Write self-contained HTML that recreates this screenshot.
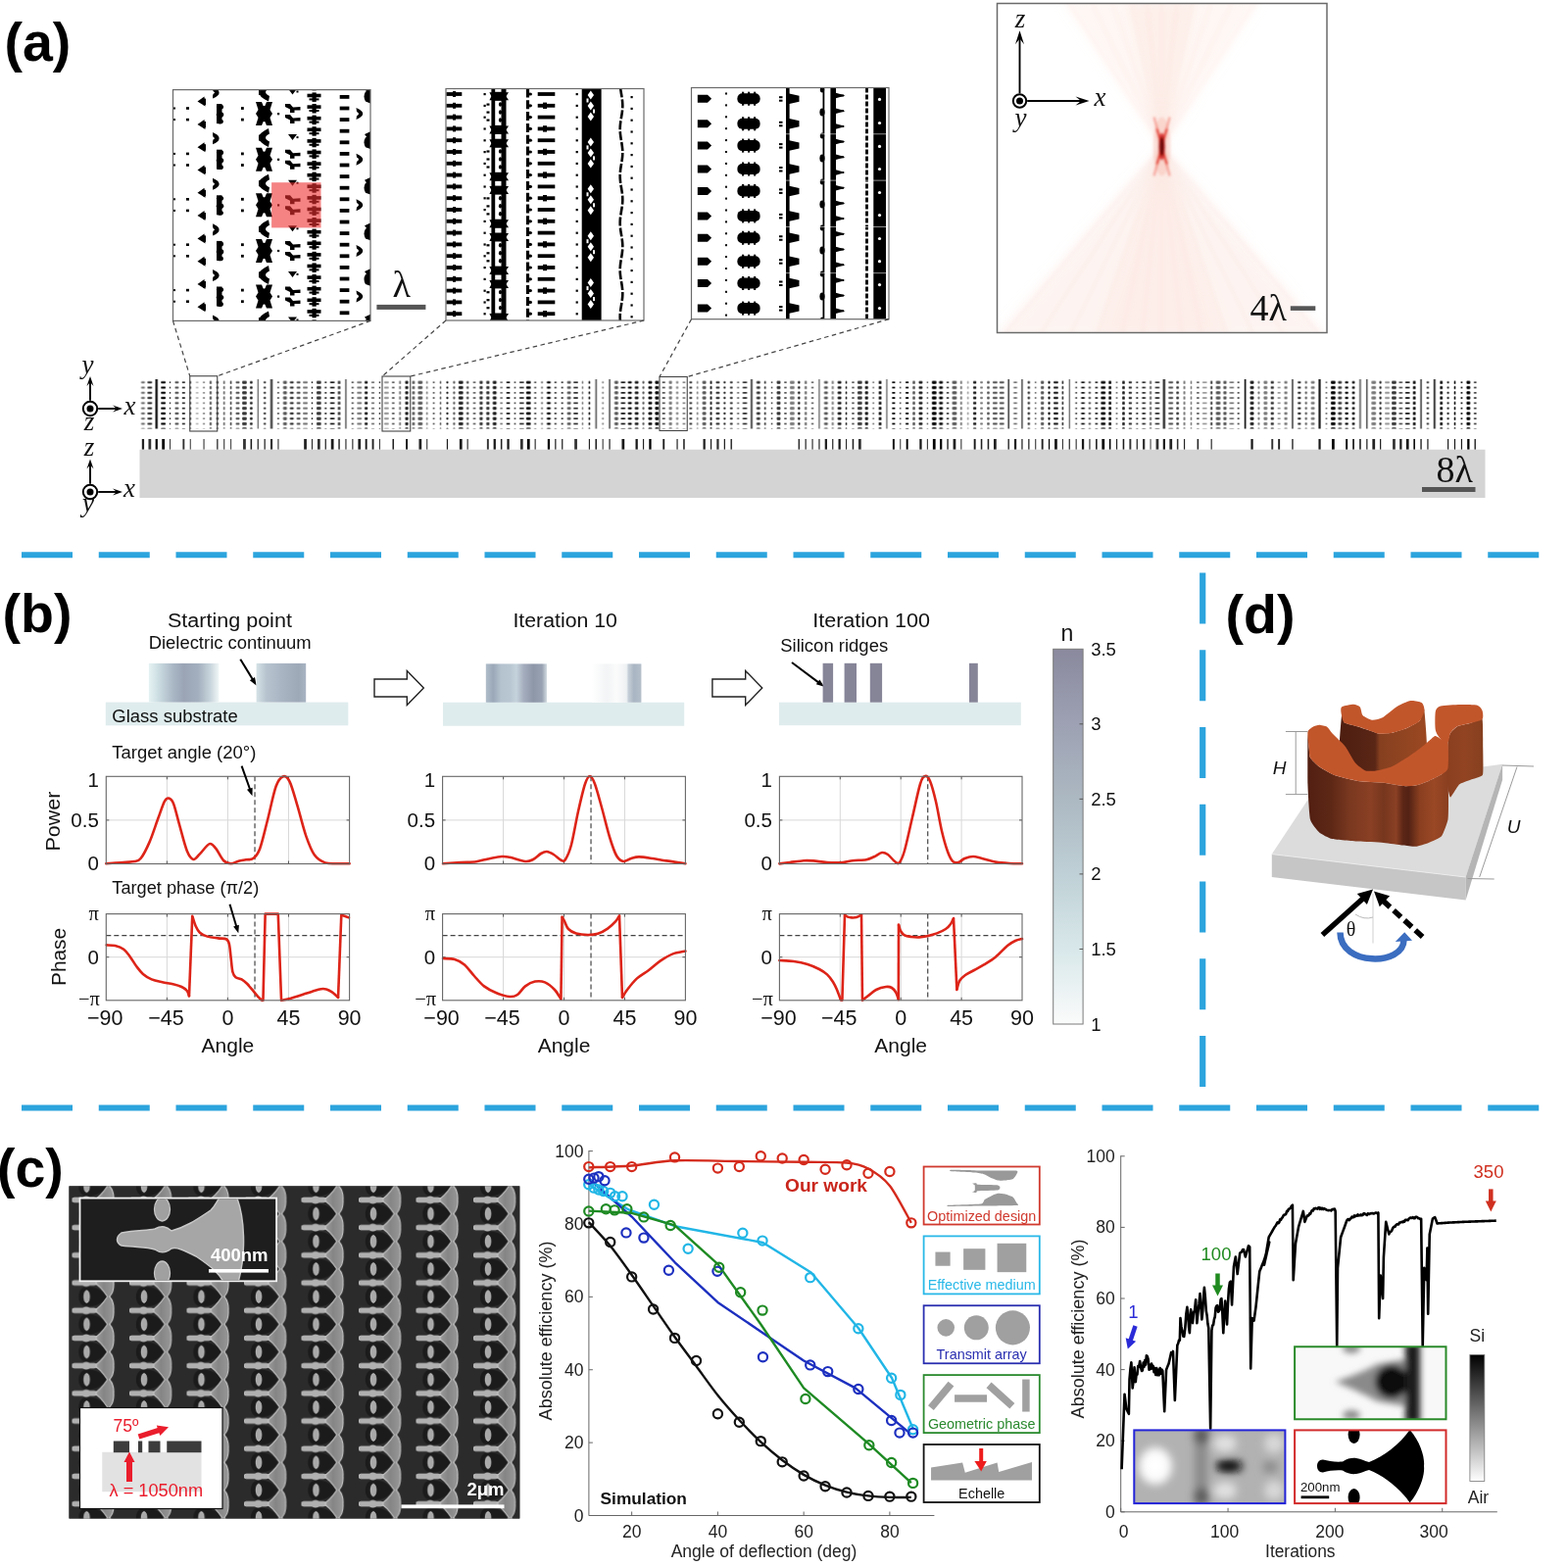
<!DOCTYPE html>
<html><head><meta charset="utf-8"><title>Figure</title>
<style>html,body{margin:0;padding:0;background:#fff;} svg{display:block;}</style></head>
<body><svg width="1600" height="1598" viewBox="0 0 1600 1598">
<defs><clipPath id="cb1"><rect x="176.5" y="91.6" width="201.5" height="235.8"/></clipPath><clipPath id="cb2"><rect x="455" y="90.5" width="202" height="236.5"/></clipPath><clipPath id="cb3"><rect x="705.5" y="89.5" width="201.5" height="236.2"/></clipPath><filter id="blur6" x="-20%" y="-20%" width="140%" height="140%"><feGaussianBlur stdDeviation="6"/></filter>
<filter id="blur2" x="-50%" y="-50%" width="200%" height="200%"><feGaussianBlur stdDeviation="2"/></filter>
<filter id="blur1" x="-50%" y="-50%" width="200%" height="200%"><feGaussianBlur stdDeviation="1.2"/></filter><clipPath id="cfb"><rect x="1017.5" y="3.5" width="336.5" height="336"/></clipPath><pattern id="sp0" patternUnits="userSpaceOnUse" x="142.5" y="387.6" width="6.9" height="5.28"><rect x="1.55" y="1.64" width="3.8" height="2" rx="0.6" fill="#777"/></pattern><pattern id="sp1" patternUnits="userSpaceOnUse" x="142.5" y="387.6" width="6.9" height="5.28"><rect x="1.15" y="1.64" width="4.6" height="2" rx="0.6" fill="#333"/></pattern><pattern id="sp2" patternUnits="userSpaceOnUse" x="142.5" y="387.6" width="6.9" height="5.28"><rect x="2.35" y="0" width="2.2" height="5.28" fill="#000"/></pattern><pattern id="sp3" patternUnits="userSpaceOnUse" x="142.5" y="387.6" width="6.9" height="5.28"><rect x="1.15" y="1.64" width="4.6" height="2" rx="0.6" fill="#000"/></pattern><pattern id="sp4" patternUnits="userSpaceOnUse" x="142.5" y="387.6" width="6.9" height="5.28"><rect x="2.65" y="1.84" width="1.6" height="1.6" rx="0.48" fill="#333"/></pattern><pattern id="sp5" patternUnits="userSpaceOnUse" x="142.5" y="387.6" width="6.9" height="5.28"><rect x="1.55" y="1.64" width="3.8" height="2" rx="0.6" fill="#555"/></pattern><pattern id="sp6" patternUnits="userSpaceOnUse" x="142.5" y="387.6" width="6.9" height="5.28"><rect x="1.85" y="1.84" width="3.2" height="1.6" rx="0.48" fill="#333"/></pattern><pattern id="sp7" patternUnits="userSpaceOnUse" x="142.5" y="387.6" width="6.9" height="5.28"><rect x="2.65" y="1.34" width="1.6" height="2.6" rx="0.48" fill="#333"/></pattern><pattern id="sp8" patternUnits="userSpaceOnUse" x="142.5" y="387.6" width="6.9" height="5.28"><rect x="2.15" y="1.84" width="2.6" height="1.6" rx="0.48" fill="#b5b5b5"/></pattern><pattern id="sp9" patternUnits="userSpaceOnUse" x="142.5" y="387.6" width="6.9" height="5.28"><rect x="2.65" y="1.84" width="1.6" height="1.6" rx="0.48" fill="#555"/></pattern><pattern id="sp10" patternUnits="userSpaceOnUse" x="142.5" y="387.6" width="6.9" height="5.28"><rect x="2.65" y="1.04" width="1.6" height="3.2" rx="0.48" fill="#1a1a1a"/></pattern><pattern id="sp11" patternUnits="userSpaceOnUse" x="142.5" y="387.6" width="6.9" height="5.28"><rect x="2.45" y="1.34" width="2" height="2.6" rx="0.6" fill="#1a1a1a"/></pattern><pattern id="sp12" patternUnits="userSpaceOnUse" x="142.5" y="387.6" width="6.9" height="5.28"><rect x="2.65" y="1.04" width="1.6" height="3.2" rx="0.48" fill="#555"/></pattern><pattern id="sp13" patternUnits="userSpaceOnUse" x="142.5" y="387.6" width="6.9" height="5.28"><rect x="2.65" y="1.04" width="1.6" height="3.2" rx="0.48" fill="#333"/></pattern><pattern id="sp14" patternUnits="userSpaceOnUse" x="142.5" y="387.6" width="6.9" height="5.28"><rect x="1.15" y="1.04" width="4.6" height="3.2" rx="0.96" fill="#333"/></pattern><pattern id="sp15" patternUnits="userSpaceOnUse" x="142.5" y="387.6" width="6.9" height="5.28"><rect x="2.15" y="1.34" width="2.6" height="2.6" rx="0.78" fill="#1a1a1a"/></pattern><pattern id="sp16" patternUnits="userSpaceOnUse" x="142.5" y="387.6" width="6.9" height="5.28"><rect x="2.85" y="0" width="1.2" height="5.28" fill="#555"/></pattern><pattern id="sp17" patternUnits="userSpaceOnUse" x="142.5" y="387.6" width="6.9" height="5.28"><rect x="2.45" y="1.64" width="2" height="2" rx="0.6" fill="#1a1a1a"/></pattern><pattern id="sp18" patternUnits="userSpaceOnUse" x="142.5" y="387.6" width="6.9" height="5.28"><rect x="2.35" y="0" width="2.2" height="5.28" fill="#333"/></pattern><pattern id="sp19" patternUnits="userSpaceOnUse" x="142.5" y="387.6" width="6.9" height="5.28"><rect x="2.65" y="1.84" width="1.6" height="1.6" rx="0.48" fill="#1a1a1a"/></pattern><pattern id="sp20" patternUnits="userSpaceOnUse" x="142.5" y="387.6" width="6.9" height="5.28"><rect x="1.55" y="1.04" width="3.8" height="3.2" rx="0.96" fill="#555"/></pattern><pattern id="sp21" patternUnits="userSpaceOnUse" x="142.5" y="387.6" width="6.9" height="5.28"><rect x="1.55" y="1.64" width="3.8" height="2" rx="0.6" fill="#333"/></pattern><pattern id="sp22" patternUnits="userSpaceOnUse" x="142.5" y="387.6" width="6.9" height="5.28"><rect x="1.15" y="1.64" width="4.6" height="2" rx="0.6" fill="#777"/></pattern><pattern id="sp23" patternUnits="userSpaceOnUse" x="142.5" y="387.6" width="6.9" height="5.28"><rect x="2.45" y="1.84" width="2" height="1.6" rx="0.48" fill="#1a1a1a"/></pattern><pattern id="sp24" patternUnits="userSpaceOnUse" x="142.5" y="387.6" width="6.9" height="5.28"><rect x="1.15" y="1.84" width="4.6" height="1.6" rx="0.48" fill="#1a1a1a"/></pattern><pattern id="sp25" patternUnits="userSpaceOnUse" x="142.5" y="387.6" width="6.9" height="5.28"><rect x="2.15" y="1.04" width="2.6" height="3.2" rx="0.78" fill="#333"/></pattern><pattern id="sp26" patternUnits="userSpaceOnUse" x="142.5" y="387.6" width="6.9" height="5.28"><rect x="2.85" y="0" width="1.2" height="5.28" fill="#333"/></pattern><pattern id="sp27" patternUnits="userSpaceOnUse" x="142.5" y="387.6" width="6.9" height="5.28"><rect x="2.45" y="1.84" width="2" height="1.6" rx="0.48" fill="#333"/></pattern><pattern id="sp28" patternUnits="userSpaceOnUse" x="142.5" y="387.6" width="6.9" height="5.28"><rect x="1.85" y="1.34" width="3.2" height="2.6" rx="0.78" fill="#1a1a1a"/></pattern><pattern id="sp29" patternUnits="userSpaceOnUse" x="142.5" y="387.6" width="6.9" height="5.28"><rect x="1.85" y="1.84" width="3.2" height="1.6" rx="0.48" fill="#777"/></pattern><pattern id="sp30" patternUnits="userSpaceOnUse" x="142.5" y="387.6" width="6.9" height="5.28"><rect x="1.15" y="1.64" width="4.6" height="2" rx="0.6" fill="#999"/></pattern><pattern id="sp31" patternUnits="userSpaceOnUse" x="142.5" y="387.6" width="6.9" height="5.28"><rect x="2.15" y="1.84" width="2.6" height="1.6" rx="0.48" fill="#555"/></pattern><pattern id="sp32" patternUnits="userSpaceOnUse" x="142.5" y="387.6" width="6.9" height="5.28"><rect x="1.85" y="1.04" width="3.2" height="3.2" rx="0.96" fill="#1a1a1a"/></pattern><pattern id="sp33" patternUnits="userSpaceOnUse" x="142.5" y="387.6" width="6.9" height="5.28"><rect x="2.15" y="1.04" width="2.6" height="3.2" rx="0.78" fill="#555"/></pattern><pattern id="sp34" patternUnits="userSpaceOnUse" x="142.5" y="387.6" width="6.9" height="5.28"><rect x="1.15" y="1.04" width="4.6" height="3.2" rx="0.96" fill="#555"/></pattern><pattern id="sp35" patternUnits="userSpaceOnUse" x="142.5" y="387.6" width="6.9" height="5.28"><rect x="2.65" y="1.34" width="1.6" height="2.6" rx="0.48" fill="#777"/></pattern><pattern id="sp36" patternUnits="userSpaceOnUse" x="142.5" y="387.6" width="6.9" height="5.28"><rect x="2.45" y="1.84" width="2" height="1.6" rx="0.48" fill="#555"/></pattern><pattern id="sp37" patternUnits="userSpaceOnUse" x="142.5" y="387.6" width="6.9" height="5.28"><rect x="2.65" y="1.34" width="1.6" height="2.6" rx="0.48" fill="#555"/></pattern><pattern id="sp38" patternUnits="userSpaceOnUse" x="142.5" y="387.6" width="6.9" height="5.28"><rect x="2.45" y="1.34" width="2" height="2.6" rx="0.6" fill="#555"/></pattern><pattern id="sp39" patternUnits="userSpaceOnUse" x="142.5" y="387.6" width="6.9" height="5.28"><rect x="1.15" y="1.04" width="4.6" height="3.2" rx="0.96" fill="#1a1a1a"/></pattern><pattern id="sp40" patternUnits="userSpaceOnUse" x="142.5" y="387.6" width="6.9" height="5.28"><rect x="2.45" y="1.34" width="2" height="2.6" rx="0.6" fill="#333"/></pattern><pattern id="sp41" patternUnits="userSpaceOnUse" x="142.5" y="387.6" width="6.9" height="5.28"><rect x="1.85" y="1.04" width="3.2" height="3.2" rx="0.96" fill="#333"/></pattern><pattern id="sp42" patternUnits="userSpaceOnUse" x="142.5" y="387.6" width="6.9" height="5.28"><rect x="1.55" y="1.04" width="3.8" height="3.2" rx="0.96" fill="#1a1a1a"/></pattern><pattern id="sp43" patternUnits="userSpaceOnUse" x="142.5" y="387.6" width="6.9" height="5.28"><rect x="2.15" y="1.84" width="2.6" height="1.6" rx="0.48" fill="#777"/></pattern><pattern id="sp44" patternUnits="userSpaceOnUse" x="142.5" y="387.6" width="6.9" height="5.28"><rect x="1.55" y="1.84" width="3.8" height="1.6" rx="0.48" fill="#1a1a1a"/></pattern><pattern id="sp45" patternUnits="userSpaceOnUse" x="142.5" y="387.6" width="6.9" height="5.28"><rect x="1.15" y="1.84" width="4.6" height="1.6" rx="0.48" fill="#333"/></pattern><pattern id="sp46" patternUnits="userSpaceOnUse" x="142.5" y="387.6" width="6.9" height="5.28"><rect x="1.15" y="1.34" width="4.6" height="2.6" rx="0.78" fill="#000"/></pattern><pattern id="sp47" patternUnits="userSpaceOnUse" x="142.5" y="387.6" width="6.9" height="5.28"><rect x="2.65" y="1.64" width="1.6" height="2" rx="0.48" fill="#555"/></pattern><pattern id="sp48" patternUnits="userSpaceOnUse" x="142.5" y="387.6" width="6.9" height="5.28"><rect x="1.55" y="1.64" width="3.8" height="2" rx="0.6" fill="#000"/></pattern><pattern id="sp49" patternUnits="userSpaceOnUse" x="142.5" y="387.6" width="6.9" height="5.28"><rect x="1.55" y="1.34" width="3.8" height="2.6" rx="0.78" fill="#555"/></pattern><pattern id="sp50" patternUnits="userSpaceOnUse" x="142.5" y="387.6" width="6.9" height="5.28"><rect x="2.65" y="1.34" width="1.6" height="2.6" rx="0.48" fill="#000"/></pattern><pattern id="sp51" patternUnits="userSpaceOnUse" x="142.5" y="387.6" width="6.9" height="5.28"><rect x="2.65" y="0" width="1.6" height="5.28" fill="#555"/></pattern><pattern id="sp52" patternUnits="userSpaceOnUse" x="142.5" y="387.6" width="6.9" height="5.28"><rect x="2.65" y="1.64" width="1.6" height="2" rx="0.48" fill="#777"/></pattern><pattern id="sp53" patternUnits="userSpaceOnUse" x="142.5" y="387.6" width="6.9" height="5.28"><rect x="2.85" y="0" width="1.2" height="5.28" fill="#1a1a1a"/></pattern><pattern id="sp54" patternUnits="userSpaceOnUse" x="142.5" y="387.6" width="6.9" height="5.28"><rect x="1.55" y="1.34" width="3.8" height="2.6" rx="0.78" fill="#1a1a1a"/></pattern><pattern id="sp55" patternUnits="userSpaceOnUse" x="142.5" y="387.6" width="6.9" height="5.28"><rect x="1.55" y="1.34" width="3.8" height="2.6" rx="0.78" fill="#000"/></pattern><pattern id="sp56" patternUnits="userSpaceOnUse" x="142.5" y="387.6" width="6.9" height="5.28"><rect x="1.55" y="1.04" width="3.8" height="3.2" rx="0.96" fill="#000"/></pattern><pattern id="sp57" patternUnits="userSpaceOnUse" x="142.5" y="387.6" width="6.9" height="5.28"><rect x="1.85" y="1.84" width="3.2" height="1.6" rx="0.48" fill="#555"/></pattern><pattern id="sp58" patternUnits="userSpaceOnUse" x="142.5" y="387.6" width="6.9" height="5.28"><rect x="1.85" y="1.04" width="3.2" height="3.2" rx="0.96" fill="#777"/></pattern><pattern id="sp59" patternUnits="userSpaceOnUse" x="142.5" y="387.6" width="6.9" height="5.28"><rect x="2.45" y="1.34" width="2" height="2.6" rx="0.6" fill="#777"/></pattern><pattern id="sp60" patternUnits="userSpaceOnUse" x="142.5" y="387.6" width="6.9" height="5.28"><rect x="2.15" y="1.64" width="2.6" height="2" rx="0.6" fill="#333"/></pattern><pattern id="sp61" patternUnits="userSpaceOnUse" x="142.5" y="387.6" width="6.9" height="5.28"><rect x="2.45" y="1.04" width="2" height="3.2" rx="0.6" fill="#1a1a1a"/></pattern><pattern id="sp62" patternUnits="userSpaceOnUse" x="142.5" y="387.6" width="6.9" height="5.28"><rect x="2.65" y="0" width="1.6" height="5.28" fill="#1a1a1a"/></pattern><pattern id="sp63" patternUnits="userSpaceOnUse" x="142.5" y="387.6" width="6.9" height="5.28"><rect x="1.55" y="1.34" width="3.8" height="2.6" rx="0.78" fill="#333"/></pattern><pattern id="sp64" patternUnits="userSpaceOnUse" x="142.5" y="387.6" width="6.9" height="5.28"><rect x="2.65" y="1.34" width="1.6" height="2.6" rx="0.48" fill="#1a1a1a"/></pattern><pattern id="sp65" patternUnits="userSpaceOnUse" x="142.5" y="387.6" width="6.9" height="5.28"><rect x="1.55" y="1.04" width="3.8" height="3.2" rx="0.96" fill="#333"/></pattern><pattern id="sp66" patternUnits="userSpaceOnUse" x="142.5" y="387.6" width="6.9" height="5.28"><rect x="1.15" y="1.04" width="4.6" height="3.2" rx="0.96" fill="#777"/></pattern><pattern id="sp67" patternUnits="userSpaceOnUse" x="142.5" y="387.6" width="6.9" height="5.28"><rect x="2.45" y="1.34" width="2" height="2.6" rx="0.6" fill="#000"/></pattern><pattern id="sp68" patternUnits="userSpaceOnUse" x="142.5" y="387.6" width="6.9" height="5.28"><rect x="2.45" y="1.04" width="2" height="3.2" rx="0.6" fill="#555"/></pattern><pattern id="sp69" patternUnits="userSpaceOnUse" x="142.5" y="387.6" width="6.9" height="5.28"><rect x="2.45" y="1.04" width="2" height="3.2" rx="0.6" fill="#777"/></pattern><pattern id="sp70" patternUnits="userSpaceOnUse" x="142.5" y="387.6" width="6.9" height="5.28"><rect x="2.15" y="1.04" width="2.6" height="3.2" rx="0.78" fill="#000"/></pattern><pattern id="sp71" patternUnits="userSpaceOnUse" x="142.5" y="387.6" width="6.9" height="5.28"><rect x="1.85" y="1.84" width="3.2" height="1.6" rx="0.48" fill="#000"/></pattern><pattern id="sp72" patternUnits="userSpaceOnUse" x="142.5" y="387.6" width="6.9" height="5.28"><rect x="1.15" y="1.04" width="4.6" height="3.2" rx="0.96" fill="#000"/></pattern><pattern id="sp73" patternUnits="userSpaceOnUse" x="142.5" y="387.6" width="6.9" height="5.28"><rect x="2.45" y="1.84" width="2" height="1.6" rx="0.48" fill="#000"/></pattern><pattern id="sp74" patternUnits="userSpaceOnUse" x="142.5" y="387.6" width="6.9" height="5.28"><rect x="2.65" y="1.34" width="1.6" height="2.6" rx="0.48" fill="#999"/></pattern><pattern id="sp75" patternUnits="userSpaceOnUse" x="142.5" y="387.6" width="6.9" height="5.28"><rect x="2.15" y="1.64" width="2.6" height="2" rx="0.6" fill="#777"/></pattern><pattern id="sp76" patternUnits="userSpaceOnUse" x="142.5" y="387.6" width="6.9" height="5.28"><rect x="2.15" y="1.34" width="2.6" height="2.6" rx="0.78" fill="#555"/></pattern><pattern id="sp77" patternUnits="userSpaceOnUse" x="142.5" y="387.6" width="6.9" height="5.28"><rect x="1.15" y="1.64" width="4.6" height="2" rx="0.6" fill="#555"/></pattern><pattern id="sp78" patternUnits="userSpaceOnUse" x="142.5" y="387.6" width="6.9" height="5.28"><rect x="2.85" y="0" width="1.2" height="5.28" fill="#000"/></pattern><pattern id="sp79" patternUnits="userSpaceOnUse" x="142.5" y="387.6" width="6.9" height="5.28"><rect x="1.55" y="1.84" width="3.8" height="1.6" rx="0.48" fill="#777"/></pattern><pattern id="sp80" patternUnits="userSpaceOnUse" x="142.5" y="387.6" width="6.9" height="5.28"><rect x="1.85" y="1.04" width="3.2" height="3.2" rx="0.96" fill="#555"/></pattern><pattern id="sp81" patternUnits="userSpaceOnUse" x="142.5" y="387.6" width="6.9" height="5.28"><rect x="1.15" y="1.64" width="4.6" height="2" rx="0.6" fill="#1a1a1a"/></pattern><pattern id="sp82" patternUnits="userSpaceOnUse" x="142.5" y="387.6" width="6.9" height="5.28"><rect x="2.45" y="1.64" width="2" height="2" rx="0.6" fill="#333"/></pattern><pattern id="sp83" patternUnits="userSpaceOnUse" x="142.5" y="387.6" width="6.9" height="5.28"><rect x="2.15" y="1.84" width="2.6" height="1.6" rx="0.48" fill="#1a1a1a"/></pattern><pattern id="sp84" patternUnits="userSpaceOnUse" x="142.5" y="387.6" width="6.9" height="5.28"><rect x="2.45" y="1.84" width="2" height="1.6" rx="0.48" fill="#777"/></pattern><pattern id="sp85" patternUnits="userSpaceOnUse" x="142.5" y="387.6" width="6.9" height="5.28"><rect x="2.15" y="1.04" width="2.6" height="3.2" rx="0.78" fill="#1a1a1a"/></pattern><pattern id="sp86" patternUnits="userSpaceOnUse" x="142.5" y="387.6" width="6.9" height="5.28"><rect x="1.85" y="1.64" width="3.2" height="2" rx="0.6" fill="#333"/></pattern><pattern id="sp87" patternUnits="userSpaceOnUse" x="142.5" y="387.6" width="6.9" height="5.28"><rect x="1.55" y="1.84" width="3.8" height="1.6" rx="0.48" fill="#333"/></pattern><pattern id="sp88" patternUnits="userSpaceOnUse" x="142.5" y="387.6" width="6.9" height="5.28"><rect x="2.35" y="0" width="2.2" height="5.28" fill="#1a1a1a"/></pattern><pattern id="sp89" patternUnits="userSpaceOnUse" x="142.5" y="387.6" width="6.9" height="5.28"><rect x="2.15" y="1.34" width="2.6" height="2.6" rx="0.78" fill="#333"/></pattern><pattern id="sp90" patternUnits="userSpaceOnUse" x="142.5" y="387.6" width="6.9" height="5.28"><rect x="2.65" y="1.04" width="1.6" height="3.2" rx="0.48" fill="#777"/></pattern><pattern id="sp91" patternUnits="userSpaceOnUse" x="142.5" y="387.6" width="6.9" height="5.28"><rect x="1.15" y="1.84" width="4.6" height="1.6" rx="0.48" fill="#999"/></pattern><pattern id="sp92" patternUnits="userSpaceOnUse" x="142.5" y="387.6" width="6.9" height="5.28"><rect x="2.65" y="1.04" width="1.6" height="3.2" rx="0.48" fill="#000"/></pattern><pattern id="sp93" patternUnits="userSpaceOnUse" x="142.5" y="387.6" width="6.9" height="5.28"><rect x="1.15" y="1.84" width="4.6" height="1.6" rx="0.48" fill="#777"/></pattern><pattern id="sp94" patternUnits="userSpaceOnUse" x="142.5" y="387.6" width="6.9" height="5.28"><rect x="2.65" y="0" width="1.6" height="5.28" fill="#000"/></pattern><pattern id="sp95" patternUnits="userSpaceOnUse" x="142.5" y="387.6" width="6.9" height="5.28"><rect x="1.55" y="1.04" width="3.8" height="3.2" rx="0.96" fill="#777"/></pattern><pattern id="sp96" patternUnits="userSpaceOnUse" x="142.5" y="387.6" width="6.9" height="5.28"><rect x="1.85" y="1.34" width="3.2" height="2.6" rx="0.78" fill="#333"/></pattern><pattern id="sp97" patternUnits="userSpaceOnUse" x="142.5" y="387.6" width="6.9" height="5.28"><rect x="1.85" y="1.84" width="3.2" height="1.6" rx="0.48" fill="#999"/></pattern><pattern id="sp98" patternUnits="userSpaceOnUse" x="142.5" y="387.6" width="6.9" height="5.28"><rect x="1.85" y="1.34" width="3.2" height="2.6" rx="0.78" fill="#777"/></pattern><pattern id="sp99" patternUnits="userSpaceOnUse" x="142.5" y="387.6" width="6.9" height="5.28"><rect x="1.55" y="1.34" width="3.8" height="2.6" rx="0.78" fill="#777"/></pattern><pattern id="sp100" patternUnits="userSpaceOnUse" x="142.5" y="387.6" width="6.9" height="5.28"><rect x="1.85" y="1.64" width="3.2" height="2" rx="0.6" fill="#000"/></pattern><pattern id="sp101" patternUnits="userSpaceOnUse" x="142.5" y="387.6" width="6.9" height="5.28"><rect x="2.15" y="1.34" width="2.6" height="2.6" rx="0.78" fill="#000"/></pattern><pattern id="sp102" patternUnits="userSpaceOnUse" x="142.5" y="387.6" width="6.9" height="5.28"><rect x="1.55" y="1.84" width="3.8" height="1.6" rx="0.48" fill="#555"/></pattern><pattern id="sp103" patternUnits="userSpaceOnUse" x="142.5" y="387.6" width="6.9" height="5.28"><rect x="2.15" y="1.84" width="2.6" height="1.6" rx="0.48" fill="#333"/></pattern><linearGradient id="gb1" x1="0" x2="1" y1="0" y2="0">
<stop offset="0" stop-color="#e6f2f3"/><stop offset="0.12" stop-color="#cfe0e4"/><stop offset="0.35" stop-color="#a9b6c4"/>
<stop offset="0.5" stop-color="#9aa4b5"/><stop offset="0.7" stop-color="#a3afbe"/><stop offset="0.88" stop-color="#c9d6dd"/><stop offset="1" stop-color="#f2f7f7"/></linearGradient>
<linearGradient id="gb2" x1="0" x2="1" y1="0" y2="0">
<stop offset="0" stop-color="#d5e2e6"/><stop offset="0.2" stop-color="#b7c4cf"/><stop offset="0.5" stop-color="#aab5c3"/>
<stop offset="0.85" stop-color="#9ea9b8"/><stop offset="1" stop-color="#a9b4c2"/></linearGradient>
<linearGradient id="gb3" x1="0" x2="1" y1="0" y2="0">
<stop offset="0" stop-color="#b0bdca"/><stop offset="0.12" stop-color="#9ba8b8"/><stop offset="0.25" stop-color="#b5c3cf"/>
<stop offset="0.4" stop-color="#b9c7d2"/><stop offset="0.5" stop-color="#c5d3dc"/><stop offset="0.62" stop-color="#a4adbd"/>
<stop offset="0.78" stop-color="#8d97a8"/><stop offset="0.92" stop-color="#98a2b2"/><stop offset="1" stop-color="#d5dee3"/></linearGradient>
<linearGradient id="gb4" x1="0" x2="1" y1="0" y2="0">
<stop offset="0" stop-color="#ffffff"/><stop offset="0.3" stop-color="#f2f4f5"/><stop offset="0.5" stop-color="#fbfbfb"/>
<stop offset="0.7" stop-color="#eef1f3"/><stop offset="0.74" stop-color="#c5cfd8"/><stop offset="0.85" stop-color="#aab5c3"/><stop offset="1" stop-color="#b4bfcb"/></linearGradient>
<linearGradient id="gcb" x1="0" x2="0" y1="0" y2="1">
<stop offset="0" stop-color="#8a899d"/><stop offset="0.2" stop-color="#9da1b3"/><stop offset="0.4" stop-color="#acb8c2"/>
<stop offset="0.6" stop-color="#bfd0d6"/><stop offset="0.8" stop-color="#d8e8ea"/><stop offset="1" stop-color="#fbfbfb"/></linearGradient><linearGradient id="dside" gradientUnits="userSpaceOnUse" x1="1334.4" x2="1477.5" y1="0" y2="0">
<stop offset="0" stop-color="#521f12"/><stop offset="0.17" stop-color="#5e2816"/><stop offset="0.3" stop-color="#7a3820"/>
<stop offset="0.45" stop-color="#8a4024"/><stop offset="0.54" stop-color="#76361e"/><stop offset="0.63" stop-color="#8a4024"/>
<stop offset="0.68" stop-color="#5c2616"/><stop offset="0.72" stop-color="#532214"/><stop offset="0.8" stop-color="#8a3f20"/>
<stop offset="0.9" stop-color="#9a4825"/><stop offset="1" stop-color="#8a3f20"/></linearGradient>
<linearGradient id="dside2" gradientUnits="userSpaceOnUse" x1="1369" x2="1454" y1="0" y2="0">
<stop offset="0" stop-color="#4e1e10"/><stop offset="0.4" stop-color="#5a2616"/><stop offset="0.46" stop-color="#86401f"/><stop offset="1" stop-color="#9a4822"/></linearGradient>
<linearGradient id="dside3" gradientUnits="userSpaceOnUse" x1="1477" x2="1513" y1="0" y2="0">
<stop offset="0" stop-color="#8a3f1f"/><stop offset="0.5" stop-color="#924422"/><stop offset="1" stop-color="#86401f"/></linearGradient><linearGradient id="fang" x1="0" x2="1" y1="0" y2="0"><stop offset="0" stop-color="#a2a2a2"/><stop offset="0.5" stop-color="#858585"/><stop offset="1" stop-color="#979797"/></linearGradient>
<pattern id="semcell" patternUnits="userSpaceOnUse" x="73.5" y="1210.35" width="58.5" height="28.2">
<rect width="58.5" height="28.2" fill="#2b2b2b"/>
<path d="M37,0 C30,-8 20,-12 12,-9.5 C5,-7 5,7 12,9.5 C20,12 30,8 37,0 Z" fill="#1b1b1b"/>
<path d="M37,28.2 C30,20.2 20,16.2 12,18.7 C5,21.2 5,35.2 12,37.7 C20,40.2 30,36.2 37,28.2 Z" fill="#1b1b1b"/>
<path d="M22,14.1 C28,12 33,5 37,-1.2 C41,2 43,8 42.6,14.1 C43,20.2 41,26.2 37,29.4 C33,23.2 28,16.2 22,14.1 Z" fill="url(#fang)" stroke="#cfcfcf" stroke-width="1"/>
<rect x="0" y="11.8" width="25" height="4.6" rx="2.3" fill="#b0b0b0" stroke="#d0d0d0" stroke-width="0.8"/>
<ellipse cx="14.5" cy="14.1" rx="4.5" ry="3.9" fill="#b0b0b0"/>
<ellipse cx="15" cy="0" rx="2.8" ry="6.2" fill="#a8a8a8" stroke="#cccccc" stroke-width="0.8"/>
<ellipse cx="15" cy="28.2" rx="2.8" ry="6.2" fill="#a8a8a8" stroke="#cccccc" stroke-width="0.8"/>
</pattern><clipPath id="cins"><rect x="82.5" y="1223.6" width="198.6" height="82.7"/></clipPath><filter id="blur4" x="-10%" y="-10%" width="120%" height="120%"><feGaussianBlur stdDeviation="4"/></filter>
<filter id="blur3" x="-10%" y="-10%" width="120%" height="120%"><feGaussianBlur stdDeviation="3"/></filter>
<linearGradient id="gsi" x1="0" x2="0" y1="0" y2="1"><stop offset="0" stop-color="#000"/><stop offset="1" stop-color="#fff"/></linearGradient><clipPath id="cbl"><rect x="1157.3" y="1459.4" width="154.1" height="74.7"/></clipPath><clipPath id="cgr"><rect x="1321.1" y="1374.25" width="154.4" height="74"/></clipPath><clipPath id="crd"><rect x="1321.1" y="1459.4" width="154.4" height="74.7"/></clipPath></defs>
<rect width="1600" height="1598" fill="#fff"/>
<g clip-path="url(#cb1)">
<rect x="313.5" y="84.1" width="14" height="3.6" fill="#000" stroke="none" stroke-width="1" />
<rect x="318.5" y="82.8" width="4.2" height="9.5" fill="#000" stroke="none" stroke-width="1" />
<rect x="315.5" y="88.8" width="10" height="2" fill="#000" stroke="none" stroke-width="1" />
<rect x="346.7" y="85.4" width="9.7" height="3.8" fill="#000" stroke="none" stroke-width="1" />
<rect x="313.5" y="95.7" width="14" height="3.6" fill="#000" stroke="none" stroke-width="1" />
<rect x="318.5" y="94.4" width="4.2" height="9.5" fill="#000" stroke="none" stroke-width="1" />
<rect x="315.5" y="100.4" width="10" height="2" fill="#000" stroke="none" stroke-width="1" />
<rect x="346.7" y="97" width="9.7" height="3.8" fill="#000" stroke="none" stroke-width="1" />
<rect x="176.8" y="109.5" width="2.2" height="2" fill="#000" stroke="none" stroke-width="1" />
<rect x="190" y="109.2" width="3" height="2.6" fill="#000" stroke="none" stroke-width="1" />
<rect x="246" y="109.1" width="2.8" height="2.8" fill="#000" stroke="none" stroke-width="1" />
<rect x="313.5" y="107.3" width="14" height="3.6" fill="#000" stroke="none" stroke-width="1" />
<rect x="318.5" y="106" width="4.2" height="9.5" fill="#000" stroke="none" stroke-width="1" />
<rect x="315.5" y="112" width="10" height="2" fill="#000" stroke="none" stroke-width="1" />
<rect x="346.7" y="108.6" width="9.7" height="3.8" fill="#000" stroke="none" stroke-width="1" />
<rect x="176.8" y="121.1" width="2.2" height="2" fill="#000" stroke="none" stroke-width="1" />
<rect x="190" y="120.8" width="3" height="2.6" fill="#000" stroke="none" stroke-width="1" />
<rect x="246" y="120.7" width="2.8" height="2.8" fill="#000" stroke="none" stroke-width="1" />
<rect x="313.5" y="118.9" width="14" height="3.6" fill="#000" stroke="none" stroke-width="1" />
<rect x="318.5" y="117.6" width="4.2" height="9.5" fill="#000" stroke="none" stroke-width="1" />
<rect x="315.5" y="123.6" width="10" height="2" fill="#000" stroke="none" stroke-width="1" />
<rect x="346.7" y="120.2" width="9.7" height="3.8" fill="#000" stroke="none" stroke-width="1" />
<rect x="313.5" y="130.5" width="14" height="3.6" fill="#000" stroke="none" stroke-width="1" />
<rect x="318.5" y="129.2" width="4.2" height="9.5" fill="#000" stroke="none" stroke-width="1" />
<rect x="315.5" y="135.2" width="10" height="2" fill="#000" stroke="none" stroke-width="1" />
<rect x="346.7" y="131.8" width="9.7" height="3.8" fill="#000" stroke="none" stroke-width="1" />
<rect x="313.5" y="142.1" width="14" height="3.6" fill="#000" stroke="none" stroke-width="1" />
<rect x="318.5" y="140.8" width="4.2" height="9.5" fill="#000" stroke="none" stroke-width="1" />
<rect x="315.5" y="146.8" width="10" height="2" fill="#000" stroke="none" stroke-width="1" />
<rect x="346.7" y="143.4" width="9.7" height="3.8" fill="#000" stroke="none" stroke-width="1" />
<rect x="176.8" y="155.9" width="2.2" height="2" fill="#000" stroke="none" stroke-width="1" />
<rect x="190" y="155.6" width="3" height="2.6" fill="#000" stroke="none" stroke-width="1" />
<rect x="246" y="155.5" width="2.8" height="2.8" fill="#000" stroke="none" stroke-width="1" />
<rect x="313.5" y="153.7" width="14" height="3.6" fill="#000" stroke="none" stroke-width="1" />
<rect x="318.5" y="152.4" width="4.2" height="9.5" fill="#000" stroke="none" stroke-width="1" />
<rect x="315.5" y="158.4" width="10" height="2" fill="#000" stroke="none" stroke-width="1" />
<rect x="346.7" y="155" width="9.7" height="3.8" fill="#000" stroke="none" stroke-width="1" />
<rect x="176.8" y="167.5" width="2.2" height="2" fill="#000" stroke="none" stroke-width="1" />
<rect x="190" y="167.2" width="3" height="2.6" fill="#000" stroke="none" stroke-width="1" />
<rect x="246" y="167.1" width="2.8" height="2.8" fill="#000" stroke="none" stroke-width="1" />
<rect x="313.5" y="165.3" width="14" height="3.6" fill="#000" stroke="none" stroke-width="1" />
<rect x="318.5" y="164" width="4.2" height="9.5" fill="#000" stroke="none" stroke-width="1" />
<rect x="315.5" y="170" width="10" height="2" fill="#000" stroke="none" stroke-width="1" />
<rect x="346.7" y="166.6" width="9.7" height="3.8" fill="#000" stroke="none" stroke-width="1" />
<rect x="313.5" y="176.9" width="14" height="3.6" fill="#000" stroke="none" stroke-width="1" />
<rect x="318.5" y="175.6" width="4.2" height="9.5" fill="#000" stroke="none" stroke-width="1" />
<rect x="315.5" y="181.6" width="10" height="2" fill="#000" stroke="none" stroke-width="1" />
<rect x="346.7" y="178.2" width="9.7" height="3.8" fill="#000" stroke="none" stroke-width="1" />
<rect x="313.5" y="188.5" width="14" height="3.6" fill="#000" stroke="none" stroke-width="1" />
<rect x="318.5" y="187.2" width="4.2" height="9.5" fill="#000" stroke="none" stroke-width="1" />
<rect x="315.5" y="193.2" width="10" height="2" fill="#000" stroke="none" stroke-width="1" />
<rect x="346.7" y="189.8" width="9.7" height="3.8" fill="#000" stroke="none" stroke-width="1" />
<rect x="176.8" y="202.3" width="2.2" height="2" fill="#000" stroke="none" stroke-width="1" />
<rect x="190" y="202" width="3" height="2.6" fill="#000" stroke="none" stroke-width="1" />
<rect x="246" y="201.9" width="2.8" height="2.8" fill="#000" stroke="none" stroke-width="1" />
<rect x="313.5" y="200.1" width="14" height="3.6" fill="#000" stroke="none" stroke-width="1" />
<rect x="318.5" y="198.8" width="4.2" height="9.5" fill="#000" stroke="none" stroke-width="1" />
<rect x="315.5" y="204.8" width="10" height="2" fill="#000" stroke="none" stroke-width="1" />
<rect x="346.7" y="201.4" width="9.7" height="3.8" fill="#000" stroke="none" stroke-width="1" />
<rect x="176.8" y="213.9" width="2.2" height="2" fill="#000" stroke="none" stroke-width="1" />
<rect x="190" y="213.6" width="3" height="2.6" fill="#000" stroke="none" stroke-width="1" />
<rect x="246" y="213.5" width="2.8" height="2.8" fill="#000" stroke="none" stroke-width="1" />
<rect x="313.5" y="211.7" width="14" height="3.6" fill="#000" stroke="none" stroke-width="1" />
<rect x="318.5" y="210.4" width="4.2" height="9.5" fill="#000" stroke="none" stroke-width="1" />
<rect x="315.5" y="216.4" width="10" height="2" fill="#000" stroke="none" stroke-width="1" />
<rect x="346.7" y="213" width="9.7" height="3.8" fill="#000" stroke="none" stroke-width="1" />
<rect x="313.5" y="223.3" width="14" height="3.6" fill="#000" stroke="none" stroke-width="1" />
<rect x="318.5" y="222" width="4.2" height="9.5" fill="#000" stroke="none" stroke-width="1" />
<rect x="315.5" y="228" width="10" height="2" fill="#000" stroke="none" stroke-width="1" />
<rect x="346.7" y="224.6" width="9.7" height="3.8" fill="#000" stroke="none" stroke-width="1" />
<rect x="313.5" y="234.9" width="14" height="3.6" fill="#000" stroke="none" stroke-width="1" />
<rect x="318.5" y="233.6" width="4.2" height="9.5" fill="#000" stroke="none" stroke-width="1" />
<rect x="315.5" y="239.6" width="10" height="2" fill="#000" stroke="none" stroke-width="1" />
<rect x="346.7" y="236.2" width="9.7" height="3.8" fill="#000" stroke="none" stroke-width="1" />
<rect x="176.8" y="248.7" width="2.2" height="2" fill="#000" stroke="none" stroke-width="1" />
<rect x="190" y="248.4" width="3" height="2.6" fill="#000" stroke="none" stroke-width="1" />
<rect x="246" y="248.3" width="2.8" height="2.8" fill="#000" stroke="none" stroke-width="1" />
<rect x="313.5" y="246.5" width="14" height="3.6" fill="#000" stroke="none" stroke-width="1" />
<rect x="318.5" y="245.2" width="4.2" height="9.5" fill="#000" stroke="none" stroke-width="1" />
<rect x="315.5" y="251.2" width="10" height="2" fill="#000" stroke="none" stroke-width="1" />
<rect x="346.7" y="247.8" width="9.7" height="3.8" fill="#000" stroke="none" stroke-width="1" />
<rect x="176.8" y="260.3" width="2.2" height="2" fill="#000" stroke="none" stroke-width="1" />
<rect x="190" y="260" width="3" height="2.6" fill="#000" stroke="none" stroke-width="1" />
<rect x="246" y="259.9" width="2.8" height="2.8" fill="#000" stroke="none" stroke-width="1" />
<rect x="313.5" y="258.1" width="14" height="3.6" fill="#000" stroke="none" stroke-width="1" />
<rect x="318.5" y="256.8" width="4.2" height="9.5" fill="#000" stroke="none" stroke-width="1" />
<rect x="315.5" y="262.8" width="10" height="2" fill="#000" stroke="none" stroke-width="1" />
<rect x="346.7" y="259.4" width="9.7" height="3.8" fill="#000" stroke="none" stroke-width="1" />
<rect x="313.5" y="269.7" width="14" height="3.6" fill="#000" stroke="none" stroke-width="1" />
<rect x="318.5" y="268.4" width="4.2" height="9.5" fill="#000" stroke="none" stroke-width="1" />
<rect x="315.5" y="274.4" width="10" height="2" fill="#000" stroke="none" stroke-width="1" />
<rect x="346.7" y="271" width="9.7" height="3.8" fill="#000" stroke="none" stroke-width="1" />
<rect x="313.5" y="281.3" width="14" height="3.6" fill="#000" stroke="none" stroke-width="1" />
<rect x="318.5" y="280" width="4.2" height="9.5" fill="#000" stroke="none" stroke-width="1" />
<rect x="315.5" y="286" width="10" height="2" fill="#000" stroke="none" stroke-width="1" />
<rect x="346.7" y="282.6" width="9.7" height="3.8" fill="#000" stroke="none" stroke-width="1" />
<rect x="176.8" y="295.1" width="2.2" height="2" fill="#000" stroke="none" stroke-width="1" />
<rect x="190" y="294.8" width="3" height="2.6" fill="#000" stroke="none" stroke-width="1" />
<rect x="246" y="294.7" width="2.8" height="2.8" fill="#000" stroke="none" stroke-width="1" />
<rect x="313.5" y="292.9" width="14" height="3.6" fill="#000" stroke="none" stroke-width="1" />
<rect x="318.5" y="291.6" width="4.2" height="9.5" fill="#000" stroke="none" stroke-width="1" />
<rect x="315.5" y="297.6" width="10" height="2" fill="#000" stroke="none" stroke-width="1" />
<rect x="346.7" y="294.2" width="9.7" height="3.8" fill="#000" stroke="none" stroke-width="1" />
<rect x="176.8" y="306.7" width="2.2" height="2" fill="#000" stroke="none" stroke-width="1" />
<rect x="190" y="306.4" width="3" height="2.6" fill="#000" stroke="none" stroke-width="1" />
<rect x="246" y="306.3" width="2.8" height="2.8" fill="#000" stroke="none" stroke-width="1" />
<rect x="313.5" y="304.5" width="14" height="3.6" fill="#000" stroke="none" stroke-width="1" />
<rect x="318.5" y="303.2" width="4.2" height="9.5" fill="#000" stroke="none" stroke-width="1" />
<rect x="315.5" y="309.2" width="10" height="2" fill="#000" stroke="none" stroke-width="1" />
<rect x="346.7" y="305.8" width="9.7" height="3.8" fill="#000" stroke="none" stroke-width="1" />
<rect x="313.5" y="316.1" width="14" height="3.6" fill="#000" stroke="none" stroke-width="1" />
<rect x="318.5" y="314.8" width="4.2" height="9.5" fill="#000" stroke="none" stroke-width="1" />
<rect x="315.5" y="320.8" width="10" height="2" fill="#000" stroke="none" stroke-width="1" />
<rect x="346.7" y="317.4" width="9.7" height="3.8" fill="#000" stroke="none" stroke-width="1" />
<rect x="313.5" y="327.7" width="14" height="3.6" fill="#000" stroke="none" stroke-width="1" />
<rect x="318.5" y="326.4" width="4.2" height="9.5" fill="#000" stroke="none" stroke-width="1" />
<rect x="315.5" y="332.4" width="10" height="2" fill="#000" stroke="none" stroke-width="1" />
<rect x="346.7" y="329" width="9.7" height="3.8" fill="#000" stroke="none" stroke-width="1" />
<rect x="176.8" y="341.5" width="2.2" height="2" fill="#000" stroke="none" stroke-width="1" />
<rect x="190" y="341.2" width="3" height="2.6" fill="#000" stroke="none" stroke-width="1" />
<rect x="246" y="341.1" width="2.8" height="2.8" fill="#000" stroke="none" stroke-width="1" />
<rect x="313.5" y="339.3" width="14" height="3.6" fill="#000" stroke="none" stroke-width="1" />
<rect x="318.5" y="338" width="4.2" height="9.5" fill="#000" stroke="none" stroke-width="1" />
<rect x="315.5" y="344" width="10" height="2" fill="#000" stroke="none" stroke-width="1" />
<rect x="346.7" y="340.6" width="9.7" height="3.8" fill="#000" stroke="none" stroke-width="1" />
<path d="M201.5,57 L208.5,52 L209.5,62 Z" fill="#000" stroke="none" stroke-width="1" />
<rect x="207" y="54" width="3" height="6.5" fill="#000" stroke="none" stroke-width="1" />
<path d="M201.5,80.3 L208.5,75.3 L209.5,85.3 Z" fill="#000" stroke="none" stroke-width="1" />
<rect x="207" y="77.3" width="3" height="6.5" fill="#000" stroke="none" stroke-width="1" />
<path d="M217,43 Q230,48.5 217,54 L217.5,50.5 Q221,48.5 217.5,46.5 Z" fill="#000"/>
<path d="M217,88.5 Q230,94 217,99.5 L217.5,96 Q221,94 217.5,92 Z" fill="#000"/>
<rect x="221" y="59.5" width="5.5" height="20" fill="#000" stroke="none" stroke-width="1" />
<ellipse cx="224.5" cy="62.5" rx="3.6" ry="2.6" fill="#000" />
<ellipse cx="224.5" cy="70.5" rx="3.8" ry="2.8" fill="#000" />
<ellipse cx="224.5" cy="77.5" rx="3.4" ry="2.4" fill="#000" />
<path d="M261,57.5 L267,57.5 L269.5,63.5 L272,57.5 L278,57.5 L275.5,65.5 L278,69.5 L275.5,73.5 L278,81.5 L272,81.5 L269.5,75.5 L267,81.5 L261,81.5 L263.5,73.5 L261,69.5 L263.5,65.5 Z" fill="#000" stroke="none" stroke-width="1" />
<rect x="264.5" y="61.5" width="10" height="16" fill="#000" stroke="none" stroke-width="1" />
<path d="M274,84.5 Q254,94 274,103.5 L275,98 Q267,94 275,90 Z" fill="#000"/>
<rect x="264" y="91" width="5" height="6" fill="#000" stroke="none" stroke-width="1" />
<rect x="283" y="68.5" width="2.2" height="2.2" fill="#000" stroke="none" stroke-width="1" />
<path d="M291,59.5 L296,59.5 L299,63 L306.5,62.5 L306.5,66 L300.5,66 L300.5,68.5 L296,68.5 L296,65 L291,62.5 Z" fill="#000" stroke="none" stroke-width="1" />
<path d="M291,70.5 L296,70.5 L299,74 L306.5,73.5 L306.5,77 L300.5,77 L300.5,79.5 L296,79.5 L296,76 L291,73.5 Z" fill="#000" stroke="none" stroke-width="1" />
<path d="M294,90.5 L303,90.5 L298.5,96.5 Z" fill="#000" stroke="none" stroke-width="1" />
<rect x="302.5" y="92.5" width="2" height="2" fill="#000" stroke="none" stroke-width="1" />
<path d="M363.5,63.5 Q377,69.5 363.5,75.5 L364,71.7 Q368,69.5 364,67.3 Z" fill="#000"/>
<path d="M378.5,45 L373,47 Q370,52 373,57 L378.5,59 Z" fill="#000"/>
<path d="M378.5,87.5 L372,90.5 L375,94.5 L372,98.5 L378.5,101.5 Z" fill="#000"/>
<path d="M201.5,103.6 L208.5,98.6 L209.5,108.6 Z" fill="#000" stroke="none" stroke-width="1" />
<rect x="207" y="100.6" width="3" height="6.5" fill="#000" stroke="none" stroke-width="1" />
<path d="M201.5,126.9 L208.5,121.9 L209.5,131.9 Z" fill="#000" stroke="none" stroke-width="1" />
<rect x="207" y="123.9" width="3" height="6.5" fill="#000" stroke="none" stroke-width="1" />
<path d="M217,89.6 Q230,95.1 217,100.6 L217.5,97.1 Q221,95.1 217.5,93.1 Z" fill="#000"/>
<path d="M217,135.1 Q230,140.6 217,146.1 L217.5,142.6 Q221,140.6 217.5,138.6 Z" fill="#000"/>
<rect x="221" y="106.1" width="5.5" height="20" fill="#000" stroke="none" stroke-width="1" />
<ellipse cx="224.5" cy="109.1" rx="3.6" ry="2.6" fill="#000" />
<ellipse cx="224.5" cy="117.1" rx="3.8" ry="2.8" fill="#000" />
<ellipse cx="224.5" cy="124.1" rx="3.4" ry="2.4" fill="#000" />
<path d="M261,104.1 L267,104.1 L269.5,110.1 L272,104.1 L278,104.1 L275.5,112.1 L278,116.1 L275.5,120.1 L278,128.1 L272,128.1 L269.5,122.1 L267,128.1 L261,128.1 L263.5,120.1 L261,116.1 L263.5,112.1 Z" fill="#000" stroke="none" stroke-width="1" />
<rect x="264.5" y="108.1" width="10" height="16" fill="#000" stroke="none" stroke-width="1" />
<path d="M274,131.1 Q254,140.6 274,150.1 L275,144.6 Q267,140.6 275,136.6 Z" fill="#000"/>
<rect x="264" y="137.6" width="5" height="6" fill="#000" stroke="none" stroke-width="1" />
<rect x="283" y="115.1" width="2.2" height="2.2" fill="#000" stroke="none" stroke-width="1" />
<path d="M291,106.1 L296,106.1 L299,109.6 L306.5,109.1 L306.5,112.6 L300.5,112.6 L300.5,115.1 L296,115.1 L296,111.6 L291,109.1 Z" fill="#000" stroke="none" stroke-width="1" />
<path d="M291,117.1 L296,117.1 L299,120.6 L306.5,120.1 L306.5,123.6 L300.5,123.6 L300.5,126.1 L296,126.1 L296,122.6 L291,120.1 Z" fill="#000" stroke="none" stroke-width="1" />
<path d="M294,137.1 L303,137.1 L298.5,143.1 Z" fill="#000" stroke="none" stroke-width="1" />
<rect x="302.5" y="139.1" width="2" height="2" fill="#000" stroke="none" stroke-width="1" />
<path d="M363.5,110.1 Q377,116.1 363.5,122.1 L364,118.3 Q368,116.1 364,113.9 Z" fill="#000"/>
<path d="M378.5,91.6 L373,93.6 Q370,98.6 373,103.6 L378.5,105.6 Z" fill="#000"/>
<path d="M378.5,134.1 L372,137.1 L375,141.1 L372,145.1 L378.5,148.1 Z" fill="#000"/>
<path d="M201.5,150.2 L208.5,145.2 L209.5,155.2 Z" fill="#000" stroke="none" stroke-width="1" />
<rect x="207" y="147.2" width="3" height="6.5" fill="#000" stroke="none" stroke-width="1" />
<path d="M201.5,173.5 L208.5,168.5 L209.5,178.5 Z" fill="#000" stroke="none" stroke-width="1" />
<rect x="207" y="170.5" width="3" height="6.5" fill="#000" stroke="none" stroke-width="1" />
<path d="M217,136.2 Q230,141.7 217,147.2 L217.5,143.7 Q221,141.7 217.5,139.7 Z" fill="#000"/>
<path d="M217,181.7 Q230,187.2 217,192.7 L217.5,189.2 Q221,187.2 217.5,185.2 Z" fill="#000"/>
<rect x="221" y="152.7" width="5.5" height="20" fill="#000" stroke="none" stroke-width="1" />
<ellipse cx="224.5" cy="155.7" rx="3.6" ry="2.6" fill="#000" />
<ellipse cx="224.5" cy="163.7" rx="3.8" ry="2.8" fill="#000" />
<ellipse cx="224.5" cy="170.7" rx="3.4" ry="2.4" fill="#000" />
<path d="M261,150.7 L267,150.7 L269.5,156.7 L272,150.7 L278,150.7 L275.5,158.7 L278,162.7 L275.5,166.7 L278,174.7 L272,174.7 L269.5,168.7 L267,174.7 L261,174.7 L263.5,166.7 L261,162.7 L263.5,158.7 Z" fill="#000" stroke="none" stroke-width="1" />
<rect x="264.5" y="154.7" width="10" height="16" fill="#000" stroke="none" stroke-width="1" />
<path d="M274,177.7 Q254,187.2 274,196.7 L275,191.2 Q267,187.2 275,183.2 Z" fill="#000"/>
<rect x="264" y="184.2" width="5" height="6" fill="#000" stroke="none" stroke-width="1" />
<rect x="283" y="161.7" width="2.2" height="2.2" fill="#000" stroke="none" stroke-width="1" />
<path d="M291,152.7 L296,152.7 L299,156.2 L306.5,155.7 L306.5,159.2 L300.5,159.2 L300.5,161.7 L296,161.7 L296,158.2 L291,155.7 Z" fill="#000" stroke="none" stroke-width="1" />
<path d="M291,163.7 L296,163.7 L299,167.2 L306.5,166.7 L306.5,170.2 L300.5,170.2 L300.5,172.7 L296,172.7 L296,169.2 L291,166.7 Z" fill="#000" stroke="none" stroke-width="1" />
<path d="M294,183.7 L303,183.7 L298.5,189.7 Z" fill="#000" stroke="none" stroke-width="1" />
<rect x="302.5" y="185.7" width="2" height="2" fill="#000" stroke="none" stroke-width="1" />
<path d="M363.5,156.7 Q377,162.7 363.5,168.7 L364,164.9 Q368,162.7 364,160.5 Z" fill="#000"/>
<path d="M378.5,138.2 L373,140.2 Q370,145.2 373,150.2 L378.5,152.2 Z" fill="#000"/>
<path d="M378.5,180.7 L372,183.7 L375,187.7 L372,191.7 L378.5,194.7 Z" fill="#000"/>
<path d="M201.5,196.8 L208.5,191.8 L209.5,201.8 Z" fill="#000" stroke="none" stroke-width="1" />
<rect x="207" y="193.8" width="3" height="6.5" fill="#000" stroke="none" stroke-width="1" />
<path d="M201.5,220.1 L208.5,215.1 L209.5,225.1 Z" fill="#000" stroke="none" stroke-width="1" />
<rect x="207" y="217.1" width="3" height="6.5" fill="#000" stroke="none" stroke-width="1" />
<path d="M217,182.8 Q230,188.3 217,193.8 L217.5,190.3 Q221,188.3 217.5,186.3 Z" fill="#000"/>
<path d="M217,228.3 Q230,233.8 217,239.3 L217.5,235.8 Q221,233.8 217.5,231.8 Z" fill="#000"/>
<rect x="221" y="199.3" width="5.5" height="20" fill="#000" stroke="none" stroke-width="1" />
<ellipse cx="224.5" cy="202.3" rx="3.6" ry="2.6" fill="#000" />
<ellipse cx="224.5" cy="210.3" rx="3.8" ry="2.8" fill="#000" />
<ellipse cx="224.5" cy="217.3" rx="3.4" ry="2.4" fill="#000" />
<path d="M261,197.3 L267,197.3 L269.5,203.3 L272,197.3 L278,197.3 L275.5,205.3 L278,209.3 L275.5,213.3 L278,221.3 L272,221.3 L269.5,215.3 L267,221.3 L261,221.3 L263.5,213.3 L261,209.3 L263.5,205.3 Z" fill="#000" stroke="none" stroke-width="1" />
<rect x="264.5" y="201.3" width="10" height="16" fill="#000" stroke="none" stroke-width="1" />
<path d="M274,224.3 Q254,233.8 274,243.3 L275,237.8 Q267,233.8 275,229.8 Z" fill="#000"/>
<rect x="264" y="230.8" width="5" height="6" fill="#000" stroke="none" stroke-width="1" />
<rect x="283" y="208.3" width="2.2" height="2.2" fill="#000" stroke="none" stroke-width="1" />
<path d="M291,199.3 L296,199.3 L299,202.8 L306.5,202.3 L306.5,205.8 L300.5,205.8 L300.5,208.3 L296,208.3 L296,204.8 L291,202.3 Z" fill="#000" stroke="none" stroke-width="1" />
<path d="M291,210.3 L296,210.3 L299,213.8 L306.5,213.3 L306.5,216.8 L300.5,216.8 L300.5,219.3 L296,219.3 L296,215.8 L291,213.3 Z" fill="#000" stroke="none" stroke-width="1" />
<path d="M294,230.3 L303,230.3 L298.5,236.3 Z" fill="#000" stroke="none" stroke-width="1" />
<rect x="302.5" y="232.3" width="2" height="2" fill="#000" stroke="none" stroke-width="1" />
<path d="M363.5,203.3 Q377,209.3 363.5,215.3 L364,211.5 Q368,209.3 364,207.1 Z" fill="#000"/>
<path d="M378.5,184.8 L373,186.8 Q370,191.8 373,196.8 L378.5,198.8 Z" fill="#000"/>
<path d="M378.5,227.3 L372,230.3 L375,234.3 L372,238.3 L378.5,241.3 Z" fill="#000"/>
<path d="M201.5,243.4 L208.5,238.4 L209.5,248.4 Z" fill="#000" stroke="none" stroke-width="1" />
<rect x="207" y="240.4" width="3" height="6.5" fill="#000" stroke="none" stroke-width="1" />
<path d="M201.5,266.7 L208.5,261.7 L209.5,271.7 Z" fill="#000" stroke="none" stroke-width="1" />
<rect x="207" y="263.7" width="3" height="6.5" fill="#000" stroke="none" stroke-width="1" />
<path d="M217,229.4 Q230,234.9 217,240.4 L217.5,236.9 Q221,234.9 217.5,232.9 Z" fill="#000"/>
<path d="M217,274.9 Q230,280.4 217,285.9 L217.5,282.4 Q221,280.4 217.5,278.4 Z" fill="#000"/>
<rect x="221" y="245.9" width="5.5" height="20" fill="#000" stroke="none" stroke-width="1" />
<ellipse cx="224.5" cy="248.9" rx="3.6" ry="2.6" fill="#000" />
<ellipse cx="224.5" cy="256.9" rx="3.8" ry="2.8" fill="#000" />
<ellipse cx="224.5" cy="263.9" rx="3.4" ry="2.4" fill="#000" />
<path d="M261,243.9 L267,243.9 L269.5,249.9 L272,243.9 L278,243.9 L275.5,251.9 L278,255.9 L275.5,259.9 L278,267.9 L272,267.9 L269.5,261.9 L267,267.9 L261,267.9 L263.5,259.9 L261,255.9 L263.5,251.9 Z" fill="#000" stroke="none" stroke-width="1" />
<rect x="264.5" y="247.9" width="10" height="16" fill="#000" stroke="none" stroke-width="1" />
<path d="M274,270.9 Q254,280.4 274,289.9 L275,284.4 Q267,280.4 275,276.4 Z" fill="#000"/>
<rect x="264" y="277.4" width="5" height="6" fill="#000" stroke="none" stroke-width="1" />
<rect x="283" y="254.9" width="2.2" height="2.2" fill="#000" stroke="none" stroke-width="1" />
<path d="M291,245.9 L296,245.9 L299,249.4 L306.5,248.9 L306.5,252.4 L300.5,252.4 L300.5,254.9 L296,254.9 L296,251.4 L291,248.9 Z" fill="#000" stroke="none" stroke-width="1" />
<path d="M291,256.9 L296,256.9 L299,260.4 L306.5,259.9 L306.5,263.4 L300.5,263.4 L300.5,265.9 L296,265.9 L296,262.4 L291,259.9 Z" fill="#000" stroke="none" stroke-width="1" />
<path d="M294,276.9 L303,276.9 L298.5,282.9 Z" fill="#000" stroke="none" stroke-width="1" />
<rect x="302.5" y="278.9" width="2" height="2" fill="#000" stroke="none" stroke-width="1" />
<path d="M363.5,249.9 Q377,255.9 363.5,261.9 L364,258.1 Q368,255.9 364,253.7 Z" fill="#000"/>
<path d="M378.5,231.4 L373,233.4 Q370,238.4 373,243.4 L378.5,245.4 Z" fill="#000"/>
<path d="M378.5,273.9 L372,276.9 L375,280.9 L372,284.9 L378.5,287.9 Z" fill="#000"/>
<path d="M201.5,290 L208.5,285 L209.5,295 Z" fill="#000" stroke="none" stroke-width="1" />
<rect x="207" y="287" width="3" height="6.5" fill="#000" stroke="none" stroke-width="1" />
<path d="M201.5,313.3 L208.5,308.3 L209.5,318.3 Z" fill="#000" stroke="none" stroke-width="1" />
<rect x="207" y="310.3" width="3" height="6.5" fill="#000" stroke="none" stroke-width="1" />
<path d="M217,276 Q230,281.5 217,287 L217.5,283.5 Q221,281.5 217.5,279.5 Z" fill="#000"/>
<path d="M217,321.5 Q230,327 217,332.5 L217.5,329 Q221,327 217.5,325 Z" fill="#000"/>
<rect x="221" y="292.5" width="5.5" height="20" fill="#000" stroke="none" stroke-width="1" />
<ellipse cx="224.5" cy="295.5" rx="3.6" ry="2.6" fill="#000" />
<ellipse cx="224.5" cy="303.5" rx="3.8" ry="2.8" fill="#000" />
<ellipse cx="224.5" cy="310.5" rx="3.4" ry="2.4" fill="#000" />
<path d="M261,290.5 L267,290.5 L269.5,296.5 L272,290.5 L278,290.5 L275.5,298.5 L278,302.5 L275.5,306.5 L278,314.5 L272,314.5 L269.5,308.5 L267,314.5 L261,314.5 L263.5,306.5 L261,302.5 L263.5,298.5 Z" fill="#000" stroke="none" stroke-width="1" />
<rect x="264.5" y="294.5" width="10" height="16" fill="#000" stroke="none" stroke-width="1" />
<path d="M274,317.5 Q254,327 274,336.5 L275,331 Q267,327 275,323 Z" fill="#000"/>
<rect x="264" y="324" width="5" height="6" fill="#000" stroke="none" stroke-width="1" />
<rect x="283" y="301.5" width="2.2" height="2.2" fill="#000" stroke="none" stroke-width="1" />
<path d="M291,292.5 L296,292.5 L299,296 L306.5,295.5 L306.5,299 L300.5,299 L300.5,301.5 L296,301.5 L296,298 L291,295.5 Z" fill="#000" stroke="none" stroke-width="1" />
<path d="M291,303.5 L296,303.5 L299,307 L306.5,306.5 L306.5,310 L300.5,310 L300.5,312.5 L296,312.5 L296,309 L291,306.5 Z" fill="#000" stroke="none" stroke-width="1" />
<path d="M294,323.5 L303,323.5 L298.5,329.5 Z" fill="#000" stroke="none" stroke-width="1" />
<rect x="302.5" y="325.5" width="2" height="2" fill="#000" stroke="none" stroke-width="1" />
<path d="M363.5,296.5 Q377,302.5 363.5,308.5 L364,304.7 Q368,302.5 364,300.3 Z" fill="#000"/>
<path d="M378.5,278 L373,280 Q370,285 373,290 L378.5,292 Z" fill="#000"/>
<path d="M378.5,320.5 L372,323.5 L375,327.5 L372,331.5 L378.5,334.5 Z" fill="#000"/>
<path d="M201.5,336.6 L208.5,331.6 L209.5,341.6 Z" fill="#000" stroke="none" stroke-width="1" />
<rect x="207" y="333.6" width="3" height="6.5" fill="#000" stroke="none" stroke-width="1" />
<path d="M201.5,359.9 L208.5,354.9 L209.5,364.9 Z" fill="#000" stroke="none" stroke-width="1" />
<rect x="207" y="356.9" width="3" height="6.5" fill="#000" stroke="none" stroke-width="1" />
<path d="M217,322.6 Q230,328.1 217,333.6 L217.5,330.1 Q221,328.1 217.5,326.1 Z" fill="#000"/>
<path d="M217,368.1 Q230,373.6 217,379.1 L217.5,375.6 Q221,373.6 217.5,371.6 Z" fill="#000"/>
<rect x="221" y="339.1" width="5.5" height="20" fill="#000" stroke="none" stroke-width="1" />
<ellipse cx="224.5" cy="342.1" rx="3.6" ry="2.6" fill="#000" />
<ellipse cx="224.5" cy="350.1" rx="3.8" ry="2.8" fill="#000" />
<ellipse cx="224.5" cy="357.1" rx="3.4" ry="2.4" fill="#000" />
<path d="M261,337.1 L267,337.1 L269.5,343.1 L272,337.1 L278,337.1 L275.5,345.1 L278,349.1 L275.5,353.1 L278,361.1 L272,361.1 L269.5,355.1 L267,361.1 L261,361.1 L263.5,353.1 L261,349.1 L263.5,345.1 Z" fill="#000" stroke="none" stroke-width="1" />
<rect x="264.5" y="341.1" width="10" height="16" fill="#000" stroke="none" stroke-width="1" />
<path d="M274,364.1 Q254,373.6 274,383.1 L275,377.6 Q267,373.6 275,369.6 Z" fill="#000"/>
<rect x="264" y="370.6" width="5" height="6" fill="#000" stroke="none" stroke-width="1" />
<rect x="283" y="348.1" width="2.2" height="2.2" fill="#000" stroke="none" stroke-width="1" />
<path d="M291,339.1 L296,339.1 L299,342.6 L306.5,342.1 L306.5,345.6 L300.5,345.6 L300.5,348.1 L296,348.1 L296,344.6 L291,342.1 Z" fill="#000" stroke="none" stroke-width="1" />
<path d="M291,350.1 L296,350.1 L299,353.6 L306.5,353.1 L306.5,356.6 L300.5,356.6 L300.5,359.1 L296,359.1 L296,355.6 L291,353.1 Z" fill="#000" stroke="none" stroke-width="1" />
<path d="M294,370.1 L303,370.1 L298.5,376.1 Z" fill="#000" stroke="none" stroke-width="1" />
<rect x="302.5" y="372.1" width="2" height="2" fill="#000" stroke="none" stroke-width="1" />
<path d="M363.5,343.1 Q377,349.1 363.5,355.1 L364,351.3 Q368,349.1 364,346.9 Z" fill="#000"/>
<path d="M378.5,324.6 L373,326.6 Q370,331.6 373,336.6 L378.5,338.6 Z" fill="#000"/>
<path d="M378.5,367.1 L372,370.1 L375,374.1 L372,378.1 L378.5,381.1 Z" fill="#000"/>
<path d="M201.5,383.2 L208.5,378.2 L209.5,388.2 Z" fill="#000" stroke="none" stroke-width="1" />
<rect x="207" y="380.2" width="3" height="6.5" fill="#000" stroke="none" stroke-width="1" />
<path d="M201.5,406.5 L208.5,401.5 L209.5,411.5 Z" fill="#000" stroke="none" stroke-width="1" />
<rect x="207" y="403.5" width="3" height="6.5" fill="#000" stroke="none" stroke-width="1" />
<path d="M217,369.2 Q230,374.7 217,380.2 L217.5,376.7 Q221,374.7 217.5,372.7 Z" fill="#000"/>
<path d="M217,414.7 Q230,420.2 217,425.7 L217.5,422.2 Q221,420.2 217.5,418.2 Z" fill="#000"/>
<rect x="221" y="385.7" width="5.5" height="20" fill="#000" stroke="none" stroke-width="1" />
<ellipse cx="224.5" cy="388.7" rx="3.6" ry="2.6" fill="#000" />
<ellipse cx="224.5" cy="396.7" rx="3.8" ry="2.8" fill="#000" />
<ellipse cx="224.5" cy="403.7" rx="3.4" ry="2.4" fill="#000" />
<path d="M261,383.7 L267,383.7 L269.5,389.7 L272,383.7 L278,383.7 L275.5,391.7 L278,395.7 L275.5,399.7 L278,407.7 L272,407.7 L269.5,401.7 L267,407.7 L261,407.7 L263.5,399.7 L261,395.7 L263.5,391.7 Z" fill="#000" stroke="none" stroke-width="1" />
<rect x="264.5" y="387.7" width="10" height="16" fill="#000" stroke="none" stroke-width="1" />
<path d="M274,410.7 Q254,420.2 274,429.7 L275,424.2 Q267,420.2 275,416.2 Z" fill="#000"/>
<rect x="264" y="417.2" width="5" height="6" fill="#000" stroke="none" stroke-width="1" />
<rect x="283" y="394.7" width="2.2" height="2.2" fill="#000" stroke="none" stroke-width="1" />
<path d="M291,385.7 L296,385.7 L299,389.2 L306.5,388.7 L306.5,392.2 L300.5,392.2 L300.5,394.7 L296,394.7 L296,391.2 L291,388.7 Z" fill="#000" stroke="none" stroke-width="1" />
<path d="M291,396.7 L296,396.7 L299,400.2 L306.5,399.7 L306.5,403.2 L300.5,403.2 L300.5,405.7 L296,405.7 L296,402.2 L291,399.7 Z" fill="#000" stroke="none" stroke-width="1" />
<path d="M294,416.7 L303,416.7 L298.5,422.7 Z" fill="#000" stroke="none" stroke-width="1" />
<rect x="302.5" y="418.7" width="2" height="2" fill="#000" stroke="none" stroke-width="1" />
<path d="M363.5,389.7 Q377,395.7 363.5,401.7 L364,397.9 Q368,395.7 364,393.5 Z" fill="#000"/>
<path d="M378.5,371.2 L373,373.2 Q370,378.2 373,383.2 L378.5,385.2 Z" fill="#000"/>
<path d="M378.5,413.7 L372,416.7 L375,420.7 L372,424.7 L378.5,427.7 Z" fill="#000"/>
</g>
<rect x="277.1" y="186.2" width="50.4" height="46.2" fill="#ee3030" stroke="none" stroke-width="1" fill-opacity="0.6"/>
<rect x="176.5" y="91.6" width="201.5" height="235.8" fill="none" stroke="#6a6a6a" stroke-width="1.2" />
<rect x="384.4" y="310.9" width="50" height="5" fill="#555" stroke="none" stroke-width="1" />
<text x="409.8" y="303" font-family="'Liberation Serif', 'Times New Roman', serif" font-size="38" text-anchor="middle" fill="#111" font-weight="normal" font-style="normal" >λ</text>
<g clip-path="url(#cb2)">
<rect x="455.4" y="82.3" width="15.9" height="3.8" fill="#000" stroke="none" stroke-width="1" />
<rect x="462" y="81.2" width="3" height="6" fill="#000" stroke="none" stroke-width="1" />
<rect x="493.5" y="83.2" width="2.2" height="2.2" fill="#000" stroke="none" stroke-width="1" />
<rect x="548.7" y="82.3" width="17.6" height="3.8" fill="#000" stroke="none" stroke-width="1" />
<rect x="554" y="81" width="4" height="6.4" fill="#000" stroke="none" stroke-width="1" />
<rect x="587.6" y="83.2" width="2.2" height="2.2" fill="#000" stroke="none" stroke-width="1" />
<rect x="643.5" y="86.2" width="2.2" height="2.2" fill="#000" stroke="none" stroke-width="1" />
<rect x="455.4" y="94.1" width="15.9" height="3.8" fill="#000" stroke="none" stroke-width="1" />
<rect x="462" y="93" width="3" height="6" fill="#000" stroke="none" stroke-width="1" />
<rect x="493.5" y="95" width="2.2" height="2.2" fill="#000" stroke="none" stroke-width="1" />
<rect x="548.7" y="94.1" width="17.6" height="3.8" fill="#000" stroke="none" stroke-width="1" />
<rect x="587.6" y="95" width="2.2" height="2.2" fill="#000" stroke="none" stroke-width="1" />
<rect x="643.5" y="98" width="2.2" height="2.2" fill="#000" stroke="none" stroke-width="1" />
<rect x="455.4" y="105.9" width="15.9" height="3.8" fill="#000" stroke="none" stroke-width="1" />
<rect x="462" y="104.8" width="3" height="6" fill="#000" stroke="none" stroke-width="1" />
<rect x="493.5" y="106.8" width="2.2" height="2.2" fill="#000" stroke="none" stroke-width="1" />
<rect x="548.7" y="105.9" width="17.6" height="3.8" fill="#000" stroke="none" stroke-width="1" />
<rect x="554" y="104.6" width="4" height="6.4" fill="#000" stroke="none" stroke-width="1" />
<rect x="587.6" y="106.8" width="2.2" height="2.2" fill="#000" stroke="none" stroke-width="1" />
<rect x="643.5" y="109.8" width="2.2" height="2.2" fill="#000" stroke="none" stroke-width="1" />
<rect x="455.4" y="117.7" width="15.9" height="3.8" fill="#000" stroke="none" stroke-width="1" />
<rect x="462" y="116.6" width="3" height="6" fill="#000" stroke="none" stroke-width="1" />
<rect x="493.5" y="118.6" width="2.2" height="2.2" fill="#000" stroke="none" stroke-width="1" />
<rect x="548.7" y="117.7" width="17.6" height="3.8" fill="#000" stroke="none" stroke-width="1" />
<rect x="587.6" y="118.6" width="2.2" height="2.2" fill="#000" stroke="none" stroke-width="1" />
<rect x="643.5" y="121.6" width="2.2" height="2.2" fill="#000" stroke="none" stroke-width="1" />
<rect x="455.4" y="129.5" width="15.9" height="3.8" fill="#000" stroke="none" stroke-width="1" />
<rect x="462" y="128.4" width="3" height="6" fill="#000" stroke="none" stroke-width="1" />
<rect x="493.5" y="130.4" width="2.2" height="2.2" fill="#000" stroke="none" stroke-width="1" />
<rect x="548.7" y="129.5" width="17.6" height="3.8" fill="#000" stroke="none" stroke-width="1" />
<rect x="554" y="128.2" width="4" height="6.4" fill="#000" stroke="none" stroke-width="1" />
<rect x="587.6" y="130.4" width="2.2" height="2.2" fill="#000" stroke="none" stroke-width="1" />
<rect x="643.5" y="133.4" width="2.2" height="2.2" fill="#000" stroke="none" stroke-width="1" />
<rect x="455.4" y="141.3" width="15.9" height="3.8" fill="#000" stroke="none" stroke-width="1" />
<rect x="462" y="140.2" width="3" height="6" fill="#000" stroke="none" stroke-width="1" />
<rect x="493.5" y="142.2" width="2.2" height="2.2" fill="#000" stroke="none" stroke-width="1" />
<rect x="548.7" y="141.3" width="17.6" height="3.8" fill="#000" stroke="none" stroke-width="1" />
<rect x="587.6" y="142.2" width="2.2" height="2.2" fill="#000" stroke="none" stroke-width="1" />
<rect x="643.5" y="145.2" width="2.2" height="2.2" fill="#000" stroke="none" stroke-width="1" />
<rect x="455.4" y="153.1" width="15.9" height="3.8" fill="#000" stroke="none" stroke-width="1" />
<rect x="462" y="152" width="3" height="6" fill="#000" stroke="none" stroke-width="1" />
<rect x="493.5" y="154" width="2.2" height="2.2" fill="#000" stroke="none" stroke-width="1" />
<rect x="548.7" y="153.1" width="17.6" height="3.8" fill="#000" stroke="none" stroke-width="1" />
<rect x="554" y="151.8" width="4" height="6.4" fill="#000" stroke="none" stroke-width="1" />
<rect x="587.6" y="154" width="2.2" height="2.2" fill="#000" stroke="none" stroke-width="1" />
<rect x="643.5" y="157" width="2.2" height="2.2" fill="#000" stroke="none" stroke-width="1" />
<rect x="455.4" y="164.9" width="15.9" height="3.8" fill="#000" stroke="none" stroke-width="1" />
<rect x="462" y="163.8" width="3" height="6" fill="#000" stroke="none" stroke-width="1" />
<rect x="493.5" y="165.8" width="2.2" height="2.2" fill="#000" stroke="none" stroke-width="1" />
<rect x="548.7" y="164.9" width="17.6" height="3.8" fill="#000" stroke="none" stroke-width="1" />
<rect x="587.6" y="165.8" width="2.2" height="2.2" fill="#000" stroke="none" stroke-width="1" />
<rect x="643.5" y="168.8" width="2.2" height="2.2" fill="#000" stroke="none" stroke-width="1" />
<rect x="455.4" y="176.7" width="15.9" height="3.8" fill="#000" stroke="none" stroke-width="1" />
<rect x="462" y="175.6" width="3" height="6" fill="#000" stroke="none" stroke-width="1" />
<rect x="493.5" y="177.6" width="2.2" height="2.2" fill="#000" stroke="none" stroke-width="1" />
<rect x="548.7" y="176.7" width="17.6" height="3.8" fill="#000" stroke="none" stroke-width="1" />
<rect x="554" y="175.4" width="4" height="6.4" fill="#000" stroke="none" stroke-width="1" />
<rect x="587.6" y="177.6" width="2.2" height="2.2" fill="#000" stroke="none" stroke-width="1" />
<rect x="643.5" y="180.6" width="2.2" height="2.2" fill="#000" stroke="none" stroke-width="1" />
<rect x="455.4" y="188.5" width="15.9" height="3.8" fill="#000" stroke="none" stroke-width="1" />
<rect x="462" y="187.4" width="3" height="6" fill="#000" stroke="none" stroke-width="1" />
<rect x="493.5" y="189.4" width="2.2" height="2.2" fill="#000" stroke="none" stroke-width="1" />
<rect x="548.7" y="188.5" width="17.6" height="3.8" fill="#000" stroke="none" stroke-width="1" />
<rect x="587.6" y="189.4" width="2.2" height="2.2" fill="#000" stroke="none" stroke-width="1" />
<rect x="643.5" y="192.4" width="2.2" height="2.2" fill="#000" stroke="none" stroke-width="1" />
<rect x="455.4" y="200.3" width="15.9" height="3.8" fill="#000" stroke="none" stroke-width="1" />
<rect x="462" y="199.2" width="3" height="6" fill="#000" stroke="none" stroke-width="1" />
<rect x="493.5" y="201.2" width="2.2" height="2.2" fill="#000" stroke="none" stroke-width="1" />
<rect x="548.7" y="200.3" width="17.6" height="3.8" fill="#000" stroke="none" stroke-width="1" />
<rect x="554" y="199" width="4" height="6.4" fill="#000" stroke="none" stroke-width="1" />
<rect x="587.6" y="201.2" width="2.2" height="2.2" fill="#000" stroke="none" stroke-width="1" />
<rect x="643.5" y="204.2" width="2.2" height="2.2" fill="#000" stroke="none" stroke-width="1" />
<rect x="455.4" y="212.1" width="15.9" height="3.8" fill="#000" stroke="none" stroke-width="1" />
<rect x="462" y="211" width="3" height="6" fill="#000" stroke="none" stroke-width="1" />
<rect x="493.5" y="213" width="2.2" height="2.2" fill="#000" stroke="none" stroke-width="1" />
<rect x="548.7" y="212.1" width="17.6" height="3.8" fill="#000" stroke="none" stroke-width="1" />
<rect x="587.6" y="213" width="2.2" height="2.2" fill="#000" stroke="none" stroke-width="1" />
<rect x="643.5" y="216" width="2.2" height="2.2" fill="#000" stroke="none" stroke-width="1" />
<rect x="455.4" y="223.9" width="15.9" height="3.8" fill="#000" stroke="none" stroke-width="1" />
<rect x="462" y="222.8" width="3" height="6" fill="#000" stroke="none" stroke-width="1" />
<rect x="493.5" y="224.8" width="2.2" height="2.2" fill="#000" stroke="none" stroke-width="1" />
<rect x="548.7" y="223.9" width="17.6" height="3.8" fill="#000" stroke="none" stroke-width="1" />
<rect x="554" y="222.6" width="4" height="6.4" fill="#000" stroke="none" stroke-width="1" />
<rect x="587.6" y="224.8" width="2.2" height="2.2" fill="#000" stroke="none" stroke-width="1" />
<rect x="643.5" y="227.8" width="2.2" height="2.2" fill="#000" stroke="none" stroke-width="1" />
<rect x="455.4" y="235.7" width="15.9" height="3.8" fill="#000" stroke="none" stroke-width="1" />
<rect x="462" y="234.6" width="3" height="6" fill="#000" stroke="none" stroke-width="1" />
<rect x="493.5" y="236.6" width="2.2" height="2.2" fill="#000" stroke="none" stroke-width="1" />
<rect x="548.7" y="235.7" width="17.6" height="3.8" fill="#000" stroke="none" stroke-width="1" />
<rect x="587.6" y="236.6" width="2.2" height="2.2" fill="#000" stroke="none" stroke-width="1" />
<rect x="643.5" y="239.6" width="2.2" height="2.2" fill="#000" stroke="none" stroke-width="1" />
<rect x="455.4" y="247.5" width="15.9" height="3.8" fill="#000" stroke="none" stroke-width="1" />
<rect x="462" y="246.4" width="3" height="6" fill="#000" stroke="none" stroke-width="1" />
<rect x="493.5" y="248.4" width="2.2" height="2.2" fill="#000" stroke="none" stroke-width="1" />
<rect x="548.7" y="247.5" width="17.6" height="3.8" fill="#000" stroke="none" stroke-width="1" />
<rect x="554" y="246.2" width="4" height="6.4" fill="#000" stroke="none" stroke-width="1" />
<rect x="587.6" y="248.4" width="2.2" height="2.2" fill="#000" stroke="none" stroke-width="1" />
<rect x="643.5" y="251.4" width="2.2" height="2.2" fill="#000" stroke="none" stroke-width="1" />
<rect x="455.4" y="259.3" width="15.9" height="3.8" fill="#000" stroke="none" stroke-width="1" />
<rect x="462" y="258.2" width="3" height="6" fill="#000" stroke="none" stroke-width="1" />
<rect x="493.5" y="260.2" width="2.2" height="2.2" fill="#000" stroke="none" stroke-width="1" />
<rect x="548.7" y="259.3" width="17.6" height="3.8" fill="#000" stroke="none" stroke-width="1" />
<rect x="587.6" y="260.2" width="2.2" height="2.2" fill="#000" stroke="none" stroke-width="1" />
<rect x="643.5" y="263.2" width="2.2" height="2.2" fill="#000" stroke="none" stroke-width="1" />
<rect x="455.4" y="271.1" width="15.9" height="3.8" fill="#000" stroke="none" stroke-width="1" />
<rect x="462" y="270" width="3" height="6" fill="#000" stroke="none" stroke-width="1" />
<rect x="493.5" y="272" width="2.2" height="2.2" fill="#000" stroke="none" stroke-width="1" />
<rect x="548.7" y="271.1" width="17.6" height="3.8" fill="#000" stroke="none" stroke-width="1" />
<rect x="554" y="269.8" width="4" height="6.4" fill="#000" stroke="none" stroke-width="1" />
<rect x="587.6" y="272" width="2.2" height="2.2" fill="#000" stroke="none" stroke-width="1" />
<rect x="643.5" y="275" width="2.2" height="2.2" fill="#000" stroke="none" stroke-width="1" />
<rect x="455.4" y="282.9" width="15.9" height="3.8" fill="#000" stroke="none" stroke-width="1" />
<rect x="462" y="281.8" width="3" height="6" fill="#000" stroke="none" stroke-width="1" />
<rect x="493.5" y="283.8" width="2.2" height="2.2" fill="#000" stroke="none" stroke-width="1" />
<rect x="548.7" y="282.9" width="17.6" height="3.8" fill="#000" stroke="none" stroke-width="1" />
<rect x="587.6" y="283.8" width="2.2" height="2.2" fill="#000" stroke="none" stroke-width="1" />
<rect x="643.5" y="286.8" width="2.2" height="2.2" fill="#000" stroke="none" stroke-width="1" />
<rect x="455.4" y="294.7" width="15.9" height="3.8" fill="#000" stroke="none" stroke-width="1" />
<rect x="462" y="293.6" width="3" height="6" fill="#000" stroke="none" stroke-width="1" />
<rect x="493.5" y="295.6" width="2.2" height="2.2" fill="#000" stroke="none" stroke-width="1" />
<rect x="548.7" y="294.7" width="17.6" height="3.8" fill="#000" stroke="none" stroke-width="1" />
<rect x="554" y="293.4" width="4" height="6.4" fill="#000" stroke="none" stroke-width="1" />
<rect x="587.6" y="295.6" width="2.2" height="2.2" fill="#000" stroke="none" stroke-width="1" />
<rect x="643.5" y="298.6" width="2.2" height="2.2" fill="#000" stroke="none" stroke-width="1" />
<rect x="455.4" y="306.5" width="15.9" height="3.8" fill="#000" stroke="none" stroke-width="1" />
<rect x="462" y="305.4" width="3" height="6" fill="#000" stroke="none" stroke-width="1" />
<rect x="493.5" y="307.4" width="2.2" height="2.2" fill="#000" stroke="none" stroke-width="1" />
<rect x="548.7" y="306.5" width="17.6" height="3.8" fill="#000" stroke="none" stroke-width="1" />
<rect x="587.6" y="307.4" width="2.2" height="2.2" fill="#000" stroke="none" stroke-width="1" />
<rect x="643.5" y="310.4" width="2.2" height="2.2" fill="#000" stroke="none" stroke-width="1" />
<rect x="455.4" y="318.3" width="15.9" height="3.8" fill="#000" stroke="none" stroke-width="1" />
<rect x="462" y="317.2" width="3" height="6" fill="#000" stroke="none" stroke-width="1" />
<rect x="493.5" y="319.2" width="2.2" height="2.2" fill="#000" stroke="none" stroke-width="1" />
<rect x="548.7" y="318.3" width="17.6" height="3.8" fill="#000" stroke="none" stroke-width="1" />
<rect x="554" y="317" width="4" height="6.4" fill="#000" stroke="none" stroke-width="1" />
<rect x="587.6" y="319.2" width="2.2" height="2.2" fill="#000" stroke="none" stroke-width="1" />
<rect x="643.5" y="322.2" width="2.2" height="2.2" fill="#000" stroke="none" stroke-width="1" />
<rect x="455.4" y="330.1" width="15.9" height="3.8" fill="#000" stroke="none" stroke-width="1" />
<rect x="462" y="329" width="3" height="6" fill="#000" stroke="none" stroke-width="1" />
<rect x="493.5" y="331" width="2.2" height="2.2" fill="#000" stroke="none" stroke-width="1" />
<rect x="548.7" y="330.1" width="17.6" height="3.8" fill="#000" stroke="none" stroke-width="1" />
<rect x="587.6" y="331" width="2.2" height="2.2" fill="#000" stroke="none" stroke-width="1" />
<rect x="643.5" y="334" width="2.2" height="2.2" fill="#000" stroke="none" stroke-width="1" />
<rect x="455.4" y="341.9" width="15.9" height="3.8" fill="#000" stroke="none" stroke-width="1" />
<rect x="462" y="340.8" width="3" height="6" fill="#000" stroke="none" stroke-width="1" />
<rect x="493.5" y="342.8" width="2.2" height="2.2" fill="#000" stroke="none" stroke-width="1" />
<rect x="548.7" y="341.9" width="17.6" height="3.8" fill="#000" stroke="none" stroke-width="1" />
<rect x="554" y="340.6" width="4" height="6.4" fill="#000" stroke="none" stroke-width="1" />
<rect x="587.6" y="342.8" width="2.2" height="2.2" fill="#000" stroke="none" stroke-width="1" />
<rect x="643.5" y="345.8" width="2.2" height="2.2" fill="#000" stroke="none" stroke-width="1" />
<rect x="501.4" y="90.5" width="3.8" height="236.5" fill="#000" stroke="none" stroke-width="1" />
<rect x="511.5" y="90.5" width="5" height="236.5" fill="#000" stroke="none" stroke-width="1" />
<path d="M499.4,32.6 L519,32.6 L516.4,36.6 L519,40.6 L499.4,40.6 L501.4,36.6 Z" fill="#000" stroke="none" stroke-width="1" />
<rect x="503" y="32.1" width="10" height="9" fill="#000" stroke="none" stroke-width="1" />
<path d="M499.4,46.4 L519,46.4 L516.4,50.4 L519,54.4 L499.4,54.4 L501.4,50.4 Z" fill="#000" stroke="none" stroke-width="1" />
<rect x="503" y="45.9" width="10" height="9" fill="#000" stroke="none" stroke-width="1" />
<ellipse cx="510.5" cy="58.6" rx="1.6" ry="2.2" fill="#000" />
<rect x="496.5" y="57.6" width="3" height="2.2" fill="#000" stroke="none" stroke-width="1" />
<ellipse cx="510.5" cy="66.6" rx="1.6" ry="2.2" fill="#000" />
<rect x="496.5" y="65.6" width="3" height="2.2" fill="#000" stroke="none" stroke-width="1" />
<ellipse cx="510.5" cy="74.6" rx="1.6" ry="2.2" fill="#000" />
<rect x="496.5" y="73.6" width="3" height="2.2" fill="#000" stroke="none" stroke-width="1" />
<path d="M499.4,80.5 L519,80.5 L516.4,84.5 L519,88.5 L499.4,88.5 L501.4,84.5 Z" fill="#000" stroke="none" stroke-width="1" />
<rect x="503" y="80" width="10" height="9" fill="#000" stroke="none" stroke-width="1" />
<path d="M499.4,94.3 L519,94.3 L516.4,98.3 L519,102.3 L499.4,102.3 L501.4,98.3 Z" fill="#000" stroke="none" stroke-width="1" />
<rect x="503" y="93.8" width="10" height="9" fill="#000" stroke="none" stroke-width="1" />
<ellipse cx="510.5" cy="106.5" rx="1.6" ry="2.2" fill="#000" />
<rect x="496.5" y="105.5" width="3" height="2.2" fill="#000" stroke="none" stroke-width="1" />
<ellipse cx="510.5" cy="114.5" rx="1.6" ry="2.2" fill="#000" />
<rect x="496.5" y="113.5" width="3" height="2.2" fill="#000" stroke="none" stroke-width="1" />
<ellipse cx="510.5" cy="122.5" rx="1.6" ry="2.2" fill="#000" />
<rect x="496.5" y="121.5" width="3" height="2.2" fill="#000" stroke="none" stroke-width="1" />
<path d="M499.4,128.4 L519,128.4 L516.4,132.4 L519,136.4 L499.4,136.4 L501.4,132.4 Z" fill="#000" stroke="none" stroke-width="1" />
<rect x="503" y="127.9" width="10" height="9" fill="#000" stroke="none" stroke-width="1" />
<path d="M499.4,142.2 L519,142.2 L516.4,146.2 L519,150.2 L499.4,150.2 L501.4,146.2 Z" fill="#000" stroke="none" stroke-width="1" />
<rect x="503" y="141.7" width="10" height="9" fill="#000" stroke="none" stroke-width="1" />
<ellipse cx="510.5" cy="154.4" rx="1.6" ry="2.2" fill="#000" />
<rect x="496.5" y="153.4" width="3" height="2.2" fill="#000" stroke="none" stroke-width="1" />
<ellipse cx="510.5" cy="162.4" rx="1.6" ry="2.2" fill="#000" />
<rect x="496.5" y="161.4" width="3" height="2.2" fill="#000" stroke="none" stroke-width="1" />
<ellipse cx="510.5" cy="170.4" rx="1.6" ry="2.2" fill="#000" />
<rect x="496.5" y="169.4" width="3" height="2.2" fill="#000" stroke="none" stroke-width="1" />
<path d="M499.4,176.3 L519,176.3 L516.4,180.3 L519,184.3 L499.4,184.3 L501.4,180.3 Z" fill="#000" stroke="none" stroke-width="1" />
<rect x="503" y="175.8" width="10" height="9" fill="#000" stroke="none" stroke-width="1" />
<path d="M499.4,190.1 L519,190.1 L516.4,194.1 L519,198.1 L499.4,198.1 L501.4,194.1 Z" fill="#000" stroke="none" stroke-width="1" />
<rect x="503" y="189.6" width="10" height="9" fill="#000" stroke="none" stroke-width="1" />
<ellipse cx="510.5" cy="202.3" rx="1.6" ry="2.2" fill="#000" />
<rect x="496.5" y="201.3" width="3" height="2.2" fill="#000" stroke="none" stroke-width="1" />
<ellipse cx="510.5" cy="210.3" rx="1.6" ry="2.2" fill="#000" />
<rect x="496.5" y="209.3" width="3" height="2.2" fill="#000" stroke="none" stroke-width="1" />
<ellipse cx="510.5" cy="218.3" rx="1.6" ry="2.2" fill="#000" />
<rect x="496.5" y="217.3" width="3" height="2.2" fill="#000" stroke="none" stroke-width="1" />
<path d="M499.4,224.2 L519,224.2 L516.4,228.2 L519,232.2 L499.4,232.2 L501.4,228.2 Z" fill="#000" stroke="none" stroke-width="1" />
<rect x="503" y="223.7" width="10" height="9" fill="#000" stroke="none" stroke-width="1" />
<path d="M499.4,238 L519,238 L516.4,242 L519,246 L499.4,246 L501.4,242 Z" fill="#000" stroke="none" stroke-width="1" />
<rect x="503" y="237.5" width="10" height="9" fill="#000" stroke="none" stroke-width="1" />
<ellipse cx="510.5" cy="250.2" rx="1.6" ry="2.2" fill="#000" />
<rect x="496.5" y="249.2" width="3" height="2.2" fill="#000" stroke="none" stroke-width="1" />
<ellipse cx="510.5" cy="258.2" rx="1.6" ry="2.2" fill="#000" />
<rect x="496.5" y="257.2" width="3" height="2.2" fill="#000" stroke="none" stroke-width="1" />
<ellipse cx="510.5" cy="266.2" rx="1.6" ry="2.2" fill="#000" />
<rect x="496.5" y="265.2" width="3" height="2.2" fill="#000" stroke="none" stroke-width="1" />
<path d="M499.4,272.1 L519,272.1 L516.4,276.1 L519,280.1 L499.4,280.1 L501.4,276.1 Z" fill="#000" stroke="none" stroke-width="1" />
<rect x="503" y="271.6" width="10" height="9" fill="#000" stroke="none" stroke-width="1" />
<path d="M499.4,285.9 L519,285.9 L516.4,289.9 L519,293.9 L499.4,293.9 L501.4,289.9 Z" fill="#000" stroke="none" stroke-width="1" />
<rect x="503" y="285.4" width="10" height="9" fill="#000" stroke="none" stroke-width="1" />
<ellipse cx="510.5" cy="298.1" rx="1.6" ry="2.2" fill="#000" />
<rect x="496.5" y="297.1" width="3" height="2.2" fill="#000" stroke="none" stroke-width="1" />
<ellipse cx="510.5" cy="306.1" rx="1.6" ry="2.2" fill="#000" />
<rect x="496.5" y="305.1" width="3" height="2.2" fill="#000" stroke="none" stroke-width="1" />
<ellipse cx="510.5" cy="314.1" rx="1.6" ry="2.2" fill="#000" />
<rect x="496.5" y="313.1" width="3" height="2.2" fill="#000" stroke="none" stroke-width="1" />
<path d="M499.4,320 L519,320 L516.4,324 L519,328 L499.4,328 L501.4,324 Z" fill="#000" stroke="none" stroke-width="1" />
<rect x="503" y="319.5" width="10" height="9" fill="#000" stroke="none" stroke-width="1" />
<path d="M499.4,333.8 L519,333.8 L516.4,337.8 L519,341.8 L499.4,341.8 L501.4,337.8 Z" fill="#000" stroke="none" stroke-width="1" />
<rect x="503" y="333.3" width="10" height="9" fill="#000" stroke="none" stroke-width="1" />
<ellipse cx="510.5" cy="346" rx="1.6" ry="2.2" fill="#000" />
<rect x="496.5" y="345" width="3" height="2.2" fill="#000" stroke="none" stroke-width="1" />
<ellipse cx="510.5" cy="354" rx="1.6" ry="2.2" fill="#000" />
<rect x="496.5" y="353" width="3" height="2.2" fill="#000" stroke="none" stroke-width="1" />
<ellipse cx="510.5" cy="362" rx="1.6" ry="2.2" fill="#000" />
<rect x="496.5" y="361" width="3" height="2.2" fill="#000" stroke="none" stroke-width="1" />
<path d="M499.4,367.9 L519,367.9 L516.4,371.9 L519,375.9 L499.4,375.9 L501.4,371.9 Z" fill="#000" stroke="none" stroke-width="1" />
<rect x="503" y="367.4" width="10" height="9" fill="#000" stroke="none" stroke-width="1" />
<path d="M499.4,381.7 L519,381.7 L516.4,385.7 L519,389.7 L499.4,389.7 L501.4,385.7 Z" fill="#000" stroke="none" stroke-width="1" />
<rect x="503" y="381.2" width="10" height="9" fill="#000" stroke="none" stroke-width="1" />
<ellipse cx="510.5" cy="393.9" rx="1.6" ry="2.2" fill="#000" />
<rect x="496.5" y="392.9" width="3" height="2.2" fill="#000" stroke="none" stroke-width="1" />
<ellipse cx="510.5" cy="401.9" rx="1.6" ry="2.2" fill="#000" />
<rect x="496.5" y="400.9" width="3" height="2.2" fill="#000" stroke="none" stroke-width="1" />
<ellipse cx="510.5" cy="409.9" rx="1.6" ry="2.2" fill="#000" />
<rect x="496.5" y="408.9" width="3" height="2.2" fill="#000" stroke="none" stroke-width="1" />
<line x1="538.5" y1="90.5" x2="538.5" y2="327" stroke="#000" stroke-width="3.2" stroke-dasharray="9 2.8"/>
<ellipse cx="541" cy="84.2" rx="2" ry="1.6" fill="#000" />
<ellipse cx="541" cy="96" rx="2" ry="1.6" fill="#000" />
<ellipse cx="541" cy="107.8" rx="2" ry="1.6" fill="#000" />
<ellipse cx="541" cy="119.6" rx="2" ry="1.6" fill="#000" />
<ellipse cx="541" cy="131.4" rx="2" ry="1.6" fill="#000" />
<ellipse cx="541" cy="143.2" rx="2" ry="1.6" fill="#000" />
<ellipse cx="541" cy="155" rx="2" ry="1.6" fill="#000" />
<ellipse cx="541" cy="166.8" rx="2" ry="1.6" fill="#000" />
<ellipse cx="541" cy="178.6" rx="2" ry="1.6" fill="#000" />
<ellipse cx="541" cy="190.4" rx="2" ry="1.6" fill="#000" />
<ellipse cx="541" cy="202.2" rx="2" ry="1.6" fill="#000" />
<ellipse cx="541" cy="214" rx="2" ry="1.6" fill="#000" />
<ellipse cx="541" cy="225.8" rx="2" ry="1.6" fill="#000" />
<ellipse cx="541" cy="237.6" rx="2" ry="1.6" fill="#000" />
<ellipse cx="541" cy="249.4" rx="2" ry="1.6" fill="#000" />
<ellipse cx="541" cy="261.2" rx="2" ry="1.6" fill="#000" />
<ellipse cx="541" cy="273" rx="2" ry="1.6" fill="#000" />
<ellipse cx="541" cy="284.8" rx="2" ry="1.6" fill="#000" />
<ellipse cx="541" cy="296.6" rx="2" ry="1.6" fill="#000" />
<ellipse cx="541" cy="308.4" rx="2" ry="1.6" fill="#000" />
<ellipse cx="541" cy="320.2" rx="2" ry="1.6" fill="#000" />
<ellipse cx="541" cy="332" rx="2" ry="1.6" fill="#000" />
<ellipse cx="541" cy="343.8" rx="2" ry="1.6" fill="#000" />
<rect x="593.7" y="90.5" width="19.9" height="236.5" fill="#000" stroke="none" stroke-width="1" />
<path d="M602.8,44.6 L606,49.1 L602.8,53.6 L599.6,49.1 Z" fill="#fff" stroke="none" stroke-width="1" />
<path d="M602.8,55.6 L606,60.1 L602.8,64.6 L599.6,60.1 Z" fill="#fff" stroke="none" stroke-width="1" />
<path d="M602.8,66.6 L606,71.1 L602.8,75.6 L599.6,71.1 Z" fill="#fff" stroke="none" stroke-width="1" />
<rect x="598.5" y="52.6" width="2" height="4" fill="#fff" stroke="none" stroke-width="1" />
<rect x="605" y="63.6" width="2" height="4" fill="#fff" stroke="none" stroke-width="1" />
<path d="M602.8,92.5 L606,97 L602.8,101.5 L599.6,97 Z" fill="#fff" stroke="none" stroke-width="1" />
<path d="M602.8,103.5 L606,108 L602.8,112.5 L599.6,108 Z" fill="#fff" stroke="none" stroke-width="1" />
<path d="M602.8,114.5 L606,119 L602.8,123.5 L599.6,119 Z" fill="#fff" stroke="none" stroke-width="1" />
<rect x="598.5" y="100.5" width="2" height="4" fill="#fff" stroke="none" stroke-width="1" />
<rect x="605" y="111.5" width="2" height="4" fill="#fff" stroke="none" stroke-width="1" />
<path d="M602.8,140.4 L606,144.9 L602.8,149.4 L599.6,144.9 Z" fill="#fff" stroke="none" stroke-width="1" />
<path d="M602.8,151.4 L606,155.9 L602.8,160.4 L599.6,155.9 Z" fill="#fff" stroke="none" stroke-width="1" />
<path d="M602.8,162.4 L606,166.9 L602.8,171.4 L599.6,166.9 Z" fill="#fff" stroke="none" stroke-width="1" />
<rect x="598.5" y="148.4" width="2" height="4" fill="#fff" stroke="none" stroke-width="1" />
<rect x="605" y="159.4" width="2" height="4" fill="#fff" stroke="none" stroke-width="1" />
<path d="M602.8,188.3 L606,192.8 L602.8,197.3 L599.6,192.8 Z" fill="#fff" stroke="none" stroke-width="1" />
<path d="M602.8,199.3 L606,203.8 L602.8,208.3 L599.6,203.8 Z" fill="#fff" stroke="none" stroke-width="1" />
<path d="M602.8,210.3 L606,214.8 L602.8,219.3 L599.6,214.8 Z" fill="#fff" stroke="none" stroke-width="1" />
<rect x="598.5" y="196.3" width="2" height="4" fill="#fff" stroke="none" stroke-width="1" />
<rect x="605" y="207.3" width="2" height="4" fill="#fff" stroke="none" stroke-width="1" />
<path d="M602.8,236.2 L606,240.7 L602.8,245.2 L599.6,240.7 Z" fill="#fff" stroke="none" stroke-width="1" />
<path d="M602.8,247.2 L606,251.7 L602.8,256.2 L599.6,251.7 Z" fill="#fff" stroke="none" stroke-width="1" />
<path d="M602.8,258.2 L606,262.7 L602.8,267.2 L599.6,262.7 Z" fill="#fff" stroke="none" stroke-width="1" />
<rect x="598.5" y="244.2" width="2" height="4" fill="#fff" stroke="none" stroke-width="1" />
<rect x="605" y="255.2" width="2" height="4" fill="#fff" stroke="none" stroke-width="1" />
<path d="M602.8,284.1 L606,288.6 L602.8,293.1 L599.6,288.6 Z" fill="#fff" stroke="none" stroke-width="1" />
<path d="M602.8,295.1 L606,299.6 L602.8,304.1 L599.6,299.6 Z" fill="#fff" stroke="none" stroke-width="1" />
<path d="M602.8,306.1 L606,310.6 L602.8,315.1 L599.6,310.6 Z" fill="#fff" stroke="none" stroke-width="1" />
<rect x="598.5" y="292.1" width="2" height="4" fill="#fff" stroke="none" stroke-width="1" />
<rect x="605" y="303.1" width="2" height="4" fill="#fff" stroke="none" stroke-width="1" />
<path d="M602.8,332 L606,336.5 L602.8,341 L599.6,336.5 Z" fill="#fff" stroke="none" stroke-width="1" />
<path d="M602.8,343 L606,347.5 L602.8,352 L599.6,347.5 Z" fill="#fff" stroke="none" stroke-width="1" />
<path d="M602.8,354 L606,358.5 L602.8,363 L599.6,358.5 Z" fill="#fff" stroke="none" stroke-width="1" />
<rect x="598.5" y="340" width="2" height="4" fill="#fff" stroke="none" stroke-width="1" />
<rect x="605" y="351" width="2" height="4" fill="#fff" stroke="none" stroke-width="1" />
<path d="M602.8,379.9 L606,384.4 L602.8,388.9 L599.6,384.4 Z" fill="#fff" stroke="none" stroke-width="1" />
<path d="M602.8,390.9 L606,395.4 L602.8,399.9 L599.6,395.4 Z" fill="#fff" stroke="none" stroke-width="1" />
<path d="M602.8,401.9 L606,406.4 L602.8,410.9 L599.6,406.4 Z" fill="#fff" stroke="none" stroke-width="1" />
<rect x="598.5" y="387.9" width="2" height="4" fill="#fff" stroke="none" stroke-width="1" />
<rect x="605" y="398.9" width="2" height="4" fill="#fff" stroke="none" stroke-width="1" />
<path d="M633.17,90.5 C633.27,91.2 633.59,93.3 633.81,94.7 C634.04,96.1 634.31,97.5 634.51,98.9 C634.72,100.3 634.93,101.7 635.06,103.1 C635.19,104.5 635.28,105.9 635.3,107.3 C635.31,108.7 635.25,110.1 635.15,111.5 C635.04,112.9 634.85,114.3 634.66,115.7 C634.46,117.1 634.2,118.5 633.97,119.9 C633.75,121.3 633.49,122.7 633.3,124.1 C633.11,125.5 632.93,126.9 632.83,128.3 C632.73,129.7 632.68,131.1 632.71,132.5 C632.73,133.9 632.83,135.3 632.97,136.7 C633.1,138.1 633.32,139.5 633.53,140.9 C633.74,142.3 634.01,143.7 634.24,145.1 C634.46,146.5 634.7,147.9 634.87,149.3 C635.04,150.7 635.18,152.1 635.25,153.5 C635.31,154.9 635.31,156.3 635.25,157.7 C635.19,159.1 635.06,160.5 634.89,161.9 C634.72,163.3 634.48,164.7 634.26,166.1 C634.04,167.5 633.77,168.9 633.56,170.3 C633.34,171.7 633.12,173.1 632.98,174.5 C632.84,175.9 632.74,177.3 632.71,178.7 C632.68,180.1 632.72,181.5 632.82,182.9 C632.91,184.3 633.09,185.7 633.28,187.1 C633.46,188.5 633.72,189.9 633.95,191.3 C634.18,192.7 634.44,194.1 634.64,195.5 C634.83,196.9 635.03,198.3 635.14,199.7 C635.25,201.1 635.31,202.5 635.3,203.9 C635.29,205.3 635.2,206.7 635.08,208.1 C634.95,209.5 634.74,210.9 634.54,212.3 C634.33,213.7 634.06,215.1 633.84,216.5 C633.61,217.9 633.36,219.3 633.19,220.7 C633.01,222.1 632.85,223.5 632.78,224.9 C632.7,226.3 632.68,227.7 632.73,229.1 C632.77,230.5 632.9,231.9 633.06,233.3 C633.21,234.7 633.44,236.1 633.66,237.5 C633.88,238.9 634.15,240.3 634.37,241.7 C634.59,243.1 634.82,244.5 634.97,245.9 C635.12,247.3 635.24,248.7 635.28,250.1 C635.32,251.5 635.29,252.9 635.21,254.3 C635.13,255.7 634.97,257.1 634.79,258.5 C634.61,259.9 634.35,261.3 634.13,262.7 C633.9,264.1 633.64,265.5 633.43,266.9 C633.23,268.3 633.03,269.7 632.9,271.1 C632.78,272.5 632.7,273.9 632.7,275.3 C632.7,276.7 632.77,278.1 632.88,279.5 C633,280.9 633.19,282.3 633.39,283.7 C633.59,285.1 633.86,286.5 634.09,287.9 C634.31,289.3 634.57,290.7 634.75,292.1 C634.94,293.5 635.11,294.9 635.2,296.3 C635.28,297.7 635.32,299.1 635.29,300.5 C635.25,301.9 635.14,303.3 635,304.7 C634.85,306.1 634.63,307.5 634.41,308.9 C634.2,310.3 633.93,311.7 633.7,313.1 C633.48,314.5 633.25,315.9 633.09,317.3 C632.92,318.7 632.79,320.1 632.74,321.5 C632.68,322.9 632.69,324.3 632.76,325.7 C632.83,327.1 632.98,328.5 633.15,329.9 C633.33,331.3 633.57,332.7 633.8,334.1 C634.02,335.5 634.38,337.6 634.5,338.3" fill="none" stroke="#000" stroke-width="2.6" stroke-dasharray="9 2"/>
</g>
<rect x="455" y="90.5" width="202" height="236.5" fill="none" stroke="#6a6a6a" stroke-width="1.2" />
<g clip-path="url(#cb3)">
<path d="M711.8,96.7 L722,96.7 L726.1,100.7 L722,104.7 L711.8,104.7 Z" fill="#000" stroke="none" stroke-width="1" />
<rect x="752.4" y="95.2" width="23.2" height="11" rx="5" fill="#000"/>
<rect x="757" y="93.7" width="2.2" height="14" fill="#000" stroke="none" stroke-width="1" />
<rect x="763" y="93.7" width="2.2" height="14" fill="#000" stroke="none" stroke-width="1" />
<rect x="769" y="93.7" width="2.2" height="14" fill="#000" stroke="none" stroke-width="1" />
<path d="M802,94.7 L815.5,97.7 L815.5,103.7 L802,106.7 Z" fill="#000" stroke="none" stroke-width="1" />
<rect x="795" y="98.2" width="3.5" height="2" fill="#000" stroke="none" stroke-width="1" />
<rect x="795" y="101.7" width="3.5" height="2" fill="#000" stroke="none" stroke-width="1" />
<path d="M711.8,122.3 L722,122.3 L726.1,126.3 L722,130.3 L711.8,130.3 Z" fill="#000" stroke="none" stroke-width="1" />
<rect x="752.4" y="120.8" width="23.2" height="11" rx="5" fill="#000"/>
<rect x="757" y="119.3" width="2.2" height="14" fill="#000" stroke="none" stroke-width="1" />
<rect x="763" y="119.3" width="2.2" height="14" fill="#000" stroke="none" stroke-width="1" />
<rect x="769" y="119.3" width="2.2" height="14" fill="#000" stroke="none" stroke-width="1" />
<path d="M802,120.3 L815.5,123.3 L815.5,129.3 L802,132.3 Z" fill="#000" stroke="none" stroke-width="1" />
<rect x="795" y="123.8" width="3.5" height="2" fill="#000" stroke="none" stroke-width="1" />
<rect x="795" y="127.3" width="3.5" height="2" fill="#000" stroke="none" stroke-width="1" />
<path d="M711.8,144.6 L722,144.6 L726.1,148.6 L722,152.6 L711.8,152.6 Z" fill="#000" stroke="none" stroke-width="1" />
<rect x="752.4" y="143.1" width="23.2" height="11" rx="5" fill="#000"/>
<rect x="757" y="141.6" width="2.2" height="14" fill="#000" stroke="none" stroke-width="1" />
<rect x="763" y="141.6" width="2.2" height="14" fill="#000" stroke="none" stroke-width="1" />
<rect x="769" y="141.6" width="2.2" height="14" fill="#000" stroke="none" stroke-width="1" />
<path d="M802,142.6 L815.5,145.6 L815.5,151.6 L802,154.6 Z" fill="#000" stroke="none" stroke-width="1" />
<rect x="795" y="146.1" width="3.5" height="2" fill="#000" stroke="none" stroke-width="1" />
<rect x="795" y="149.6" width="3.5" height="2" fill="#000" stroke="none" stroke-width="1" />
<path d="M711.8,168.5 L722,168.5 L726.1,172.5 L722,176.5 L711.8,176.5 Z" fill="#000" stroke="none" stroke-width="1" />
<rect x="752.4" y="167" width="23.2" height="11" rx="5" fill="#000"/>
<rect x="757" y="165.5" width="2.2" height="14" fill="#000" stroke="none" stroke-width="1" />
<rect x="763" y="165.5" width="2.2" height="14" fill="#000" stroke="none" stroke-width="1" />
<rect x="769" y="165.5" width="2.2" height="14" fill="#000" stroke="none" stroke-width="1" />
<path d="M802,166.5 L815.5,169.5 L815.5,175.5 L802,178.5 Z" fill="#000" stroke="none" stroke-width="1" />
<rect x="795" y="170" width="3.5" height="2" fill="#000" stroke="none" stroke-width="1" />
<rect x="795" y="173.5" width="3.5" height="2" fill="#000" stroke="none" stroke-width="1" />
<path d="M711.8,190.9 L722,190.9 L726.1,194.9 L722,198.9 L711.8,198.9 Z" fill="#000" stroke="none" stroke-width="1" />
<rect x="752.4" y="189.4" width="23.2" height="11" rx="5" fill="#000"/>
<rect x="757" y="187.9" width="2.2" height="14" fill="#000" stroke="none" stroke-width="1" />
<rect x="763" y="187.9" width="2.2" height="14" fill="#000" stroke="none" stroke-width="1" />
<rect x="769" y="187.9" width="2.2" height="14" fill="#000" stroke="none" stroke-width="1" />
<path d="M802,188.9 L815.5,191.9 L815.5,197.9 L802,200.9 Z" fill="#000" stroke="none" stroke-width="1" />
<rect x="795" y="192.4" width="3.5" height="2" fill="#000" stroke="none" stroke-width="1" />
<rect x="795" y="195.9" width="3.5" height="2" fill="#000" stroke="none" stroke-width="1" />
<path d="M711.8,216.4 L722,216.4 L726.1,220.4 L722,224.4 L711.8,224.4 Z" fill="#000" stroke="none" stroke-width="1" />
<rect x="752.4" y="214.9" width="23.2" height="11" rx="5" fill="#000"/>
<rect x="757" y="213.4" width="2.2" height="14" fill="#000" stroke="none" stroke-width="1" />
<rect x="763" y="213.4" width="2.2" height="14" fill="#000" stroke="none" stroke-width="1" />
<rect x="769" y="213.4" width="2.2" height="14" fill="#000" stroke="none" stroke-width="1" />
<path d="M802,214.4 L815.5,217.4 L815.5,223.4 L802,226.4 Z" fill="#000" stroke="none" stroke-width="1" />
<rect x="795" y="217.9" width="3.5" height="2" fill="#000" stroke="none" stroke-width="1" />
<rect x="795" y="221.4" width="3.5" height="2" fill="#000" stroke="none" stroke-width="1" />
<path d="M711.8,238.75 L722,238.75 L726.1,242.75 L722,246.75 L711.8,246.75 Z" fill="#000" stroke="none" stroke-width="1" />
<rect x="752.4" y="237.25" width="23.2" height="11" rx="5" fill="#000"/>
<rect x="757" y="235.75" width="2.2" height="14" fill="#000" stroke="none" stroke-width="1" />
<rect x="763" y="235.75" width="2.2" height="14" fill="#000" stroke="none" stroke-width="1" />
<rect x="769" y="235.75" width="2.2" height="14" fill="#000" stroke="none" stroke-width="1" />
<path d="M802,236.75 L815.5,239.75 L815.5,245.75 L802,248.75 Z" fill="#000" stroke="none" stroke-width="1" />
<rect x="795" y="240.25" width="3.5" height="2" fill="#000" stroke="none" stroke-width="1" />
<rect x="795" y="243.75" width="3.5" height="2" fill="#000" stroke="none" stroke-width="1" />
<path d="M711.8,262.7 L722,262.7 L726.1,266.7 L722,270.7 L711.8,270.7 Z" fill="#000" stroke="none" stroke-width="1" />
<rect x="752.4" y="261.2" width="23.2" height="11" rx="5" fill="#000"/>
<rect x="757" y="259.7" width="2.2" height="14" fill="#000" stroke="none" stroke-width="1" />
<rect x="763" y="259.7" width="2.2" height="14" fill="#000" stroke="none" stroke-width="1" />
<rect x="769" y="259.7" width="2.2" height="14" fill="#000" stroke="none" stroke-width="1" />
<path d="M802,260.7 L815.5,263.7 L815.5,269.7 L802,272.7 Z" fill="#000" stroke="none" stroke-width="1" />
<rect x="795" y="264.2" width="3.5" height="2" fill="#000" stroke="none" stroke-width="1" />
<rect x="795" y="267.7" width="3.5" height="2" fill="#000" stroke="none" stroke-width="1" />
<path d="M711.8,285 L722,285 L726.1,289 L722,293 L711.8,293 Z" fill="#000" stroke="none" stroke-width="1" />
<rect x="752.4" y="283.5" width="23.2" height="11" rx="5" fill="#000"/>
<rect x="757" y="282" width="2.2" height="14" fill="#000" stroke="none" stroke-width="1" />
<rect x="763" y="282" width="2.2" height="14" fill="#000" stroke="none" stroke-width="1" />
<rect x="769" y="282" width="2.2" height="14" fill="#000" stroke="none" stroke-width="1" />
<path d="M802,283 L815.5,286 L815.5,292 L802,295 Z" fill="#000" stroke="none" stroke-width="1" />
<rect x="795" y="286.5" width="3.5" height="2" fill="#000" stroke="none" stroke-width="1" />
<rect x="795" y="290" width="3.5" height="2" fill="#000" stroke="none" stroke-width="1" />
<path d="M711.8,310.6 L722,310.6 L726.1,314.6 L722,318.6 L711.8,318.6 Z" fill="#000" stroke="none" stroke-width="1" />
<rect x="752.4" y="309.1" width="23.2" height="11" rx="5" fill="#000"/>
<rect x="757" y="307.6" width="2.2" height="14" fill="#000" stroke="none" stroke-width="1" />
<rect x="763" y="307.6" width="2.2" height="14" fill="#000" stroke="none" stroke-width="1" />
<rect x="769" y="307.6" width="2.2" height="14" fill="#000" stroke="none" stroke-width="1" />
<path d="M802,308.6 L815.5,311.6 L815.5,317.6 L802,320.6 Z" fill="#000" stroke="none" stroke-width="1" />
<rect x="795" y="312.1" width="3.5" height="2" fill="#000" stroke="none" stroke-width="1" />
<rect x="795" y="315.6" width="3.5" height="2" fill="#000" stroke="none" stroke-width="1" />
<rect x="740" y="82.6" width="2" height="2" fill="#000" stroke="none" stroke-width="1" />
<rect x="740" y="94.5" width="2" height="2" fill="#000" stroke="none" stroke-width="1" />
<rect x="740" y="106.4" width="2" height="2" fill="#000" stroke="none" stroke-width="1" />
<rect x="740" y="118.3" width="2" height="2" fill="#000" stroke="none" stroke-width="1" />
<rect x="740" y="130.2" width="2" height="2" fill="#000" stroke="none" stroke-width="1" />
<rect x="740" y="142.1" width="2" height="2" fill="#000" stroke="none" stroke-width="1" />
<rect x="740" y="154" width="2" height="2" fill="#000" stroke="none" stroke-width="1" />
<rect x="740" y="165.9" width="2" height="2" fill="#000" stroke="none" stroke-width="1" />
<rect x="740" y="177.8" width="2" height="2" fill="#000" stroke="none" stroke-width="1" />
<rect x="740" y="189.7" width="2" height="2" fill="#000" stroke="none" stroke-width="1" />
<rect x="740" y="201.6" width="2" height="2" fill="#000" stroke="none" stroke-width="1" />
<rect x="740" y="213.5" width="2" height="2" fill="#000" stroke="none" stroke-width="1" />
<rect x="740" y="225.4" width="2" height="2" fill="#000" stroke="none" stroke-width="1" />
<rect x="740" y="237.3" width="2" height="2" fill="#000" stroke="none" stroke-width="1" />
<rect x="740" y="249.2" width="2" height="2" fill="#000" stroke="none" stroke-width="1" />
<rect x="740" y="261.1" width="2" height="2" fill="#000" stroke="none" stroke-width="1" />
<rect x="740" y="273" width="2" height="2" fill="#000" stroke="none" stroke-width="1" />
<rect x="740" y="284.9" width="2" height="2" fill="#000" stroke="none" stroke-width="1" />
<rect x="740" y="296.8" width="2" height="2" fill="#000" stroke="none" stroke-width="1" />
<rect x="740" y="308.7" width="2" height="2" fill="#000" stroke="none" stroke-width="1" />
<rect x="740" y="320.6" width="2" height="2" fill="#000" stroke="none" stroke-width="1" />
<rect x="740" y="332.5" width="2" height="2" fill="#000" stroke="none" stroke-width="1" />
<rect x="740" y="344.4" width="2" height="2" fill="#000" stroke="none" stroke-width="1" />
<rect x="802" y="89.5" width="3.6" height="236.2" fill="#000" stroke="none" stroke-width="1" />
<rect x="839.5" y="89.5" width="1.8" height="236.2" fill="#000" stroke="none" stroke-width="1" />
<ellipse cx="839" cy="67.5" rx="2.6" ry="4" fill="#000" />
<ellipse cx="839" cy="91.5" rx="2.2" ry="3" fill="#000" />
<ellipse cx="839" cy="114.5" rx="2.6" ry="4" fill="#000" />
<ellipse cx="839" cy="138.5" rx="2.2" ry="3" fill="#000" />
<ellipse cx="839" cy="161.5" rx="2.6" ry="4" fill="#000" />
<ellipse cx="839" cy="185.5" rx="2.2" ry="3" fill="#000" />
<ellipse cx="839" cy="208.5" rx="2.6" ry="4" fill="#000" />
<ellipse cx="839" cy="232.5" rx="2.2" ry="3" fill="#000" />
<ellipse cx="839" cy="255.5" rx="2.6" ry="4" fill="#000" />
<ellipse cx="839" cy="279.5" rx="2.2" ry="3" fill="#000" />
<ellipse cx="839" cy="302.5" rx="2.6" ry="4" fill="#000" />
<ellipse cx="839" cy="326.5" rx="2.2" ry="3" fill="#000" />
<ellipse cx="839" cy="349.5" rx="2.6" ry="4" fill="#000" />
<ellipse cx="839" cy="373.5" rx="2.2" ry="3" fill="#000" />
<rect x="847.4" y="89.5" width="5.6" height="236.2" fill="#000" stroke="none" stroke-width="1" />
<path d="M852,78.8 L862.5,81.8 L852,84.8 Z" fill="#000" stroke="none" stroke-width="1" />
<rect x="852" y="80.8" width="9" height="2" fill="#000" stroke="none" stroke-width="1" />
<path d="M852,94.5 L862.5,97.5 L852,100.5 Z" fill="#000" stroke="none" stroke-width="1" />
<rect x="852" y="96.5" width="9" height="2" fill="#000" stroke="none" stroke-width="1" />
<path d="M852,110.2 L862.5,113.2 L852,116.2 Z" fill="#000" stroke="none" stroke-width="1" />
<rect x="852" y="112.2" width="9" height="2" fill="#000" stroke="none" stroke-width="1" />
<path d="M852,125.9 L862.5,128.9 L852,131.9 Z" fill="#000" stroke="none" stroke-width="1" />
<rect x="852" y="127.9" width="9" height="2" fill="#000" stroke="none" stroke-width="1" />
<path d="M852,141.6 L862.5,144.6 L852,147.6 Z" fill="#000" stroke="none" stroke-width="1" />
<rect x="852" y="143.6" width="9" height="2" fill="#000" stroke="none" stroke-width="1" />
<path d="M852,157.3 L862.5,160.3 L852,163.3 Z" fill="#000" stroke="none" stroke-width="1" />
<rect x="852" y="159.3" width="9" height="2" fill="#000" stroke="none" stroke-width="1" />
<path d="M852,173 L862.5,176 L852,179 Z" fill="#000" stroke="none" stroke-width="1" />
<rect x="852" y="175" width="9" height="2" fill="#000" stroke="none" stroke-width="1" />
<path d="M852,188.7 L862.5,191.7 L852,194.7 Z" fill="#000" stroke="none" stroke-width="1" />
<rect x="852" y="190.7" width="9" height="2" fill="#000" stroke="none" stroke-width="1" />
<path d="M852,204.4 L862.5,207.4 L852,210.4 Z" fill="#000" stroke="none" stroke-width="1" />
<rect x="852" y="206.4" width="9" height="2" fill="#000" stroke="none" stroke-width="1" />
<path d="M852,220.1 L862.5,223.1 L852,226.1 Z" fill="#000" stroke="none" stroke-width="1" />
<rect x="852" y="222.1" width="9" height="2" fill="#000" stroke="none" stroke-width="1" />
<path d="M852,235.8 L862.5,238.8 L852,241.8 Z" fill="#000" stroke="none" stroke-width="1" />
<rect x="852" y="237.8" width="9" height="2" fill="#000" stroke="none" stroke-width="1" />
<path d="M852,251.5 L862.5,254.5 L852,257.5 Z" fill="#000" stroke="none" stroke-width="1" />
<rect x="852" y="253.5" width="9" height="2" fill="#000" stroke="none" stroke-width="1" />
<path d="M852,267.2 L862.5,270.2 L852,273.2 Z" fill="#000" stroke="none" stroke-width="1" />
<rect x="852" y="269.2" width="9" height="2" fill="#000" stroke="none" stroke-width="1" />
<path d="M852,282.9 L862.5,285.9 L852,288.9 Z" fill="#000" stroke="none" stroke-width="1" />
<rect x="852" y="284.9" width="9" height="2" fill="#000" stroke="none" stroke-width="1" />
<path d="M852,298.6 L862.5,301.6 L852,304.6 Z" fill="#000" stroke="none" stroke-width="1" />
<rect x="852" y="300.6" width="9" height="2" fill="#000" stroke="none" stroke-width="1" />
<path d="M852,314.3 L862.5,317.3 L852,320.3 Z" fill="#000" stroke="none" stroke-width="1" />
<rect x="852" y="316.3" width="9" height="2" fill="#000" stroke="none" stroke-width="1" />
<path d="M852,330 L862.5,333 L852,336 Z" fill="#000" stroke="none" stroke-width="1" />
<rect x="852" y="332" width="9" height="2" fill="#000" stroke="none" stroke-width="1" />
<line x1="884.5" y1="89.5" x2="884.5" y2="325.7" stroke="#000" stroke-width="2.8" stroke-dasharray="5 2"/>
<rect x="891.3" y="89.5" width="12.7" height="236.2" fill="#000" stroke="none" stroke-width="1" />
<ellipse cx="897.5" cy="101.4" rx="1.6" ry="1.6" fill="#fff" />
<ellipse cx="897.5" cy="125.5" rx="1.6" ry="1.6" fill="#fff" />
<ellipse cx="897.5" cy="149.4" rx="1.6" ry="1.6" fill="#fff" />
<ellipse cx="897.5" cy="172.5" rx="1.6" ry="1.6" fill="#fff" />
<ellipse cx="897.5" cy="196.5" rx="1.6" ry="1.6" fill="#fff" />
<ellipse cx="897.5" cy="219.6" rx="1.6" ry="1.6" fill="#fff" />
<ellipse cx="897.5" cy="243.5" rx="1.6" ry="1.6" fill="#fff" />
<ellipse cx="897.5" cy="266.7" rx="1.6" ry="1.6" fill="#fff" />
<ellipse cx="897.5" cy="290.6" rx="1.6" ry="1.6" fill="#fff" />
<ellipse cx="897.5" cy="314.6" rx="1.6" ry="1.6" fill="#fff" />
<rect x="705.5" y="136.4" width="201.5" height="0.8" fill="#fff" stroke="none" stroke-width="1" fill-opacity="0.7"/>
<rect x="705.5" y="183.7" width="201.5" height="0.8" fill="#fff" stroke="none" stroke-width="1" fill-opacity="0.7"/>
<rect x="705.5" y="231" width="201.5" height="0.8" fill="#fff" stroke="none" stroke-width="1" fill-opacity="0.7"/>
<rect x="705.5" y="278.3" width="201.5" height="0.8" fill="#fff" stroke="none" stroke-width="1" fill-opacity="0.7"/>
<rect x="705.5" y="325.6" width="201.5" height="0.8" fill="#fff" stroke="none" stroke-width="1" fill-opacity="0.7"/>
</g>
<rect x="705.5" y="89.5" width="201.5" height="236.2" fill="none" stroke="#6a6a6a" stroke-width="1.2" />
<g clip-path="url(#cfb)">
<g filter="url(#blur6)"><path d="M1185.6,149.5 L1015,345 L1355,345 Z" fill="#fbe3dc" fill-opacity="0.4"/><path d="M1185.6,149.5 L1085,0 L1285,0 Z" fill="#fbe3dc" fill-opacity="0.3"/><path d="M1185.6,149.5 L1120,345 L1250,345 Z" fill="#f9d6cb" fill-opacity="0.2"/><path d="M1185.6,149.5 L1150,0 L1220,0 Z" fill="#f9d6cb" fill-opacity="0.25"/></g>
<g filter="url(#blur2)"><line x1="1185.6" y1="149.5" x2="1021.98" y2="344.5" stroke="#f5c2b4" stroke-width="2.5" stroke-opacity="0.16"/><line x1="1185.6" y1="149.5" x2="1058.97" y2="344.5" stroke="#f5c2b4" stroke-width="2.5" stroke-opacity="0.16"/><line x1="1185.6" y1="149.5" x2="1088.19" y2="-0.5" stroke="#f5c2b4" stroke-width="2.5" stroke-opacity="0.14"/><line x1="1185.6" y1="149.5" x2="1090.49" y2="344.5" stroke="#f5c2b4" stroke-width="2.5" stroke-opacity="0.16"/><line x1="1185.6" y1="149.5" x2="1112.44" y2="-0.5" stroke="#f5c2b4" stroke-width="2.5" stroke-opacity="0.14"/><line x1="1185.6" y1="149.5" x2="1118.46" y2="344.5" stroke="#f5c2b4" stroke-width="2.5" stroke-opacity="0.16"/><line x1="1185.6" y1="149.5" x2="1133.95" y2="-0.5" stroke="#f5c2b4" stroke-width="2.5" stroke-opacity="0.14"/><line x1="1185.6" y1="149.5" x2="1144.15" y2="344.5" stroke="#f5c2b4" stroke-width="2.5" stroke-opacity="0.16"/><line x1="1185.6" y1="149.5" x2="1153.72" y2="-0.5" stroke="#f5c2b4" stroke-width="2.5" stroke-opacity="0.14"/><line x1="1185.6" y1="149.5" x2="1165.1" y2="344.5" stroke="#f5c2b4" stroke-width="2.5" stroke-opacity="0.16"/><line x1="1185.6" y1="149.5" x2="1169.83" y2="-0.5" stroke="#f5c2b4" stroke-width="2.5" stroke-opacity="0.14"/><line x1="1185.6" y1="149.5" x2="1185.6" y2="344.5" stroke="#f5c2b4" stroke-width="2.5" stroke-opacity="0.16"/><line x1="1185.6" y1="149.5" x2="1185.6" y2="-0.5" stroke="#f5c2b4" stroke-width="2.5" stroke-opacity="0.14"/><line x1="1185.6" y1="149.5" x2="1206.1" y2="344.5" stroke="#f5c2b4" stroke-width="2.5" stroke-opacity="0.16"/><line x1="1185.6" y1="149.5" x2="1201.37" y2="-0.5" stroke="#f5c2b4" stroke-width="2.5" stroke-opacity="0.14"/><line x1="1185.6" y1="149.5" x2="1227.05" y2="344.5" stroke="#f5c2b4" stroke-width="2.5" stroke-opacity="0.16"/><line x1="1185.6" y1="149.5" x2="1217.48" y2="-0.5" stroke="#f5c2b4" stroke-width="2.5" stroke-opacity="0.14"/><line x1="1185.6" y1="149.5" x2="1252.74" y2="344.5" stroke="#f5c2b4" stroke-width="2.5" stroke-opacity="0.16"/><line x1="1185.6" y1="149.5" x2="1237.25" y2="-0.5" stroke="#f5c2b4" stroke-width="2.5" stroke-opacity="0.14"/><line x1="1185.6" y1="149.5" x2="1280.71" y2="344.5" stroke="#f5c2b4" stroke-width="2.5" stroke-opacity="0.16"/><line x1="1185.6" y1="149.5" x2="1258.76" y2="-0.5" stroke="#f5c2b4" stroke-width="2.5" stroke-opacity="0.14"/><line x1="1185.6" y1="149.5" x2="1312.23" y2="344.5" stroke="#f5c2b4" stroke-width="2.5" stroke-opacity="0.16"/><line x1="1185.6" y1="149.5" x2="1283.01" y2="-0.5" stroke="#f5c2b4" stroke-width="2.5" stroke-opacity="0.14"/><line x1="1185.6" y1="149.5" x2="1349.22" y2="344.5" stroke="#f5c2b4" stroke-width="2.5" stroke-opacity="0.16"/></g>
<g filter="url(#blur1)"><ellipse cx="1185.6" cy="149.5" rx="9" ry="30" fill="#f6b0a0" fill-opacity="0.35"/><path d="M1177.6,119.5 L1193.6,179.5 M1193.6,119.5 L1177.6,179.5" stroke="#f07060" stroke-width="2.4" stroke-opacity="0.55"/><path d="M1180.6,131.5 L1190.6,167.5 M1190.6,131.5 L1180.6,167.5" stroke="#e23a2e" stroke-width="2.6" stroke-opacity="0.8"/><ellipse cx="1185.6" cy="149.5" rx="3.6" ry="14" fill="#d21e1e" fill-opacity="0.8"/><ellipse cx="1185.6" cy="149.5" rx="2.2" ry="10" fill="#6a0808"/></g>
</g>
<rect x="1017.5" y="3.5" width="336.5" height="336" fill="none" stroke="#6a6a6a" stroke-width="1.5" />
<circle cx="1040.5" cy="103" r="6.7" fill="#fff" stroke="#000" stroke-width="2"/>
<circle cx="1040.5" cy="103" r="3.5" fill="#000"/>
<line x1="1040.5" y1="95.3" x2="1040.5" y2="38.9" stroke="#000" stroke-width="1.9" />
<path d="M1040.5,31.2 L1045,45.2 L1040.5,39.6 L1036,45.2 Z" fill="#000" stroke="none" stroke-width="1" />
<line x1="1048.2" y1="103" x2="1103.8" y2="103" stroke="#000" stroke-width="1.9" />
<path d="M1111.5,103 L1097.5,107.5 L1103.1,103 L1097.5,98.5 Z" fill="#000" stroke="none" stroke-width="1" />
<text x="1041" y="28.3" font-family="'Liberation Serif', 'Times New Roman', serif" font-size="27" text-anchor="middle" fill="#111" font-weight="normal" font-style="italic" >z</text>
<text x="1122.5" y="108" font-family="'Liberation Serif', 'Times New Roman', serif" font-size="27" text-anchor="middle" fill="#111" font-weight="normal" font-style="italic" >x</text>
<text x="1041.5" y="129" font-family="'Liberation Serif', 'Times New Roman', serif" font-size="27" text-anchor="middle" fill="#111" font-weight="normal" font-style="italic" >y</text>
<text x="1313" y="327" font-family="'Liberation Serif', 'Times New Roman', serif" font-size="38" text-anchor="end" fill="#111" font-weight="normal" font-style="normal" >4λ</text>
<rect x="1316.8" y="312.3" width="25.5" height="4.6" fill="#555" stroke="none" stroke-width="1" />
<rect x="142.5" y="387.0" width="6.9" height="50.5" fill="url(#sp0)"/><rect x="149.4" y="387.0" width="6.9" height="50.5" fill="url(#sp1)"/><rect x="156.3" y="387.0" width="6.9" height="50.5" fill="url(#sp2)"/><rect x="163.2" y="387.0" width="6.9" height="50.5" fill="url(#sp3)"/><rect x="170.1" y="387.0" width="6.9" height="50.5" fill="url(#sp4)"/><rect x="177" y="387.0" width="6.9" height="50.5" fill="url(#sp5)"/><rect x="183.9" y="387.0" width="6.9" height="50.5" fill="url(#sp6)"/><rect x="190.8" y="387.0" width="6.9" height="50.5" fill="url(#sp7)"/><rect x="197.7" y="387.0" width="6.9" height="50.5" fill="url(#sp8)"/><rect x="204.6" y="387.0" width="6.9" height="50.5" fill="url(#sp9)"/><rect x="211.5" y="387.0" width="6.9" height="50.5" fill="url(#sp10)"/><rect x="218.4" y="387.0" width="6.9" height="50.5" fill="url(#sp11)"/><rect x="225.3" y="387.0" width="6.9" height="50.5" fill="url(#sp12)"/><rect x="232.2" y="387.0" width="6.9" height="50.5" fill="url(#sp13)"/><rect x="239.1" y="387.0" width="6.9" height="50.5" fill="url(#sp5)"/><rect x="246" y="387.0" width="6.9" height="50.5" fill="url(#sp14)"/><rect x="252.9" y="387.0" width="6.9" height="50.5" fill="url(#sp15)"/><rect x="259.8" y="387.0" width="6.9" height="50.5" fill="url(#sp16)"/><rect x="266.7" y="387.0" width="6.9" height="50.5" fill="url(#sp17)"/><rect x="273.6" y="387.0" width="6.9" height="50.5" fill="url(#sp18)"/><rect x="280.5" y="387.0" width="6.9" height="50.5" fill="url(#sp19)"/><rect x="287.4" y="387.0" width="6.9" height="50.5" fill="url(#sp20)"/><rect x="294.3" y="387.0" width="6.9" height="50.5" fill="url(#sp21)"/><rect x="301.2" y="387.0" width="6.9" height="50.5" fill="url(#sp5)"/><rect x="308.1" y="387.0" width="6.9" height="50.5" fill="url(#sp22)"/><rect x="315" y="387.0" width="6.9" height="50.5" fill="url(#sp19)"/><rect x="321.9" y="387.0" width="6.9" height="50.5" fill="url(#sp14)"/><rect x="328.8" y="387.0" width="6.9" height="50.5" fill="url(#sp23)"/><rect x="335.7" y="387.0" width="6.9" height="50.5" fill="url(#sp24)"/><rect x="342.6" y="387.0" width="6.9" height="50.5" fill="url(#sp25)"/><rect x="349.5" y="387.0" width="6.9" height="50.5" fill="url(#sp26)"/><rect x="356.4" y="387.0" width="6.9" height="50.5" fill="url(#sp27)"/><rect x="363.3" y="387.0" width="6.9" height="50.5" fill="url(#sp22)"/><rect x="370.2" y="387.0" width="6.9" height="50.5" fill="url(#sp28)"/><rect x="377.1" y="387.0" width="6.9" height="50.5" fill="url(#sp29)"/><rect x="384" y="387.0" width="6.9" height="50.5" fill="url(#sp4)"/><rect x="390.9" y="387.0" width="6.9" height="50.5" fill="url(#sp30)"/><rect x="397.8" y="387.0" width="6.9" height="50.5" fill="url(#sp31)"/><rect x="404.7" y="387.0" width="6.9" height="50.5" fill="url(#sp12)"/><rect x="411.6" y="387.0" width="6.9" height="50.5" fill="url(#sp32)"/><rect x="418.5" y="387.0" width="6.9" height="50.5" fill="url(#sp33)"/><rect x="425.4" y="387.0" width="6.9" height="50.5" fill="url(#sp34)"/><rect x="432.3" y="387.0" width="6.9" height="50.5" fill="url(#sp35)"/><rect x="439.2" y="387.0" width="6.9" height="50.5" fill="url(#sp36)"/><rect x="446.1" y="387.0" width="6.9" height="50.5" fill="url(#sp37)"/><rect x="453" y="387.0" width="6.9" height="50.5" fill="url(#sp17)"/><rect x="459.9" y="387.0" width="6.9" height="50.5" fill="url(#sp38)"/><rect x="466.8" y="387.0" width="6.9" height="50.5" fill="url(#sp39)"/><rect x="473.7" y="387.0" width="6.9" height="50.5" fill="url(#sp40)"/><rect x="480.6" y="387.0" width="6.9" height="50.5" fill="url(#sp31)"/><rect x="487.5" y="387.0" width="6.9" height="50.5" fill="url(#sp41)"/><rect x="494.4" y="387.0" width="6.9" height="50.5" fill="url(#sp41)"/><rect x="501.3" y="387.0" width="6.9" height="50.5" fill="url(#sp42)"/><rect x="508.2" y="387.0" width="6.9" height="50.5" fill="url(#sp43)"/><rect x="515.1" y="387.0" width="6.9" height="50.5" fill="url(#sp44)"/><rect x="522" y="387.0" width="6.9" height="50.5" fill="url(#sp36)"/><rect x="528.9" y="387.0" width="6.9" height="50.5" fill="url(#sp45)"/><rect x="535.8" y="387.0" width="6.9" height="50.5" fill="url(#sp46)"/><rect x="542.7" y="387.0" width="6.9" height="50.5" fill="url(#sp27)"/><rect x="549.6" y="387.0" width="6.9" height="50.5" fill="url(#sp47)"/><rect x="556.5" y="387.0" width="6.9" height="50.5" fill="url(#sp48)"/><rect x="563.4" y="387.0" width="6.9" height="50.5" fill="url(#sp23)"/><rect x="570.3" y="387.0" width="6.9" height="50.5" fill="url(#sp23)"/><rect x="577.2" y="387.0" width="6.9" height="50.5" fill="url(#sp49)"/><rect x="584.1" y="387.0" width="6.9" height="50.5" fill="url(#sp45)"/><rect x="591" y="387.0" width="6.9" height="50.5" fill="url(#sp35)"/><rect x="597.9" y="387.0" width="6.9" height="50.5" fill="url(#sp50)"/><rect x="604.8" y="387.0" width="6.9" height="50.5" fill="url(#sp51)"/><rect x="611.7" y="387.0" width="6.9" height="50.5" fill="url(#sp52)"/><rect x="618.6" y="387.0" width="6.9" height="50.5" fill="url(#sp53)"/><rect x="625.5" y="387.0" width="6.9" height="50.5" fill="url(#sp20)"/><rect x="632.4" y="387.0" width="6.9" height="50.5" fill="url(#sp24)"/><rect x="639.3" y="387.0" width="6.9" height="50.5" fill="url(#sp48)"/><rect x="646.2" y="387.0" width="6.9" height="50.5" fill="url(#sp54)"/><rect x="653.1" y="387.0" width="6.9" height="50.5" fill="url(#sp38)"/><rect x="660" y="387.0" width="6.9" height="50.5" fill="url(#sp55)"/><rect x="666.9" y="387.0" width="6.9" height="50.5" fill="url(#sp56)"/><rect x="673.8" y="387.0" width="6.9" height="50.5" fill="url(#sp57)"/><rect x="680.7" y="387.0" width="6.9" height="50.5" fill="url(#sp58)"/><rect x="687.6" y="387.0" width="6.9" height="50.5" fill="url(#sp59)"/><rect x="694.5" y="387.0" width="6.9" height="50.5" fill="url(#sp43)"/><rect x="701.4" y="387.0" width="6.9" height="50.5" fill="url(#sp60)"/><rect x="708.3" y="387.0" width="6.9" height="50.5" fill="url(#sp35)"/><rect x="715.2" y="387.0" width="6.9" height="50.5" fill="url(#sp20)"/><rect x="722.1" y="387.0" width="6.9" height="50.5" fill="url(#sp61)"/><rect x="729" y="387.0" width="6.9" height="50.5" fill="url(#sp21)"/><rect x="735.9" y="387.0" width="6.9" height="50.5" fill="url(#sp17)"/><rect x="742.8" y="387.0" width="6.9" height="50.5" fill="url(#sp60)"/><rect x="749.7" y="387.0" width="6.9" height="50.5" fill="url(#sp36)"/><rect x="756.6" y="387.0" width="6.9" height="50.5" fill="url(#sp45)"/><rect x="763.5" y="387.0" width="6.9" height="50.5" fill="url(#sp62)"/><rect x="770.4" y="387.0" width="6.9" height="50.5" fill="url(#sp63)"/><rect x="777.3" y="387.0" width="6.9" height="50.5" fill="url(#sp64)"/><rect x="784.2" y="387.0" width="6.9" height="50.5" fill="url(#sp4)"/><rect x="791.1" y="387.0" width="6.9" height="50.5" fill="url(#sp65)"/><rect x="798" y="387.0" width="6.9" height="50.5" fill="url(#sp31)"/><rect x="804.9" y="387.0" width="6.9" height="50.5" fill="url(#sp66)"/><rect x="811.8" y="387.0" width="6.9" height="50.5" fill="url(#sp67)"/><rect x="818.7" y="387.0" width="6.9" height="50.5" fill="url(#sp68)"/><rect x="825.6" y="387.0" width="6.9" height="50.5" fill="url(#sp27)"/><rect x="832.5" y="387.0" width="6.9" height="50.5" fill="url(#sp16)"/><rect x="839.4" y="387.0" width="6.9" height="50.5" fill="url(#sp49)"/><rect x="846.3" y="387.0" width="6.9" height="50.5" fill="url(#sp69)"/><rect x="853.2" y="387.0" width="6.9" height="50.5" fill="url(#sp54)"/><rect x="860.1" y="387.0" width="6.9" height="50.5" fill="url(#sp64)"/><rect x="867" y="387.0" width="6.9" height="50.5" fill="url(#sp31)"/><rect x="873.9" y="387.0" width="6.9" height="50.5" fill="url(#sp14)"/><rect x="880.8" y="387.0" width="6.9" height="50.5" fill="url(#sp32)"/><rect x="887.7" y="387.0" width="6.9" height="50.5" fill="url(#sp9)"/><rect x="894.6" y="387.0" width="6.9" height="50.5" fill="url(#sp70)"/><rect x="901.5" y="387.0" width="6.9" height="50.5" fill="url(#sp16)"/><rect x="908.4" y="387.0" width="6.9" height="50.5" fill="url(#sp71)"/><rect x="915.3" y="387.0" width="6.9" height="50.5" fill="url(#sp4)"/><rect x="922.2" y="387.0" width="6.9" height="50.5" fill="url(#sp71)"/><rect x="929.1" y="387.0" width="6.9" height="50.5" fill="url(#sp33)"/><rect x="936" y="387.0" width="6.9" height="50.5" fill="url(#sp54)"/><rect x="942.9" y="387.0" width="6.9" height="50.5" fill="url(#sp9)"/><rect x="949.8" y="387.0" width="6.9" height="50.5" fill="url(#sp72)"/><rect x="956.7" y="387.0" width="6.9" height="50.5" fill="url(#sp55)"/><rect x="963.6" y="387.0" width="6.9" height="50.5" fill="url(#sp73)"/><rect x="970.5" y="387.0" width="6.9" height="50.5" fill="url(#sp34)"/><rect x="977.4" y="387.0" width="6.9" height="50.5" fill="url(#sp12)"/><rect x="984.3" y="387.0" width="6.9" height="50.5" fill="url(#sp74)"/><rect x="991.2" y="387.0" width="6.9" height="50.5" fill="url(#sp28)"/><rect x="998.1" y="387.0" width="6.9" height="50.5" fill="url(#sp75)"/><rect x="1005" y="387.0" width="6.9" height="50.5" fill="url(#sp76)"/><rect x="1011.9" y="387.0" width="6.9" height="50.5" fill="url(#sp77)"/><rect x="1018.8" y="387.0" width="6.9" height="50.5" fill="url(#sp77)"/><rect x="1025.7" y="387.0" width="6.9" height="50.5" fill="url(#sp78)"/><rect x="1032.6" y="387.0" width="6.9" height="50.5" fill="url(#sp79)"/><rect x="1039.5" y="387.0" width="6.9" height="50.5" fill="url(#sp53)"/><rect x="1046.4" y="387.0" width="6.9" height="50.5" fill="url(#sp11)"/><rect x="1053.3" y="387.0" width="6.9" height="50.5" fill="url(#sp9)"/><rect x="1060.2" y="387.0" width="6.9" height="50.5" fill="url(#sp80)"/><rect x="1067.1" y="387.0" width="6.9" height="50.5" fill="url(#sp67)"/><rect x="1074" y="387.0" width="6.9" height="50.5" fill="url(#sp81)"/><rect x="1080.9" y="387.0" width="6.9" height="50.5" fill="url(#sp10)"/><rect x="1087.8" y="387.0" width="6.9" height="50.5" fill="url(#sp16)"/><rect x="1094.7" y="387.0" width="6.9" height="50.5" fill="url(#sp19)"/><rect x="1101.6" y="387.0" width="6.9" height="50.5" fill="url(#sp44)"/><rect x="1108.5" y="387.0" width="6.9" height="50.5" fill="url(#sp82)"/><rect x="1115.4" y="387.0" width="6.9" height="50.5" fill="url(#sp83)"/><rect x="1122.3" y="387.0" width="6.9" height="50.5" fill="url(#sp46)"/><rect x="1129.2" y="387.0" width="6.9" height="50.5" fill="url(#sp70)"/><rect x="1136.1" y="387.0" width="6.9" height="50.5" fill="url(#sp84)"/><rect x="1143" y="387.0" width="6.9" height="50.5" fill="url(#sp85)"/><rect x="1149.9" y="387.0" width="6.9" height="50.5" fill="url(#sp86)"/><rect x="1156.8" y="387.0" width="6.9" height="50.5" fill="url(#sp23)"/><rect x="1163.7" y="387.0" width="6.9" height="50.5" fill="url(#sp87)"/><rect x="1170.6" y="387.0" width="6.9" height="50.5" fill="url(#sp13)"/><rect x="1177.5" y="387.0" width="6.9" height="50.5" fill="url(#sp45)"/><rect x="1184.4" y="387.0" width="6.9" height="50.5" fill="url(#sp88)"/><rect x="1191.3" y="387.0" width="6.9" height="50.5" fill="url(#sp77)"/><rect x="1198.2" y="387.0" width="6.9" height="50.5" fill="url(#sp89)"/><rect x="1205.1" y="387.0" width="6.9" height="50.5" fill="url(#sp69)"/><rect x="1212" y="387.0" width="6.9" height="50.5" fill="url(#sp90)"/><rect x="1218.9" y="387.0" width="6.9" height="50.5" fill="url(#sp31)"/><rect x="1225.8" y="387.0" width="6.9" height="50.5" fill="url(#sp91)"/><rect x="1232.7" y="387.0" width="6.9" height="50.5" fill="url(#sp92)"/><rect x="1239.6" y="387.0" width="6.9" height="50.5" fill="url(#sp34)"/><rect x="1246.5" y="387.0" width="6.9" height="50.5" fill="url(#sp80)"/><rect x="1253.4" y="387.0" width="6.9" height="50.5" fill="url(#sp93)"/><rect x="1260.3" y="387.0" width="6.9" height="50.5" fill="url(#sp27)"/><rect x="1267.2" y="387.0" width="6.9" height="50.5" fill="url(#sp94)"/><rect x="1274.1" y="387.0" width="6.9" height="50.5" fill="url(#sp42)"/><rect x="1281" y="387.0" width="6.9" height="50.5" fill="url(#sp59)"/><rect x="1287.9" y="387.0" width="6.9" height="50.5" fill="url(#sp95)"/><rect x="1294.8" y="387.0" width="6.9" height="50.5" fill="url(#sp96)"/><rect x="1301.7" y="387.0" width="6.9" height="50.5" fill="url(#sp97)"/><rect x="1308.6" y="387.0" width="6.9" height="50.5" fill="url(#sp98)"/><rect x="1315.5" y="387.0" width="6.9" height="50.5" fill="url(#sp78)"/><rect x="1322.4" y="387.0" width="6.9" height="50.5" fill="url(#sp86)"/><rect x="1329.3" y="387.0" width="6.9" height="50.5" fill="url(#sp38)"/><rect x="1336.2" y="387.0" width="6.9" height="50.5" fill="url(#sp99)"/><rect x="1343.1" y="387.0" width="6.9" height="50.5" fill="url(#sp88)"/><rect x="1350" y="387.0" width="6.9" height="50.5" fill="url(#sp84)"/><rect x="1356.9" y="387.0" width="6.9" height="50.5" fill="url(#sp72)"/><rect x="1363.8" y="387.0" width="6.9" height="50.5" fill="url(#sp63)"/><rect x="1370.7" y="387.0" width="6.9" height="50.5" fill="url(#sp100)"/><rect x="1377.6" y="387.0" width="6.9" height="50.5" fill="url(#sp101)"/><rect x="1384.5" y="387.0" width="6.9" height="50.5" fill="url(#sp51)"/><rect x="1391.4" y="387.0" width="6.9" height="50.5" fill="url(#sp53)"/><rect x="1398.3" y="387.0" width="6.9" height="50.5" fill="url(#sp66)"/><rect x="1405.2" y="387.0" width="6.9" height="50.5" fill="url(#sp11)"/><rect x="1412.1" y="387.0" width="6.9" height="50.5" fill="url(#sp30)"/><rect x="1419" y="387.0" width="6.9" height="50.5" fill="url(#sp14)"/><rect x="1425.9" y="387.0" width="6.9" height="50.5" fill="url(#sp102)"/><rect x="1432.8" y="387.0" width="6.9" height="50.5" fill="url(#sp24)"/><rect x="1439.7" y="387.0" width="6.9" height="50.5" fill="url(#sp70)"/><rect x="1446.6" y="387.0" width="6.9" height="50.5" fill="url(#sp78)"/><rect x="1453.5" y="387.0" width="6.9" height="50.5" fill="url(#sp17)"/><rect x="1460.4" y="387.0" width="6.9" height="50.5" fill="url(#sp94)"/><rect x="1467.3" y="387.0" width="6.9" height="50.5" fill="url(#sp70)"/><rect x="1474.2" y="387.0" width="6.9" height="50.5" fill="url(#sp17)"/><rect x="1481.1" y="387.0" width="6.9" height="50.5" fill="url(#sp92)"/><rect x="1488" y="387.0" width="6.9" height="50.5" fill="url(#sp23)"/><rect x="1494.9" y="387.0" width="6.9" height="50.5" fill="url(#sp56)"/><rect x="1501.8" y="387.0" width="6.9" height="50.5" fill="url(#sp103)"/>
<rect x="193.75" y="383.75" width="28" height="56.25" fill="none" stroke="#444" stroke-width="1.1" />
<rect x="390" y="384" width="28.75" height="56" fill="none" stroke="#444" stroke-width="1.1" />
<rect x="673" y="384.5" width="28.25" height="55" fill="none" stroke="#444" stroke-width="1.1" />
<line x1="176.5" y1="327.4" x2="193.75" y2="383.75" stroke="#444" stroke-width="1.2" stroke-dasharray="4.5 3.5"/>
<line x1="378" y1="327.4" x2="221.75" y2="383.75" stroke="#444" stroke-width="1.2" stroke-dasharray="4.5 3.5"/>
<line x1="455" y1="327" x2="390" y2="384" stroke="#444" stroke-width="1.2" stroke-dasharray="4.5 3.5"/>
<line x1="657" y1="327" x2="418.75" y2="384" stroke="#444" stroke-width="1.2" stroke-dasharray="4.5 3.5"/>
<line x1="705.5" y1="325.7" x2="673" y2="384.5" stroke="#444" stroke-width="1.2" stroke-dasharray="4.5 3.5"/>
<line x1="907" y1="325.7" x2="701.25" y2="384.5" stroke="#444" stroke-width="1.2" stroke-dasharray="4.5 3.5"/>
<rect x="144.81" y="448.0" width="2.28" height="10.75" fill="#222"/><rect x="151.47" y="448.0" width="2.76" height="10.75" fill="#333"/><rect x="158.65" y="448.0" width="2.2" height="10.75" fill="#000"/><rect x="165.27" y="448.0" width="2.76" height="10.75" fill="#000"/><rect x="173.05" y="448.0" width="1" height="10.75" fill="#333"/><rect x="186.39" y="448.0" width="1.92" height="10.75" fill="#333"/><rect x="193.75" y="448.0" width="1" height="10.75" fill="#333"/><rect x="207.55" y="448.0" width="1" height="10.75" fill="#222"/><rect x="221.25" y="448.0" width="1.2" height="10.75" fill="#1a1a1a"/><rect x="228.25" y="448.0" width="1" height="10.75" fill="#222"/><rect x="235.15" y="448.0" width="1" height="10.75" fill="#333"/><rect x="248.07" y="448.0" width="2.76" height="10.75" fill="#333"/><rect x="255.57" y="448.0" width="1.56" height="10.75" fill="#1a1a1a"/><rect x="262.65" y="448.0" width="1.2" height="10.75" fill="#222"/><rect x="269.55" y="448.0" width="1.2" height="10.75" fill="#1a1a1a"/><rect x="275.95" y="448.0" width="2.2" height="10.75" fill="#333"/><rect x="283.45" y="448.0" width="1" height="10.75" fill="#1a1a1a"/><rect x="310.17" y="448.0" width="2.76" height="10.75" fill="#222"/><rect x="317.95" y="448.0" width="1" height="10.75" fill="#1a1a1a"/><rect x="323.97" y="448.0" width="2.76" height="10.75" fill="#333"/><rect x="331.65" y="448.0" width="1.2" height="10.75" fill="#1a1a1a"/><rect x="337.77" y="448.0" width="2.76" height="10.75" fill="#1a1a1a"/><rect x="345.27" y="448.0" width="1.56" height="10.75" fill="#333"/><rect x="352.35" y="448.0" width="1.2" height="10.75" fill="#333"/><rect x="359.25" y="448.0" width="1.2" height="10.75" fill="#333"/><rect x="365.37" y="448.0" width="2.76" height="10.75" fill="#222"/><rect x="372.69" y="448.0" width="1.92" height="10.75" fill="#1a1a1a"/><rect x="379.59" y="448.0" width="1.92" height="10.75" fill="#222"/><rect x="386.95" y="448.0" width="1" height="10.75" fill="#333"/><rect x="400.47" y="448.0" width="1.56" height="10.75" fill="#222"/><rect x="414.09" y="448.0" width="1.92" height="10.75" fill="#1a1a1a"/><rect x="427.47" y="448.0" width="2.76" height="10.75" fill="#222"/><rect x="435.25" y="448.0" width="1" height="10.75" fill="#222"/><rect x="455.85" y="448.0" width="1.2" height="10.75" fill="#1a1a1a"/><rect x="468.87" y="448.0" width="2.76" height="10.75" fill="#1a1a1a"/><rect x="476.55" y="448.0" width="1.2" height="10.75" fill="#333"/><rect x="496.89" y="448.0" width="1.92" height="10.75" fill="#333"/><rect x="503.61" y="448.0" width="2.28" height="10.75" fill="#1a1a1a"/><rect x="510.87" y="448.0" width="1.56" height="10.75" fill="#222"/><rect x="517.41" y="448.0" width="2.28" height="10.75" fill="#1a1a1a"/><rect x="530.97" y="448.0" width="2.76" height="10.75" fill="#333"/><rect x="537.87" y="448.0" width="2.76" height="10.75" fill="#000"/><rect x="545.55" y="448.0" width="1.2" height="10.75" fill="#333"/><rect x="558.81" y="448.0" width="2.28" height="10.75" fill="#000"/><rect x="566.25" y="448.0" width="1.2" height="10.75" fill="#1a1a1a"/><rect x="573.15" y="448.0" width="1.2" height="10.75" fill="#1a1a1a"/><rect x="586.17" y="448.0" width="2.76" height="10.75" fill="#333"/><rect x="600.85" y="448.0" width="1" height="10.75" fill="#000"/><rect x="607.45" y="448.0" width="1.6" height="10.75" fill="#222"/><rect x="614.65" y="448.0" width="1" height="10.75" fill="#222"/><rect x="621.45" y="448.0" width="1.2" height="10.75" fill="#1a1a1a"/><rect x="634.47" y="448.0" width="2.76" height="10.75" fill="#1a1a1a"/><rect x="648.51" y="448.0" width="2.28" height="10.75" fill="#1a1a1a"/><rect x="655.95" y="448.0" width="1.2" height="10.75" fill="#222"/><rect x="662.31" y="448.0" width="2.28" height="10.75" fill="#000"/><rect x="676.29" y="448.0" width="1.92" height="10.75" fill="#222"/><rect x="690.45" y="448.0" width="1.2" height="10.75" fill="#222"/><rect x="697.17" y="448.0" width="1.56" height="10.75" fill="#222"/><rect x="717.51" y="448.0" width="2.28" height="10.75" fill="#222"/><rect x="724.95" y="448.0" width="1.2" height="10.75" fill="#1a1a1a"/><rect x="731.31" y="448.0" width="2.28" height="10.75" fill="#333"/><rect x="738.75" y="448.0" width="1.2" height="10.75" fill="#1a1a1a"/><rect x="745.47" y="448.0" width="1.56" height="10.75" fill="#333"/><rect x="814.65" y="448.0" width="1.2" height="10.75" fill="#000"/><rect x="821.55" y="448.0" width="1.2" height="10.75" fill="#222"/><rect x="828.45" y="448.0" width="1.2" height="10.75" fill="#333"/><rect x="835.35" y="448.0" width="1.2" height="10.75" fill="#222"/><rect x="841.71" y="448.0" width="2.28" height="10.75" fill="#222"/><rect x="849.15" y="448.0" width="1.2" height="10.75" fill="#222"/><rect x="855.51" y="448.0" width="2.28" height="10.75" fill="#1a1a1a"/><rect x="863.05" y="448.0" width="1" height="10.75" fill="#1a1a1a"/><rect x="869.67" y="448.0" width="1.56" height="10.75" fill="#222"/><rect x="875.97" y="448.0" width="2.76" height="10.75" fill="#333"/><rect x="910.89" y="448.0" width="1.92" height="10.75" fill="#000"/><rect x="918.25" y="448.0" width="1" height="10.75" fill="#333"/><rect x="924.69" y="448.0" width="1.92" height="10.75" fill="#000"/><rect x="938.31" y="448.0" width="2.28" height="10.75" fill="#1a1a1a"/><rect x="945.85" y="448.0" width="1" height="10.75" fill="#222"/><rect x="951.87" y="448.0" width="2.76" height="10.75" fill="#000"/><rect x="959.01" y="448.0" width="2.28" height="10.75" fill="#000"/><rect x="966.45" y="448.0" width="1.2" height="10.75" fill="#000"/><rect x="972.57" y="448.0" width="2.76" height="10.75" fill="#222"/><rect x="980.35" y="448.0" width="1" height="10.75" fill="#222"/><rect x="993.69" y="448.0" width="1.92" height="10.75" fill="#1a1a1a"/><rect x="1000.77" y="448.0" width="1.56" height="10.75" fill="#222"/><rect x="1007.67" y="448.0" width="1.56" height="10.75" fill="#222"/><rect x="1013.97" y="448.0" width="2.76" height="10.75" fill="#222"/><rect x="1028.55" y="448.0" width="1.2" height="10.75" fill="#000"/><rect x="1034.91" y="448.0" width="2.28" height="10.75" fill="#222"/><rect x="1042.35" y="448.0" width="1.2" height="10.75" fill="#1a1a1a"/><rect x="1049.25" y="448.0" width="1.2" height="10.75" fill="#1a1a1a"/><rect x="1056.25" y="448.0" width="1" height="10.75" fill="#222"/><rect x="1062.69" y="448.0" width="1.92" height="10.75" fill="#222"/><rect x="1069.95" y="448.0" width="1.2" height="10.75" fill="#000"/><rect x="1076.07" y="448.0" width="2.76" height="10.75" fill="#1a1a1a"/><rect x="1083.85" y="448.0" width="1" height="10.75" fill="#1a1a1a"/><rect x="1090.65" y="448.0" width="1.2" height="10.75" fill="#222"/><rect x="1097.65" y="448.0" width="1" height="10.75" fill="#1a1a1a"/><rect x="1103.91" y="448.0" width="2.28" height="10.75" fill="#1a1a1a"/><rect x="1111.35" y="448.0" width="1.2" height="10.75" fill="#333"/><rect x="1118.07" y="448.0" width="1.56" height="10.75" fill="#1a1a1a"/><rect x="1124.37" y="448.0" width="2.76" height="10.75" fill="#000"/><rect x="1131.87" y="448.0" width="1.56" height="10.75" fill="#000"/><rect x="1138.95" y="448.0" width="1.2" height="10.75" fill="#222"/><rect x="1145.67" y="448.0" width="1.56" height="10.75" fill="#1a1a1a"/><rect x="1152.39" y="448.0" width="1.92" height="10.75" fill="#333"/><rect x="1159.65" y="448.0" width="1.2" height="10.75" fill="#1a1a1a"/><rect x="1166.01" y="448.0" width="2.28" height="10.75" fill="#333"/><rect x="1173.55" y="448.0" width="1" height="10.75" fill="#333"/><rect x="1179.57" y="448.0" width="2.76" height="10.75" fill="#333"/><rect x="1186.75" y="448.0" width="2.2" height="10.75" fill="#1a1a1a"/><rect x="1193.37" y="448.0" width="2.76" height="10.75" fill="#222"/><rect x="1200.87" y="448.0" width="1.56" height="10.75" fill="#333"/><rect x="1207.95" y="448.0" width="1.2" height="10.75" fill="#222"/><rect x="1221.57" y="448.0" width="1.56" height="10.75" fill="#222"/><rect x="1235.65" y="448.0" width="1" height="10.75" fill="#000"/><rect x="1276.41" y="448.0" width="2.28" height="10.75" fill="#1a1a1a"/><rect x="1297.29" y="448.0" width="1.92" height="10.75" fill="#333"/><rect x="1304.19" y="448.0" width="1.92" height="10.75" fill="#222"/><rect x="1318.35" y="448.0" width="1.2" height="10.75" fill="#000"/><rect x="1345.45" y="448.0" width="2.2" height="10.75" fill="#1a1a1a"/><rect x="1358.97" y="448.0" width="2.76" height="10.75" fill="#000"/><rect x="1373.19" y="448.0" width="1.92" height="10.75" fill="#000"/><rect x="1380.27" y="448.0" width="1.56" height="10.75" fill="#000"/><rect x="1387.15" y="448.0" width="1.6" height="10.75" fill="#222"/><rect x="1394.25" y="448.0" width="1.2" height="10.75" fill="#1a1a1a"/><rect x="1400.37" y="448.0" width="2.76" height="10.75" fill="#222"/><rect x="1408.05" y="448.0" width="1.2" height="10.75" fill="#1a1a1a"/><rect x="1421.07" y="448.0" width="2.76" height="10.75" fill="#333"/><rect x="1428.21" y="448.0" width="2.28" height="10.75" fill="#222"/><rect x="1434.87" y="448.0" width="2.76" height="10.75" fill="#1a1a1a"/><rect x="1442.37" y="448.0" width="1.56" height="10.75" fill="#000"/><rect x="1449.45" y="448.0" width="1.2" height="10.75" fill="#000"/><rect x="1456.35" y="448.0" width="1.2" height="10.75" fill="#1a1a1a"/><rect x="1477.05" y="448.0" width="1.2" height="10.75" fill="#1a1a1a"/><rect x="1484.05" y="448.0" width="1" height="10.75" fill="#000"/><rect x="1490.85" y="448.0" width="1.2" height="10.75" fill="#1a1a1a"/><rect x="1497.21" y="448.0" width="2.28" height="10.75" fill="#000"/><rect x="1504.47" y="448.0" width="1.56" height="10.75" fill="#333"/>
<rect x="142.5" y="458.75" width="1373" height="49.25" fill="#d4d4d4" stroke="none" stroke-width="1" />
<text x="1503" y="492" font-family="'Liberation Serif', 'Times New Roman', serif" font-size="38" text-anchor="end" fill="#111" font-weight="normal" font-style="normal" >8λ</text>
<rect x="1451" y="497" width="54.5" height="5" fill="#555" stroke="none" stroke-width="1" />
<circle cx="92" cy="417" r="7.2" fill="#fff" stroke="#000" stroke-width="2"/>
<circle cx="92" cy="417" r="3.5" fill="#000"/>
<line x1="92" y1="408.8" x2="92" y2="389.5" stroke="#000" stroke-width="1.9" />
<path d="M92,384 L95.5,394 L92,390 L88.5,394 Z" fill="#000" stroke="none" stroke-width="1" />
<line x1="100.2" y1="417" x2="119.5" y2="417" stroke="#000" stroke-width="1.9" />
<path d="M125,417 L115,420.5 L119,417 L115,413.5 Z" fill="#000" stroke="none" stroke-width="1" />
<text x="89.5" y="380.8" font-family="'Liberation Serif', 'Times New Roman', serif" font-size="27" text-anchor="middle" fill="#111" font-weight="normal" font-style="italic" >y</text>
<text x="132.5" y="422.8" font-family="'Liberation Serif', 'Times New Roman', serif" font-size="27" text-anchor="middle" fill="#111" font-weight="normal" font-style="italic" >x</text>
<text x="91" y="438.7" font-family="'Liberation Serif', 'Times New Roman', serif" font-size="27" text-anchor="middle" fill="#111" font-weight="normal" font-style="italic" >z</text>
<circle cx="92" cy="502" r="7.2" fill="#fff" stroke="#000" stroke-width="2"/>
<circle cx="92" cy="502" r="3.5" fill="#000"/>
<line x1="92" y1="493.8" x2="92" y2="474" stroke="#000" stroke-width="1.9" />
<path d="M92,468.5 L95.5,478.5 L92,474.5 L88.5,478.5 Z" fill="#000" stroke="none" stroke-width="1" />
<line x1="100.2" y1="502" x2="119.5" y2="502" stroke="#000" stroke-width="1.9" />
<path d="M125,502 L115,505.5 L119,502 L115,498.5 Z" fill="#000" stroke="none" stroke-width="1" />
<text x="91" y="464.8" font-family="'Liberation Serif', 'Times New Roman', serif" font-size="27" text-anchor="middle" fill="#111" font-weight="normal" font-style="italic" >z</text>
<text x="132" y="507.3" font-family="'Liberation Serif', 'Times New Roman', serif" font-size="27" text-anchor="middle" fill="#111" font-weight="normal" font-style="italic" >x</text>
<text x="90" y="522" font-family="'Liberation Serif', 'Times New Roman', serif" font-size="27" text-anchor="middle" fill="#111" font-weight="normal" font-style="italic" >y</text>
<rect x="108.3" y="792.3" width="248.3" height="89.2" fill="#fff" stroke="none" stroke-width="1" />
<line x1="170.38" y1="792.3" x2="170.38" y2="881.5" stroke="#d8d8d8" stroke-width="1" />
<line x1="232.45" y1="792.3" x2="232.45" y2="881.5" stroke="#d8d8d8" stroke-width="1" />
<line x1="294.53" y1="792.3" x2="294.53" y2="881.5" stroke="#d8d8d8" stroke-width="1" />
<line x1="108.3" y1="836.9" x2="356.6" y2="836.9" stroke="#d8d8d8" stroke-width="1" />
<rect x="108.3" y="932.6" width="248.3" height="88.2" fill="#fff" stroke="none" stroke-width="1" />
<line x1="170.38" y1="932.6" x2="170.38" y2="1020.8" stroke="#d8d8d8" stroke-width="1" />
<line x1="232.45" y1="932.6" x2="232.45" y2="1020.8" stroke="#d8d8d8" stroke-width="1" />
<line x1="294.53" y1="932.6" x2="294.53" y2="1020.8" stroke="#d8d8d8" stroke-width="1" />
<line x1="108.3" y1="976.7" x2="356.6" y2="976.7" stroke="#d8d8d8" stroke-width="1" />
<line x1="170.38" y1="881.5" x2="170.38" y2="878.5" stroke="#555" stroke-width="1" />
<line x1="170.38" y1="792.3" x2="170.38" y2="795.3" stroke="#555" stroke-width="1" />
<line x1="232.45" y1="881.5" x2="232.45" y2="878.5" stroke="#555" stroke-width="1" />
<line x1="232.45" y1="792.3" x2="232.45" y2="795.3" stroke="#555" stroke-width="1" />
<line x1="294.53" y1="881.5" x2="294.53" y2="878.5" stroke="#555" stroke-width="1" />
<line x1="294.53" y1="792.3" x2="294.53" y2="795.3" stroke="#555" stroke-width="1" />
<line x1="108.3" y1="836.9" x2="111.3" y2="836.9" stroke="#555" stroke-width="1" />
<line x1="356.6" y1="836.9" x2="353.6" y2="836.9" stroke="#555" stroke-width="1" />
<line x1="170.38" y1="1020.8" x2="170.38" y2="1017.8" stroke="#555" stroke-width="1" />
<line x1="170.38" y1="932.6" x2="170.38" y2="935.6" stroke="#555" stroke-width="1" />
<line x1="232.45" y1="1020.8" x2="232.45" y2="1017.8" stroke="#555" stroke-width="1" />
<line x1="232.45" y1="932.6" x2="232.45" y2="935.6" stroke="#555" stroke-width="1" />
<line x1="294.53" y1="1020.8" x2="294.53" y2="1017.8" stroke="#555" stroke-width="1" />
<line x1="294.53" y1="932.6" x2="294.53" y2="935.6" stroke="#555" stroke-width="1" />
<line x1="108.3" y1="976.7" x2="111.3" y2="976.7" stroke="#555" stroke-width="1" />
<line x1="356.6" y1="976.7" x2="353.6" y2="976.7" stroke="#555" stroke-width="1" />
<rect x="451.6" y="792.3" width="247.8" height="89.2" fill="#fff" stroke="none" stroke-width="1" />
<line x1="513.55" y1="792.3" x2="513.55" y2="881.5" stroke="#d8d8d8" stroke-width="1" />
<line x1="575.5" y1="792.3" x2="575.5" y2="881.5" stroke="#d8d8d8" stroke-width="1" />
<line x1="637.45" y1="792.3" x2="637.45" y2="881.5" stroke="#d8d8d8" stroke-width="1" />
<line x1="451.6" y1="836.9" x2="699.4" y2="836.9" stroke="#d8d8d8" stroke-width="1" />
<rect x="451.6" y="932.6" width="247.8" height="88.2" fill="#fff" stroke="none" stroke-width="1" />
<line x1="513.55" y1="932.6" x2="513.55" y2="1020.8" stroke="#d8d8d8" stroke-width="1" />
<line x1="575.5" y1="932.6" x2="575.5" y2="1020.8" stroke="#d8d8d8" stroke-width="1" />
<line x1="637.45" y1="932.6" x2="637.45" y2="1020.8" stroke="#d8d8d8" stroke-width="1" />
<line x1="451.6" y1="976.7" x2="699.4" y2="976.7" stroke="#d8d8d8" stroke-width="1" />
<line x1="513.55" y1="881.5" x2="513.55" y2="878.5" stroke="#555" stroke-width="1" />
<line x1="513.55" y1="792.3" x2="513.55" y2="795.3" stroke="#555" stroke-width="1" />
<line x1="575.5" y1="881.5" x2="575.5" y2="878.5" stroke="#555" stroke-width="1" />
<line x1="575.5" y1="792.3" x2="575.5" y2="795.3" stroke="#555" stroke-width="1" />
<line x1="637.45" y1="881.5" x2="637.45" y2="878.5" stroke="#555" stroke-width="1" />
<line x1="637.45" y1="792.3" x2="637.45" y2="795.3" stroke="#555" stroke-width="1" />
<line x1="451.6" y1="836.9" x2="454.6" y2="836.9" stroke="#555" stroke-width="1" />
<line x1="699.4" y1="836.9" x2="696.4" y2="836.9" stroke="#555" stroke-width="1" />
<line x1="513.55" y1="1020.8" x2="513.55" y2="1017.8" stroke="#555" stroke-width="1" />
<line x1="513.55" y1="932.6" x2="513.55" y2="935.6" stroke="#555" stroke-width="1" />
<line x1="575.5" y1="1020.8" x2="575.5" y2="1017.8" stroke="#555" stroke-width="1" />
<line x1="575.5" y1="932.6" x2="575.5" y2="935.6" stroke="#555" stroke-width="1" />
<line x1="637.45" y1="1020.8" x2="637.45" y2="1017.8" stroke="#555" stroke-width="1" />
<line x1="637.45" y1="932.6" x2="637.45" y2="935.6" stroke="#555" stroke-width="1" />
<line x1="451.6" y1="976.7" x2="454.6" y2="976.7" stroke="#555" stroke-width="1" />
<line x1="699.4" y1="976.7" x2="696.4" y2="976.7" stroke="#555" stroke-width="1" />
<rect x="795.4" y="792.3" width="247.6" height="89.2" fill="#fff" stroke="none" stroke-width="1" />
<line x1="857.3" y1="792.3" x2="857.3" y2="881.5" stroke="#d8d8d8" stroke-width="1" />
<line x1="919.2" y1="792.3" x2="919.2" y2="881.5" stroke="#d8d8d8" stroke-width="1" />
<line x1="981.1" y1="792.3" x2="981.1" y2="881.5" stroke="#d8d8d8" stroke-width="1" />
<line x1="795.4" y1="836.9" x2="1043" y2="836.9" stroke="#d8d8d8" stroke-width="1" />
<rect x="795.4" y="932.6" width="247.6" height="88.2" fill="#fff" stroke="none" stroke-width="1" />
<line x1="857.3" y1="932.6" x2="857.3" y2="1020.8" stroke="#d8d8d8" stroke-width="1" />
<line x1="919.2" y1="932.6" x2="919.2" y2="1020.8" stroke="#d8d8d8" stroke-width="1" />
<line x1="981.1" y1="932.6" x2="981.1" y2="1020.8" stroke="#d8d8d8" stroke-width="1" />
<line x1="795.4" y1="976.7" x2="1043" y2="976.7" stroke="#d8d8d8" stroke-width="1" />
<line x1="857.3" y1="881.5" x2="857.3" y2="878.5" stroke="#555" stroke-width="1" />
<line x1="857.3" y1="792.3" x2="857.3" y2="795.3" stroke="#555" stroke-width="1" />
<line x1="919.2" y1="881.5" x2="919.2" y2="878.5" stroke="#555" stroke-width="1" />
<line x1="919.2" y1="792.3" x2="919.2" y2="795.3" stroke="#555" stroke-width="1" />
<line x1="981.1" y1="881.5" x2="981.1" y2="878.5" stroke="#555" stroke-width="1" />
<line x1="981.1" y1="792.3" x2="981.1" y2="795.3" stroke="#555" stroke-width="1" />
<line x1="795.4" y1="836.9" x2="798.4" y2="836.9" stroke="#555" stroke-width="1" />
<line x1="1043" y1="836.9" x2="1040" y2="836.9" stroke="#555" stroke-width="1" />
<line x1="857.3" y1="1020.8" x2="857.3" y2="1017.8" stroke="#555" stroke-width="1" />
<line x1="857.3" y1="932.6" x2="857.3" y2="935.6" stroke="#555" stroke-width="1" />
<line x1="919.2" y1="1020.8" x2="919.2" y2="1017.8" stroke="#555" stroke-width="1" />
<line x1="919.2" y1="932.6" x2="919.2" y2="935.6" stroke="#555" stroke-width="1" />
<line x1="981.1" y1="1020.8" x2="981.1" y2="1017.8" stroke="#555" stroke-width="1" />
<line x1="981.1" y1="932.6" x2="981.1" y2="935.6" stroke="#555" stroke-width="1" />
<line x1="795.4" y1="976.7" x2="798.4" y2="976.7" stroke="#555" stroke-width="1" />
<line x1="1043" y1="976.7" x2="1040" y2="976.7" stroke="#555" stroke-width="1" />
<line x1="260.04" y1="792.3" x2="260.04" y2="881.5" stroke="#444" stroke-width="1.2" stroke-dasharray="5 3"/>
<line x1="260.04" y1="932.6" x2="260.04" y2="1020.8" stroke="#444" stroke-width="1.2" stroke-dasharray="5 3"/>
<line x1="108.3" y1="954.65" x2="356.6" y2="954.65" stroke="#444" stroke-width="1.2" stroke-dasharray="5 3"/>
<line x1="603.03" y1="792.3" x2="603.03" y2="881.5" stroke="#444" stroke-width="1.2" stroke-dasharray="5 3"/>
<line x1="603.03" y1="932.6" x2="603.03" y2="1020.8" stroke="#444" stroke-width="1.2" stroke-dasharray="5 3"/>
<line x1="451.6" y1="954.65" x2="699.4" y2="954.65" stroke="#444" stroke-width="1.2" stroke-dasharray="5 3"/>
<line x1="946.71" y1="792.3" x2="946.71" y2="881.5" stroke="#444" stroke-width="1.2" stroke-dasharray="5 3"/>
<line x1="946.71" y1="932.6" x2="946.71" y2="1020.8" stroke="#444" stroke-width="1.2" stroke-dasharray="5 3"/>
<line x1="795.4" y1="954.65" x2="1043" y2="954.65" stroke="#444" stroke-width="1.2" stroke-dasharray="5 3"/>
<path d="M108.32,881.26 C109.85,881.15 114.15,880.86 117.51,880.61 C120.86,880.35 125.17,879.99 128.45,879.73 C131.73,879.48 134.65,879.73 137.2,879.07 C139.75,878.42 141.21,879.07 143.76,875.79 C146.31,872.51 149.59,866.13 152.51,859.39 C155.43,852.64 158.71,842.25 161.26,835.32 C163.81,828.39 166,821.28 167.83,817.82 C169.65,814.35 170.67,814.17 172.2,814.54 C173.73,814.9 175.19,815.45 177.01,820.01 C178.84,824.56 180.84,833.86 183.14,841.88 C185.44,849.91 188.43,862.3 190.8,868.14 C193.17,873.97 195.17,876.34 197.36,876.89 C199.55,877.43 201.19,874.04 203.92,871.42 C206.66,868.79 211.03,862.05 213.77,861.14 C216.5,860.22 217.96,863.14 220.33,865.95 C222.7,868.76 225.43,875.43 227.99,877.98 C230.54,880.53 233.09,881.15 235.64,881.26 C238.2,881.37 240.75,879.29 243.3,878.64 C245.85,877.98 248.41,877.8 250.96,877.32 C253.51,876.85 256.25,877.69 258.62,875.79 C260.99,873.9 262.81,872.33 265.18,865.95 C267.55,859.57 270.1,848.08 272.84,837.51 C275.57,826.93 278.85,810.05 281.59,802.5 C284.32,794.96 286.87,792.95 289.24,792.22 C291.61,791.49 293.44,793.13 295.81,798.13 C298.18,803.12 300.73,813.08 303.46,822.19 C306.2,831.31 309.3,844.44 312.21,852.82 C315.13,861.21 317.68,867.92 320.96,872.51 C324.25,877.11 327.89,878.93 331.9,880.39 C335.91,881.85 340.91,881.12 345.03,881.26 C349.15,881.41 354.69,881.26 356.62,881.26" fill="none" stroke="#dd2418" stroke-width="2.6" stroke-linejoin="round" stroke-linecap="round" />
<path d="M108.76,964.38 C110.22,964.49 114.59,964.31 117.51,965.04 C120.43,965.77 123.71,966.86 126.26,968.76 C128.81,970.65 130.63,973.5 132.82,976.41 C135.01,979.33 137.2,983.34 139.39,986.26 C141.57,989.18 143.4,991.73 145.95,993.92 C148.5,996.1 151.42,998 154.7,999.39 C157.98,1000.77 161.99,1001.43 165.64,1002.23 C169.28,1003.03 173.29,1003.4 176.58,1004.2 C179.86,1005 182.96,1005.91 185.33,1007.04 C187.7,1008.17 189.52,1009.41 190.8,1010.98 C192.07,1012.55 192.62,1015.54 192.98,1016.45" fill="none" stroke="#dd2418" stroke-width="2.6" stroke-linejoin="round" stroke-linecap="round" />
<path d="M192.98,1016.45 L196.27,934.85" fill="none" stroke="#dd2418" stroke-width="2.6" stroke-linejoin="round"/>
<path d="M196.27,934.85 C196.81,936.49 198.27,941.89 199.55,944.69 C200.82,947.5 201.92,949.87 203.92,951.69 C205.93,953.52 208.48,954.68 211.58,955.63 C214.68,956.58 219.31,956.94 222.52,957.38 C225.73,957.82 228.94,957.27 230.83,958.26 C232.73,959.24 233.09,960.08 233.89,963.29 C234.7,966.5 235.06,972.77 235.64,977.51 C236.23,982.25 236.59,988.45 237.39,991.73 C238.2,995.01 238.93,995.92 240.46,997.2 C241.99,998.47 244.65,998.29 246.58,999.39 C248.52,1000.48 250.05,1001.76 252.05,1003.76 C254.06,1005.77 256.61,1009.05 258.62,1011.42 C260.62,1013.79 262.63,1016.41 264.08,1017.98 C265.54,1019.55 266.82,1020.35 267.37,1020.82" fill="none" stroke="#dd2418" stroke-width="2.6" stroke-linejoin="round" stroke-linecap="round" />
<path d="M267.37,1020.82 L268.46,1020.82 L270.65,932.66 L283.77,932.66 L287.06,1020.82" fill="none" stroke="#dd2418" stroke-width="2.6" stroke-linejoin="round"/>
<path d="M287.06,1020.82 C288.7,1020.46 293.44,1019.59 296.9,1018.64 C300.36,1017.69 304.19,1016.3 307.84,1015.14 C311.48,1013.97 315.5,1012.62 318.78,1011.64 C322.06,1010.65 325.16,1009.59 327.53,1009.23 C329.9,1008.87 331.17,1008.97 333,1009.45 C334.82,1009.92 336.83,1011.02 338.47,1012.07 C340.11,1013.13 341.75,1014.81 342.84,1015.79 C343.94,1016.78 344.66,1017.62 345.03,1017.98" fill="none" stroke="#dd2418" stroke-width="2.6" stroke-linejoin="round" stroke-linecap="round" />
<path d="M345.03,1017.98 L348.31,933.75" fill="none" stroke="#dd2418" stroke-width="2.6" stroke-linejoin="round"/>
<path d="M348.31,933.75 C348.86,933.94 350.32,934.41 351.59,934.85 C352.87,935.29 355.24,936.12 355.97,936.38" fill="none" stroke="#dd2418" stroke-width="2.6" stroke-linejoin="round" stroke-linecap="round" />
<path d="M452,881.2 C455,881 464.33,880.33 470,880 C475.67,879.67 481.33,879.8 486,879.2 C490.67,878.6 493.67,877.27 498,876.4 C502.33,875.53 508.33,874.27 512,874 C515.67,873.73 516,873.97 520,874.8 C524,875.63 532,878.63 536,879 C540,879.37 541.33,878.33 544,877 C546.67,875.67 549.67,872.33 552,871 C554.33,869.67 555.83,868.83 558,869 C560.17,869.17 562.5,870.5 565,872 C567.5,873.5 571,877.17 573,878 C575,878.83 575.33,879.67 577,877 C578.67,874.33 580.83,870.17 583,862 C585.17,853.83 587.67,838.33 590,828 C592.33,817.67 595,806 597,800 C599,794 600.33,792 602,792 C603.67,792 605,794.67 607,800 C609,805.33 611.5,815 614,824 C616.5,833 619.5,845.83 622,854 C624.5,862.17 626.67,868.83 629,873 C631.33,877.17 633.5,878.5 636,879 C638.5,879.5 641.33,876.77 644,876 C646.67,875.23 648.33,874.4 652,874.4 C655.67,874.4 661.33,875.33 666,876 C670.67,876.67 674.43,877.53 680,878.4 C685.57,879.27 696.17,880.73 699.4,881.2" fill="none" stroke="#dd2418" stroke-width="2.6" stroke-linejoin="round" stroke-linecap="round" />
<path d="M452,978 C454,978.17 460.33,977.93 464,979 C467.67,980.07 470.67,981.57 474,984.4 C477.33,987.23 480.67,992.33 484,996 C487.33,999.67 490.33,1003.57 494,1006.4 C497.67,1009.23 501.67,1011.23 506,1013 C510.33,1014.77 516.33,1016.67 520,1017 C523.67,1017.33 525.33,1016.77 528,1015 C530.67,1013.23 533,1008.63 536,1006.4 C539,1004.17 542.67,1002.27 546,1001.6 C549.33,1000.93 552.67,1001 556,1002.4 C559.33,1003.8 563.27,1007.13 566,1010 C568.73,1012.87 571.33,1018 572.4,1019.6" fill="none" stroke="#dd2418" stroke-width="2.6" stroke-linejoin="round" stroke-linecap="round" />
<path d="M572.4,1019.6 L573.6,935.6" fill="none" stroke="#dd2418" stroke-width="2.6" stroke-linejoin="round"/>
<path d="M573.6,935.6 C574,936.33 574.93,937.93 576,940 C577.07,942.07 578,945.9 580,948 C582,950.1 584.67,951.6 588,952.6 C591.33,953.6 596.33,953.97 600,954 C603.67,954.03 606.67,953.87 610,952.8 C613.33,951.73 617,949.67 620,947.6 C623,945.53 626,942.6 628,940.4 C630,938.2 631.33,935.4 632,934.4" fill="none" stroke="#dd2418" stroke-width="2.6" stroke-linejoin="round" stroke-linecap="round" />
<path d="M632,934.4 L635,1018" fill="none" stroke="#dd2418" stroke-width="2.6" stroke-linejoin="round"/>
<path d="M635,1018 C635.83,1016.67 637.5,1013.27 640,1010 C642.5,1006.73 646.33,1001.73 650,998.4 C653.67,995.07 658,993 662,990 C666,987 670,983.13 674,980.4 C678,977.67 681.77,975.23 686,973.6 C690.23,971.97 697.17,971.1 699.4,970.6" fill="none" stroke="#dd2418" stroke-width="2.6" stroke-linejoin="round" stroke-linecap="round" />
<path d="M795.4,881.4 C797.17,881.17 801.9,880.53 806,880 C810.1,879.47 816,878.47 820,878.2 C824,877.93 826,878.1 830,878.4 C834,878.7 839,879.73 844,880 C849,880.27 855.67,880.3 860,880 C864.33,879.7 866,878.67 870,878.2 C874,877.73 880.33,877.87 884,877.2 C887.67,876.53 889.33,875.4 892,874.2 C894.67,873 897.67,870.37 900,870 C902.33,869.63 903.83,870.5 906,872 C908.17,873.5 911.07,877.6 913,879 C914.93,880.4 915.93,882.23 917.6,880.4 C919.27,878.57 920.77,875.73 923,868 C925.23,860.27 928.33,845.33 931,834 C933.67,822.67 936.83,807 939,800 C941.17,793 942.33,792.5 944,792 C945.67,791.5 947.17,792.67 949,797 C950.83,801.33 953,809.5 955,818 C957,826.5 959,839.5 961,848 C963,856.5 965.1,863.8 967,869 C968.9,874.2 970.57,877.37 972.4,879.2 C974.23,881.03 976,880.53 978,880 C980,879.47 981.9,877 984.4,876 C986.9,875 990.07,874 993,874 C995.93,874 998.17,875.07 1002,876 C1005.83,876.93 1011.33,878.77 1016,879.6 C1020.67,880.43 1025.5,880.73 1030,881 C1034.5,881.27 1040.83,881.17 1043,881.2" fill="none" stroke="#dd2418" stroke-width="2.6" stroke-linejoin="round" stroke-linecap="round" />
<path d="M795.4,980 C797.83,980.17 805.23,980.33 810,981 C814.77,981.67 819.67,982.67 824,984 C828.33,985.33 832.67,987.27 836,989 C839.33,990.73 841.67,992.23 844,994.4 C846.33,996.57 848.33,999.4 850,1002 C851.67,1004.6 852.67,1006.93 854,1010 C855.33,1013.07 857.33,1018.67 858,1020.4" fill="none" stroke="#dd2418" stroke-width="2.6" stroke-linejoin="round" stroke-linecap="round" />
<path d="M858,1020.4 L859.4,1020.6 L862,933.6" fill="none" stroke="#dd2418" stroke-width="2.6" stroke-linejoin="round"/>
<path d="M862,933.6 C862.5,933.93 863.83,935.13 865,935.6 C866.17,936.07 867.5,936.33 869,936.4 C870.5,936.47 872.33,936.47 874,936 C875.67,935.53 878.17,934 879,933.6" fill="none" stroke="#dd2418" stroke-width="2.6" stroke-linejoin="round" stroke-linecap="round" />
<path d="M879,933.6 L880,1020.6" fill="none" stroke="#dd2418" stroke-width="2.6" stroke-linejoin="round"/>
<path d="M880,1020.6 C881,1019.83 883.67,1017.77 886,1016 C888.33,1014.23 891,1011.5 894,1010 C897,1008.5 901.33,1007.33 904,1007 C906.67,1006.67 908.27,1007 910,1008 C911.73,1009 913.27,1011 914.4,1013 C915.53,1015 916.4,1018.83 916.8,1020" fill="none" stroke="#dd2418" stroke-width="2.6" stroke-linejoin="round" stroke-linecap="round" />
<path d="M916.8,1020 L917,943.6" fill="none" stroke="#dd2418" stroke-width="2.6" stroke-linejoin="round"/>
<path d="M917,943.6 C917.33,944.67 918,948.2 919,950 C920,951.8 921.17,953.4 923,954.4 C924.83,955.4 927.5,955.67 930,956 C932.5,956.33 935.33,956.53 938,956.4 C940.67,956.27 943,955.87 946,955.2 C949,954.53 952.83,953.6 956,952.4 C959.17,951.2 962.67,949.57 965,948 C967.33,946.43 968.67,944.83 970,943 C971.33,941.17 972.5,938 973,937" fill="none" stroke="#dd2418" stroke-width="2.6" stroke-linejoin="round" stroke-linecap="round" />
<path d="M973,937 L976.4,1010" fill="none" stroke="#dd2418" stroke-width="2.6" stroke-linejoin="round"/>
<path d="M976.4,1010 C976.83,1008.5 977.57,1003.5 979,1001 C980.43,998.5 982.5,996.83 985,995 C987.5,993.17 990.83,991.77 994,990 C997.17,988.23 1000.33,986.67 1004,984.4 C1007.67,982.13 1012,979.63 1016,976.4 C1020,973.17 1024.67,967.73 1028,965 C1031.33,962.27 1033.5,961.17 1036,960 C1038.5,958.83 1041.83,958.33 1043,958" fill="none" stroke="#dd2418" stroke-width="2.6" stroke-linejoin="round" stroke-linecap="round" />
<rect x="108.3" y="792.3" width="248.3" height="89.2" fill="none" stroke="#666" stroke-width="1.1" />
<rect x="108.3" y="932.6" width="248.3" height="88.2" fill="none" stroke="#666" stroke-width="1.1" />
<text x="100.8" y="802.8" font-family="'Liberation Sans', Arial, Helvetica, sans-serif" font-size="20.5" text-anchor="end" fill="#111" font-weight="normal" font-style="normal" >1</text>
<text x="100.8" y="844.2" font-family="'Liberation Sans', Arial, Helvetica, sans-serif" font-size="20.5" text-anchor="end" fill="#111" font-weight="normal" font-style="normal" >0.5</text>
<text x="100.8" y="888" font-family="'Liberation Sans', Arial, Helvetica, sans-serif" font-size="20.5" text-anchor="end" fill="#111" font-weight="normal" font-style="normal" >0</text>
<text x="100.8" y="938.6" font-family="'Liberation Serif', 'Times New Roman', serif" font-size="20.5" text-anchor="end" fill="#111" font-weight="normal" font-style="normal" >π</text>
<text x="100.8" y="984" font-family="'Liberation Sans', Arial, Helvetica, sans-serif" font-size="20.5" text-anchor="end" fill="#111" font-weight="normal" font-style="normal" >0</text>
<text x="101.8" y="1025.8" font-family="'Liberation Serif', 'Times New Roman', serif" font-size="20.5" text-anchor="end" fill="#111" font-weight="normal" font-style="normal" >−π</text>
<text x="107.3" y="1045.5" font-family="'Liberation Sans', Arial, Helvetica, sans-serif" font-size="21.5" text-anchor="middle" fill="#111" font-weight="normal" font-style="normal" >−90</text>
<text x="169.38" y="1045.5" font-family="'Liberation Sans', Arial, Helvetica, sans-serif" font-size="21.5" text-anchor="middle" fill="#111" font-weight="normal" font-style="normal" >−45</text>
<text x="232.45" y="1045.5" font-family="'Liberation Sans', Arial, Helvetica, sans-serif" font-size="21.5" text-anchor="middle" fill="#111" font-weight="normal" font-style="normal" >0</text>
<text x="294.53" y="1045.5" font-family="'Liberation Sans', Arial, Helvetica, sans-serif" font-size="21.5" text-anchor="middle" fill="#111" font-weight="normal" font-style="normal" >45</text>
<text x="356.6" y="1045.5" font-family="'Liberation Sans', Arial, Helvetica, sans-serif" font-size="21.5" text-anchor="middle" fill="#111" font-weight="normal" font-style="normal" >90</text>
<text x="232.45" y="1074" font-family="'Liberation Sans', Arial, Helvetica, sans-serif" font-size="21" text-anchor="middle" fill="#111" font-weight="normal" font-style="normal" >Angle</text>
<rect x="451.6" y="792.3" width="247.8" height="89.2" fill="none" stroke="#666" stroke-width="1.1" />
<rect x="451.6" y="932.6" width="247.8" height="88.2" fill="none" stroke="#666" stroke-width="1.1" />
<text x="444.1" y="802.8" font-family="'Liberation Sans', Arial, Helvetica, sans-serif" font-size="20.5" text-anchor="end" fill="#111" font-weight="normal" font-style="normal" >1</text>
<text x="444.1" y="844.2" font-family="'Liberation Sans', Arial, Helvetica, sans-serif" font-size="20.5" text-anchor="end" fill="#111" font-weight="normal" font-style="normal" >0.5</text>
<text x="444.1" y="888" font-family="'Liberation Sans', Arial, Helvetica, sans-serif" font-size="20.5" text-anchor="end" fill="#111" font-weight="normal" font-style="normal" >0</text>
<text x="444.1" y="938.6" font-family="'Liberation Serif', 'Times New Roman', serif" font-size="20.5" text-anchor="end" fill="#111" font-weight="normal" font-style="normal" >π</text>
<text x="444.1" y="984" font-family="'Liberation Sans', Arial, Helvetica, sans-serif" font-size="20.5" text-anchor="end" fill="#111" font-weight="normal" font-style="normal" >0</text>
<text x="445.1" y="1025.8" font-family="'Liberation Serif', 'Times New Roman', serif" font-size="20.5" text-anchor="end" fill="#111" font-weight="normal" font-style="normal" >−π</text>
<text x="450.6" y="1045.5" font-family="'Liberation Sans', Arial, Helvetica, sans-serif" font-size="21.5" text-anchor="middle" fill="#111" font-weight="normal" font-style="normal" >−90</text>
<text x="512.55" y="1045.5" font-family="'Liberation Sans', Arial, Helvetica, sans-serif" font-size="21.5" text-anchor="middle" fill="#111" font-weight="normal" font-style="normal" >−45</text>
<text x="575.5" y="1045.5" font-family="'Liberation Sans', Arial, Helvetica, sans-serif" font-size="21.5" text-anchor="middle" fill="#111" font-weight="normal" font-style="normal" >0</text>
<text x="637.45" y="1045.5" font-family="'Liberation Sans', Arial, Helvetica, sans-serif" font-size="21.5" text-anchor="middle" fill="#111" font-weight="normal" font-style="normal" >45</text>
<text x="699.4" y="1045.5" font-family="'Liberation Sans', Arial, Helvetica, sans-serif" font-size="21.5" text-anchor="middle" fill="#111" font-weight="normal" font-style="normal" >90</text>
<text x="575.5" y="1074" font-family="'Liberation Sans', Arial, Helvetica, sans-serif" font-size="21" text-anchor="middle" fill="#111" font-weight="normal" font-style="normal" >Angle</text>
<rect x="795.4" y="792.3" width="247.6" height="89.2" fill="none" stroke="#666" stroke-width="1.1" />
<rect x="795.4" y="932.6" width="247.6" height="88.2" fill="none" stroke="#666" stroke-width="1.1" />
<text x="787.9" y="802.8" font-family="'Liberation Sans', Arial, Helvetica, sans-serif" font-size="20.5" text-anchor="end" fill="#111" font-weight="normal" font-style="normal" >1</text>
<text x="787.9" y="844.2" font-family="'Liberation Sans', Arial, Helvetica, sans-serif" font-size="20.5" text-anchor="end" fill="#111" font-weight="normal" font-style="normal" >0.5</text>
<text x="787.9" y="888" font-family="'Liberation Sans', Arial, Helvetica, sans-serif" font-size="20.5" text-anchor="end" fill="#111" font-weight="normal" font-style="normal" >0</text>
<text x="787.9" y="938.6" font-family="'Liberation Serif', 'Times New Roman', serif" font-size="20.5" text-anchor="end" fill="#111" font-weight="normal" font-style="normal" >π</text>
<text x="787.9" y="984" font-family="'Liberation Sans', Arial, Helvetica, sans-serif" font-size="20.5" text-anchor="end" fill="#111" font-weight="normal" font-style="normal" >0</text>
<text x="788.9" y="1025.8" font-family="'Liberation Serif', 'Times New Roman', serif" font-size="20.5" text-anchor="end" fill="#111" font-weight="normal" font-style="normal" >−π</text>
<text x="794.4" y="1045.5" font-family="'Liberation Sans', Arial, Helvetica, sans-serif" font-size="21.5" text-anchor="middle" fill="#111" font-weight="normal" font-style="normal" >−90</text>
<text x="856.3" y="1045.5" font-family="'Liberation Sans', Arial, Helvetica, sans-serif" font-size="21.5" text-anchor="middle" fill="#111" font-weight="normal" font-style="normal" >−45</text>
<text x="919.2" y="1045.5" font-family="'Liberation Sans', Arial, Helvetica, sans-serif" font-size="21.5" text-anchor="middle" fill="#111" font-weight="normal" font-style="normal" >0</text>
<text x="981.1" y="1045.5" font-family="'Liberation Sans', Arial, Helvetica, sans-serif" font-size="21.5" text-anchor="middle" fill="#111" font-weight="normal" font-style="normal" >45</text>
<text x="1043" y="1045.5" font-family="'Liberation Sans', Arial, Helvetica, sans-serif" font-size="21.5" text-anchor="middle" fill="#111" font-weight="normal" font-style="normal" >90</text>
<text x="919.2" y="1074" font-family="'Liberation Sans', Arial, Helvetica, sans-serif" font-size="21" text-anchor="middle" fill="#111" font-weight="normal" font-style="normal" >Angle</text>
<text x="0" y="0" font-family="'Liberation Sans', Arial, Helvetica, sans-serif" font-size="20.5" text-anchor="middle" fill="#111" font-weight="normal" font-style="normal" transform="translate(61,838) rotate(-90)" textLength="61" lengthAdjust="spacingAndGlyphs">Power</text>
<text x="0" y="0" font-family="'Liberation Sans', Arial, Helvetica, sans-serif" font-size="20.5" text-anchor="middle" fill="#111" font-weight="normal" font-style="normal" transform="translate(66.5,976.5) rotate(-90)" textLength="59" lengthAdjust="spacingAndGlyphs">Phase</text>
<text x="234.4" y="639.75" font-family="'Liberation Sans', Arial, Helvetica, sans-serif" font-size="20" text-anchor="middle" fill="#111" font-weight="normal" font-style="normal"  textLength="127" lengthAdjust="spacingAndGlyphs">Starting point</text>
<text x="234.65" y="661.9" font-family="'Liberation Sans', Arial, Helvetica, sans-serif" font-size="17.5" text-anchor="middle" fill="#111" font-weight="normal" font-style="normal"  textLength="166" lengthAdjust="spacingAndGlyphs">Dielectric continuum</text>
<text x="576.7" y="640" font-family="'Liberation Sans', Arial, Helvetica, sans-serif" font-size="20" text-anchor="middle" fill="#111" font-weight="normal" font-style="normal"  textLength="106.5" lengthAdjust="spacingAndGlyphs">Iteration 10</text>
<text x="889.15" y="639.7" font-family="'Liberation Sans', Arial, Helvetica, sans-serif" font-size="20" text-anchor="middle" fill="#111" font-weight="normal" font-style="normal"  textLength="120" lengthAdjust="spacingAndGlyphs">Iteration 100</text>
<text x="796.2" y="665" font-family="'Liberation Sans', Arial, Helvetica, sans-serif" font-size="17.5" text-anchor="start" fill="#111" font-weight="normal" font-style="normal"  textLength="110" lengthAdjust="spacingAndGlyphs">Silicon ridges</text>
<text x="114.3" y="773.6" font-family="'Liberation Sans', Arial, Helvetica, sans-serif" font-size="17.5" text-anchor="start" fill="#111" font-weight="normal" font-style="normal"  textLength="147" lengthAdjust="spacingAndGlyphs">Target angle (20°)</text>
<text x="114.3" y="911.9" font-family="'Liberation Sans', Arial, Helvetica, sans-serif" font-size="17.5" text-anchor="start" fill="#111" font-weight="normal" font-style="normal"  textLength="150" lengthAdjust="spacingAndGlyphs">Target phase (π/2)</text>
<line x1="245.3" y1="672.75" x2="258.26" y2="693.94" stroke="#000" stroke-width="2" />
<path d="M261.6,699.4 L254.87,694.14 L259.99,691.01 Z" fill="#000" stroke="none" stroke-width="1" />
<line x1="808" y1="676" x2="835.88" y2="696.91" stroke="#000" stroke-width="2" />
<path d="M841,700.75 L832.8,698.35 L836.4,693.55 Z" fill="#000" stroke="none" stroke-width="1" />
<line x1="246.6" y1="781.7" x2="255.35" y2="806.27" stroke="#000" stroke-width="2" />
<path d="M257.5,812.3 L251.99,805.77 L257.64,803.76 Z" fill="#000" stroke="none" stroke-width="1" />
<line x1="234.5" y1="922.8" x2="241.47" y2="946.17" stroke="#000" stroke-width="2" />
<path d="M243.3,952.3 L238.14,945.49 L243.89,943.78 Z" fill="#000" stroke="none" stroke-width="1" />
<path d="M382,693 L415.3,693 L415.3,684.5 L432.3,702 L415.3,719.5 L415.3,711 L382,711 Z" fill="#fff" stroke="#222" stroke-width="1.4" />
<path d="M726.9,693 L760.7,693 L760.7,684.5 L777.75,702 L760.7,719.5 L760.7,711 L726.9,711 Z" fill="#fff" stroke="#222" stroke-width="1.4" />
<rect x="107.8" y="716.6" width="247.5" height="23.7" fill="#dfeced" stroke="none" stroke-width="1" />
<rect x="452" y="716.75" width="246.2" height="24" fill="#dfeced" stroke="none" stroke-width="1" />
<rect x="795" y="716.7" width="246.8" height="23.5" fill="#dfeced" stroke="none" stroke-width="1" />
<text x="114.3" y="736.5" font-family="'Liberation Sans', Arial, Helvetica, sans-serif" font-size="17.5" text-anchor="start" fill="#111" font-weight="normal" font-style="normal"  textLength="128.5" lengthAdjust="spacingAndGlyphs">Glass substrate</text>
<rect x="151.9" y="676.9" width="71.6" height="39.7" fill="url(#gb1)" stroke="none" stroke-width="1" />
<rect x="261.6" y="676.9" width="50.6" height="39.7" fill="url(#gb2)" stroke="none" stroke-width="1" />
<rect x="495.8" y="677.4" width="62.3" height="39.4" fill="url(#gb3)" stroke="none" stroke-width="1" />
<rect x="604" y="677.4" width="50.4" height="39.4" fill="url(#gb4)" stroke="none" stroke-width="1" />
<rect x="839.6" y="676.8" width="10.5" height="39.9" fill="#868598" stroke="none" stroke-width="1" />
<rect x="861.6" y="676.8" width="12.4" height="39.9" fill="#868598" stroke="none" stroke-width="1" />
<rect x="887.8" y="676.8" width="12.3" height="39.9" fill="#868598" stroke="none" stroke-width="1" />
<rect x="989" y="676.8" width="8.8" height="39.9" fill="#868598" stroke="none" stroke-width="1" />
<rect x="1074.7" y="662.3" width="30.4" height="382.7" fill="url(#gcb)" stroke="#7a7a7a" stroke-width="1" />
<text x="1113.2" y="668.75" font-family="'Liberation Sans', Arial, Helvetica, sans-serif" font-size="18.5" text-anchor="start" fill="#111" font-weight="normal" font-style="normal" >3.5</text>
<line x1="1101.5" y1="738.8" x2="1105.1" y2="738.8" stroke="#555" stroke-width="1" />
<text x="1113.2" y="745.3" font-family="'Liberation Sans', Arial, Helvetica, sans-serif" font-size="18.5" text-anchor="start" fill="#111" font-weight="normal" font-style="normal" >3</text>
<line x1="1101.5" y1="815.35" x2="1105.1" y2="815.35" stroke="#555" stroke-width="1" />
<text x="1113.2" y="821.85" font-family="'Liberation Sans', Arial, Helvetica, sans-serif" font-size="18.5" text-anchor="start" fill="#111" font-weight="normal" font-style="normal" >2.5</text>
<line x1="1101.5" y1="891.9" x2="1105.1" y2="891.9" stroke="#555" stroke-width="1" />
<text x="1113.2" y="898.4" font-family="'Liberation Sans', Arial, Helvetica, sans-serif" font-size="18.5" text-anchor="start" fill="#111" font-weight="normal" font-style="normal" >2</text>
<line x1="1101.5" y1="968.45" x2="1105.1" y2="968.45" stroke="#555" stroke-width="1" />
<text x="1113.2" y="974.95" font-family="'Liberation Sans', Arial, Helvetica, sans-serif" font-size="18.5" text-anchor="start" fill="#111" font-weight="normal" font-style="normal" >1.5</text>
<text x="1113.2" y="1051.5" font-family="'Liberation Sans', Arial, Helvetica, sans-serif" font-size="18.5" text-anchor="start" fill="#111" font-weight="normal" font-style="normal" >1</text>
<text x="1089" y="654.2" font-family="'Liberation Sans', Arial, Helvetica, sans-serif" font-size="23" text-anchor="middle" fill="#111" font-weight="normal" font-style="normal" >n</text>
<path d="M1297.81,871.57 L1341.88,805.01 L1533.14,779.69 L1495.64,895.01 Z" fill="#dcdcdc" stroke="none" stroke-width="1" />
<path d="M1297.81,871.57 L1495.64,895.01 L1495.64,918.45 L1297.81,895.01 Z" fill="#c6c6c6" stroke="none" stroke-width="1" />
<path d="M1495.64,895.01 L1533.14,779.69 L1533.14,795.63 L1495.64,918.45 Z" fill="#b5b5b5" stroke="none" stroke-width="1" />
<line x1="1297.81" y1="871.57" x2="1495.64" y2="895.01" stroke="#ececec" stroke-width="1" />
<path d="M1369,730 C1369.19,726.5 1370.83,736.75 1371.9,737.5 C1372.97,738.25 1383.38,740.75 1385,741.25 C1386.62,741.75 1394.75,744.5 1396.25,745 C1397.75,745.5 1405.88,748.56 1407.5,748.75 C1409.12,748.94 1418.73,748.18 1420.6,747.8 C1422.47,747.42 1433.72,743.91 1435.6,743.1 C1437.48,742.29 1447.56,736.85 1448.75,735.6 C1449.94,734.35 1453.05,720.77 1453.4,724.4 C1453.75,728.03 1459.63,785.63 1454,790 C1448.37,794.37 1374.67,794 1369,790 C1363.33,786 1368.81,733.5 1369,730 Z" fill="url(#dside2)"/>
<path d="M1369,721.6 C1370.42,720.29 1379.01,718.75 1381.2,718.75 C1383.39,718.75 1386.7,720.29 1387.8,721.6 C1388.9,722.91 1389.18,728.47 1390.6,730 C1392.02,731.53 1397.59,734.48 1400,734.7 C1402.41,734.92 1408.19,733.54 1411.25,731.9 C1414.31,730.25 1422.97,722.57 1426.25,720.6 C1429.53,718.63 1436.56,715.43 1439.4,715 C1442.24,714.57 1448.97,715.8 1450.6,716.9 C1452.23,718 1453.62,722.22 1453.4,724.4 C1453.18,726.58 1450.83,733.42 1448.75,735.6 C1446.67,737.78 1438.88,741.68 1435.6,743.1 C1432.32,744.52 1423.88,747.14 1420.6,747.8 C1417.32,748.46 1410.34,749.08 1407.5,748.75 C1404.66,748.42 1398.88,745.88 1396.25,745 C1393.62,744.12 1387.84,742.12 1385,741.25 C1382.16,740.38 1373.77,738.81 1371.9,737.5 C1370.03,736.19 1369.34,731.86 1369,730 C1368.66,728.14 1367.58,722.91 1369,721.6 Z" fill="#c2562b"/>
<path d="M1477.3,757.7 C1477.5,754.23 1479.35,749.09 1480,748 C1480.65,746.91 1485.67,741.97 1487,741.3 C1488.33,740.63 1498.3,738.49 1500,738 C1501.7,737.51 1511.62,732.53 1512.5,734 C1513.38,735.47 1513.17,756.23 1513.2,760 C1513.23,763.77 1513.88,788.2 1513,790.6 C1512.12,793 1501.6,795.35 1500,796 C1498.4,796.65 1490.33,799.23 1489,800.4 C1487.67,801.57 1480.8,813.63 1480,813.6 C1479.2,813.57 1477.18,803.73 1477,800 C1476.82,796.27 1477.1,761.17 1477.3,757.7 Z" fill="url(#dside3)"/>
<path d="M1464.8,726 C1465.41,723.14 1467.06,721.32 1470,720.5 C1472.94,719.68 1485.68,719.11 1490,719 C1494.32,718.89 1504.38,718.9 1507,719.6 C1509.62,720.3 1511.86,723.32 1512.5,725 C1513.14,726.68 1513.96,732.48 1512.5,734 C1511.04,735.52 1502.97,737.15 1500,738 C1497.03,738.85 1489.33,740.13 1487,741.3 C1484.67,742.47 1481.13,746.09 1480,748 C1478.87,749.91 1478.47,757 1477.3,757.7 C1476.13,758.4 1471.46,755.48 1470,754 C1468.54,752.52 1465.41,748.27 1464.8,745 C1464.19,741.73 1464.19,728.86 1464.8,726 Z" fill="#c2562b"/>
<path d="M1334.4,750 C1334.51,747 1335.53,762.06 1335.75,764 C1335.97,765.94 1336.12,771.72 1337,773.25 C1337.88,774.78 1344.06,780.87 1346.25,782.4 C1348.44,783.93 1360.02,790.39 1363.3,791.6 C1366.58,792.81 1381.55,796.3 1385.6,796.9 C1389.65,797.5 1408.07,798.37 1411.9,798.8 C1415.73,799.23 1428.87,801.88 1431.6,802.1 C1434.33,802.33 1442.52,801.93 1444.7,801.5 C1446.88,801.07 1455.61,797.83 1457.8,796.9 C1459.99,795.97 1469.36,791.4 1471,790.3 C1472.64,789.2 1476.92,781.56 1477.5,783.75 C1478.08,785.94 1478,812.23 1478,816.6 C1478,820.98 1478.08,833.19 1477.5,836.25 C1476.92,839.31 1472.64,851.33 1471,853.3 C1469.36,855.27 1459.99,859.02 1457.8,859.9 C1455.61,860.77 1446.88,863.58 1444.7,863.8 C1442.52,864.02 1434.33,862.83 1431.6,862.5 C1428.87,862.17 1415.73,860.23 1411.9,859.9 C1408.07,859.57 1389.97,858.93 1385.6,858.6 C1381.22,858.27 1362.68,856.77 1359.4,856 C1356.12,855.23 1348.12,851.05 1346.25,849.4 C1344.38,847.75 1337.99,840.37 1337,836.25 C1336.01,832.13 1334.62,807.19 1334.4,800 C1334.18,792.81 1334.29,753 1334.4,750 Z" fill="url(#dside)"/>
<path d="M1334.4,747 C1334.8,744.77 1338.52,742.47 1339.7,741.75 C1340.88,741.03 1344.81,739.8 1346.25,739.8 C1347.69,739.8 1352.78,740.9 1354.1,741.75 C1355.41,742.6 1357.56,746.33 1359.4,748.3 C1361.24,750.26 1370.14,758.38 1372.5,761.4 C1374.86,764.42 1380.9,776 1383,778.5 C1385.1,781 1391.4,785.61 1393.5,786.4 C1395.6,787.19 1401.38,786.8 1404,786.4 C1406.62,786 1416.6,783.71 1419.75,782.4 C1422.9,781.09 1432.62,775.09 1435.5,773.25 C1438.38,771.41 1446.5,765.58 1448.6,764 C1450.7,762.42 1454.92,758.8 1456.5,757.5 C1458.08,756.2 1463.05,751.35 1464.4,751 C1465.75,750.65 1468.71,753.33 1470,754 C1471.29,754.67 1476.55,754.73 1477.3,757.7 C1478.05,760.68 1478.13,780.49 1477.5,783.75 C1476.87,787.01 1472.97,788.98 1471,790.3 C1469.03,791.62 1460.43,795.78 1457.8,796.9 C1455.17,798.02 1447.32,800.98 1444.7,801.5 C1442.08,802.02 1434.88,802.37 1431.6,802.1 C1428.32,801.83 1416.5,799.32 1411.9,798.8 C1407.3,798.28 1390.46,797.62 1385.6,796.9 C1380.74,796.18 1367.23,793.05 1363.3,791.6 C1359.37,790.15 1348.88,784.24 1346.25,782.4 C1343.62,780.56 1338.05,775.09 1337,773.25 C1335.95,771.41 1336.01,766.62 1335.75,764 C1335.49,761.38 1334.01,749.23 1334.4,747 Z" fill="#c2562b"/>
<line x1="1322.2" y1="746.5" x2="1322.2" y2="810.6" stroke="#9a9a9a" stroke-width="1" />
<line x1="1311.9" y1="746.5" x2="1334.4" y2="746.5" stroke="#9a9a9a" stroke-width="1" />
<line x1="1311.9" y1="810.6" x2="1334.4" y2="810.6" stroke="#9a9a9a" stroke-width="1" />
<text x="1305.5" y="789.6" font-family="'Liberation Sans', Arial, Helvetica, sans-serif" font-size="19" text-anchor="middle" fill="#111" font-weight="normal" font-style="italic" >H</text>
<line x1="1548" y1="782.5" x2="1509.7" y2="895" stroke="#9a9a9a" stroke-width="1" />
<line x1="1533" y1="781" x2="1565" y2="782" stroke="#9a9a9a" stroke-width="1" />
<line x1="1497.5" y1="896.5" x2="1524.7" y2="897" stroke="#9a9a9a" stroke-width="1" />
<text x="1544.5" y="850" font-family="'Liberation Sans', Arial, Helvetica, sans-serif" font-size="19" text-anchor="middle" fill="#111" font-weight="normal" font-style="italic" >U</text>
<line x1="1401" y1="912" x2="1401" y2="962.5" stroke="#cfcfcf" stroke-width="1" />
<path d="M1383,933 Q1392,939 1401,936" fill="none" stroke="#bbb" stroke-width="1"/>
<line x1="1349.4" y1="954" x2="1394" y2="914" stroke="#000" stroke-width="5.5"/>
<path d="M1401,907.5 L1394.88,923.11 L1384.84,911.97 Z" fill="#000" stroke="none" stroke-width="1" />
<line x1="1451.6" y1="956" x2="1409" y2="917" stroke="#000" stroke-width="5.5" stroke-dasharray="10 5"/>
<path d="M1402,909.5 L1418.07,914.29 L1407.81,925.23 Z" fill="#000" stroke="none" stroke-width="1" />
<text x="1378.5" y="955" font-family="'Liberation Serif', 'Times New Roman', serif" font-size="20" text-anchor="middle" fill="#111" font-weight="normal" font-style="normal" >θ</text>
<path d="M1367.5,951.5 C1367.5,986 1432.5,986 1432.5,959" fill="none" stroke="#3b6dc0" stroke-width="6.5"/>
<path d="M1423.8,961 L1441,959.8 L1433.2,951.2 Z" fill="#3b6dc0" stroke="none" stroke-width="1" />
<rect x="70.5" y="1210.4" width="459.8" height="339.1" fill="#262626" stroke="none" stroke-width="1" />
<rect x="70.5" y="1210.4" width="459.8" height="339.1" fill="url(#semcell)" stroke="none" stroke-width="1" />
<rect x="81.5" y="1222.6" width="200.6" height="84.7" fill="#1e1e1e" stroke="#f4f4f4" stroke-width="1.8" />
<g clip-path="url(#cins)">
<path d="M124,1258 C140,1255 150,1256 158,1254 C166,1250 170,1252 175,1256 C190,1252 200,1245 215,1235 C222,1228 222,1222 228,1218 L240,1218 C250,1240 252,1280 242,1312 L230,1312 C225,1300 215,1292 200,1282 C188,1276 180,1272 175,1274 C170,1278 165,1280 158,1275 C150,1272 140,1273 124,1271 C118,1268 118,1262 124,1258 Z" fill="#a6a6a6" stroke="#c8c8c8" stroke-width="1.5"/>
<ellipse cx="165.5" cy="1234" rx="8" ry="12" fill="#a0a0a0" stroke="#c4c4c4" stroke-width="1.3"/>
<ellipse cx="165.5" cy="1299" rx="8" ry="12" fill="#a0a0a0" stroke="#c4c4c4" stroke-width="1.3"/>
</g>
<text x="273.5" y="1287" font-family="'Liberation Sans', Arial, Helvetica, sans-serif" font-size="18.5" text-anchor="end" fill="#fff" font-weight="bold" font-style="normal" >400nm</text>
<rect x="213" y="1295" width="61" height="3.6" fill="#fff" stroke="none" stroke-width="1" />
<rect x="81.5" y="1436.5" width="145.5" height="103" fill="#fff" stroke="#111" stroke-width="1.2" />
<rect x="104.25" y="1481.75" width="101.25" height="40.5" fill="#e2e2e2" stroke="none" stroke-width="1" />
<rect x="115.8" y="1470.5" width="16.2" height="11.7" fill="#3c3c3c" stroke="none" stroke-width="1" />
<rect x="141" y="1470.5" width="4.2" height="11.7" fill="#3c3c3c" stroke="none" stroke-width="1" />
<rect x="151.5" y="1470.5" width="12" height="11.7" fill="#3c3c3c" stroke="none" stroke-width="1" />
<rect x="170.25" y="1470.5" width="35.25" height="11.7" fill="#3c3c3c" stroke="none" stroke-width="1" />
<rect x="129" y="1489" width="6" height="23" fill="#ea1d2c" stroke="none" stroke-width="1" />
<path d="M132,1481.5 L126.5,1492 L137.5,1492 Z" fill="#ea1d2c" stroke="none" stroke-width="1" />
<line x1="141.5" y1="1466" x2="164" y2="1458.8" stroke="#ea1d2c" stroke-width="5.5"/>
<path d="M172,1456.2 L163.3,1464.89 L159.83,1454.45 Z" fill="#ea1d2c" stroke="none" stroke-width="1" />
<text x="115.5" y="1460.8" font-family="'Liberation Sans', Arial, Helvetica, sans-serif" font-size="17.5" text-anchor="start" fill="#ea1d2c" font-weight="normal" font-style="normal" >75º</text>
<text x="111.5" y="1527.2" font-family="'Liberation Sans', Arial, Helvetica, sans-serif" font-size="18.2" text-anchor="start" fill="#ea1d2c" font-weight="normal" font-style="normal" >λ = 1050nm</text>
<text x="514.5" y="1526" font-family="'Liberation Sans', Arial, Helvetica, sans-serif" font-size="18.5" text-anchor="end" fill="#fff" font-weight="bold" font-style="normal" >2μm</text>
<rect x="409.5" y="1535.4" width="105" height="3.8" fill="#fff" stroke="none" stroke-width="1" />
<line x1="600.9" y1="1174.1" x2="600.9" y2="1546.5" stroke="#666" stroke-width="1" />
<line x1="600.9" y1="1546.5" x2="953.4" y2="1546.5" stroke="#666" stroke-width="1" />
<line x1="600.9" y1="1546.5" x2="604.9" y2="1546.5" stroke="#666" stroke-width="1" />
<text x="595.4" y="1552.5" font-family="'Liberation Sans', Arial, Helvetica, sans-serif" font-size="17.5" text-anchor="end" fill="#222" font-weight="normal" font-style="normal" >0</text>
<line x1="600.9" y1="1472.12" x2="604.9" y2="1472.12" stroke="#666" stroke-width="1" />
<text x="595.4" y="1478.12" font-family="'Liberation Sans', Arial, Helvetica, sans-serif" font-size="17.5" text-anchor="end" fill="#222" font-weight="normal" font-style="normal" >20</text>
<line x1="600.9" y1="1397.74" x2="604.9" y2="1397.74" stroke="#666" stroke-width="1" />
<text x="595.4" y="1403.74" font-family="'Liberation Sans', Arial, Helvetica, sans-serif" font-size="17.5" text-anchor="end" fill="#222" font-weight="normal" font-style="normal" >40</text>
<line x1="600.9" y1="1323.36" x2="604.9" y2="1323.36" stroke="#666" stroke-width="1" />
<text x="595.4" y="1329.36" font-family="'Liberation Sans', Arial, Helvetica, sans-serif" font-size="17.5" text-anchor="end" fill="#222" font-weight="normal" font-style="normal" >60</text>
<line x1="600.9" y1="1248.98" x2="604.9" y2="1248.98" stroke="#666" stroke-width="1" />
<text x="595.4" y="1254.98" font-family="'Liberation Sans', Arial, Helvetica, sans-serif" font-size="17.5" text-anchor="end" fill="#222" font-weight="normal" font-style="normal" >80</text>
<line x1="600.9" y1="1174.6" x2="604.9" y2="1174.6" stroke="#666" stroke-width="1" />
<text x="595.4" y="1180.6" font-family="'Liberation Sans', Arial, Helvetica, sans-serif" font-size="17.5" text-anchor="end" fill="#222" font-weight="normal" font-style="normal" >100</text>
<line x1="644.65" y1="1546.5" x2="644.65" y2="1542.5" stroke="#666" stroke-width="1" />
<text x="644.65" y="1568.5" font-family="'Liberation Sans', Arial, Helvetica, sans-serif" font-size="17.5" text-anchor="middle" fill="#222" font-weight="normal" font-style="normal" >20</text>
<line x1="732.4" y1="1546.5" x2="732.4" y2="1542.5" stroke="#666" stroke-width="1" />
<text x="732.4" y="1568.5" font-family="'Liberation Sans', Arial, Helvetica, sans-serif" font-size="17.5" text-anchor="middle" fill="#222" font-weight="normal" font-style="normal" >40</text>
<line x1="820.15" y1="1546.5" x2="820.15" y2="1542.5" stroke="#666" stroke-width="1" />
<text x="820.15" y="1568.5" font-family="'Liberation Sans', Arial, Helvetica, sans-serif" font-size="17.5" text-anchor="middle" fill="#222" font-weight="normal" font-style="normal" >60</text>
<line x1="907.9" y1="1546.5" x2="907.9" y2="1542.5" stroke="#666" stroke-width="1" />
<text x="907.9" y="1568.5" font-family="'Liberation Sans', Arial, Helvetica, sans-serif" font-size="17.5" text-anchor="middle" fill="#222" font-weight="normal" font-style="normal" >80</text>
<text x="0" y="0" font-family="'Liberation Sans', Arial, Helvetica, sans-serif" font-size="18" text-anchor="middle" fill="#222" font-weight="normal" font-style="normal" transform="translate(563,1358) rotate(-90)">Absolute efficiency (%)</text>
<text x="779.5" y="1588.8" font-family="'Liberation Sans', Arial, Helvetica, sans-serif" font-size="17.5" text-anchor="middle" fill="#222" font-weight="normal" font-style="normal" >Angle of deflection (deg)</text>
<text x="612.6" y="1534.8" font-family="'Liberation Sans', Arial, Helvetica, sans-serif" font-size="17.3" text-anchor="start" fill="#111" font-weight="bold" font-style="normal" >Simulation</text>
<path d="M600.77,1191.34 C607.36,1191.06 631.49,1190.54 644.65,1189.48 C657.81,1188.42 672.07,1184.94 688.52,1184.27 C704.98,1183.6 734.59,1184.79 754.34,1185.01 C774.08,1185.24 803.7,1185.53 820.15,1185.76 C836.6,1185.98 854.15,1185.5 864.02,1186.5 C873.9,1187.5 879.38,1188.94 885.96,1192.45 C892.54,1195.97 901.32,1201.62 907.9,1209.93 C914.48,1218.24 926.55,1242.17 929.84,1247.86" fill="none" stroke="#d42a1c" stroke-width="2.4" stroke-linejoin="round"/>
<path d="M600.77,1208.81 L641.58,1234.48 L688.52,1251.21 L778.47,1267.95 L827.61,1298.44 L876.31,1355.72 L910.09,1406.29 L932.03,1458.73" fill="none" stroke="#21b6e6" stroke-width="2.4" stroke-linejoin="round"/>
<path d="M600.77,1202.49 L644.65,1241.54 L688.52,1288.03 L732.4,1328.94 L776.27,1358.69 L820.15,1388.44 L872.8,1416.34 L929.84,1463.57" fill="none" stroke="#1c2fbf" stroke-width="2.4" stroke-linejoin="round"/>
<path d="M600.77,1235.59 L644.65,1237.82 L688.52,1250.47 L732.4,1289.89 L776.27,1351.25 L820.15,1416.34 L885.96,1472.86 L929.84,1513.03" fill="none" stroke="#1e8a23" stroke-width="2.4" stroke-linejoin="round"/>
<path d="M600.77,1247.12 C604.07,1250.75 616.13,1263.21 622.71,1271.29 C629.29,1279.38 638.07,1291.84 644.65,1301.05 C651.23,1310.25 660.01,1323.17 666.59,1332.66 C673.17,1342.14 681.94,1355.06 688.52,1364.27 C695.11,1373.47 703.88,1385.1 710.46,1394.02 C717.04,1402.95 725.82,1415.52 732.4,1423.77 C738.98,1432.03 747.76,1441.92 754.34,1449.06 C760.92,1456.2 769.69,1465.24 776.27,1471.38 C782.86,1477.51 791.63,1484.95 798.21,1489.97 C804.79,1494.99 813.57,1501 820.15,1504.85 C826.73,1508.7 835.51,1512.95 842.09,1515.63 C848.67,1518.31 857.44,1521.08 864.02,1522.7 C870.61,1524.32 879.38,1525.64 885.96,1526.42 C892.54,1527.2 901.32,1527.68 907.9,1527.9 C914.48,1528.13 926.55,1527.9 929.84,1527.9" fill="none" stroke="#111111" stroke-width="2.4" stroke-linejoin="round"/>
<circle cx="600.77" cy="1190.59" r="4.6" fill="none" stroke="#d42a1c" stroke-width="2.2"/>
<circle cx="622.71" cy="1190.59" r="4.6" fill="none" stroke="#d42a1c" stroke-width="2.2"/>
<circle cx="644.65" cy="1190.59" r="4.6" fill="none" stroke="#d42a1c" stroke-width="2.2"/>
<circle cx="688.52" cy="1180.92" r="4.6" fill="none" stroke="#d42a1c" stroke-width="2.2"/>
<circle cx="732.4" cy="1192.08" r="4.6" fill="none" stroke="#d42a1c" stroke-width="2.2"/>
<circle cx="754.34" cy="1190.59" r="4.6" fill="none" stroke="#d42a1c" stroke-width="2.2"/>
<circle cx="776.27" cy="1179.81" r="4.6" fill="none" stroke="#d42a1c" stroke-width="2.2"/>
<circle cx="798.21" cy="1182.04" r="4.6" fill="none" stroke="#d42a1c" stroke-width="2.2"/>
<circle cx="820.15" cy="1183.53" r="4.6" fill="none" stroke="#d42a1c" stroke-width="2.2"/>
<circle cx="842.09" cy="1193.19" r="4.6" fill="none" stroke="#d42a1c" stroke-width="2.2"/>
<circle cx="864.02" cy="1188.73" r="4.6" fill="none" stroke="#d42a1c" stroke-width="2.2"/>
<circle cx="885.96" cy="1197.29" r="4.6" fill="none" stroke="#d42a1c" stroke-width="2.2"/>
<circle cx="907.9" cy="1195.43" r="4.6" fill="none" stroke="#d42a1c" stroke-width="2.2"/>
<circle cx="929.84" cy="1247.86" r="4.6" fill="none" stroke="#d42a1c" stroke-width="2.2"/>
<circle cx="600.77" cy="1208.81" r="4.6" fill="none" stroke="#21b6e6" stroke-width="2.2"/>
<circle cx="606.04" cy="1212.16" r="4.6" fill="none" stroke="#21b6e6" stroke-width="2.2"/>
<circle cx="610.87" cy="1214.02" r="4.6" fill="none" stroke="#21b6e6" stroke-width="2.2"/>
<circle cx="615.69" cy="1215.51" r="4.6" fill="none" stroke="#21b6e6" stroke-width="2.2"/>
<circle cx="622.71" cy="1217.37" r="4.6" fill="none" stroke="#21b6e6" stroke-width="2.2"/>
<circle cx="627.54" cy="1220.72" r="4.6" fill="none" stroke="#21b6e6" stroke-width="2.2"/>
<circle cx="635" cy="1220.72" r="4.6" fill="none" stroke="#21b6e6" stroke-width="2.2"/>
<circle cx="667.46" cy="1229.27" r="4.6" fill="none" stroke="#21b6e6" stroke-width="2.2"/>
<circle cx="702.13" cy="1274.27" r="4.6" fill="none" stroke="#21b6e6" stroke-width="2.2"/>
<circle cx="757.85" cy="1258.28" r="4.6" fill="none" stroke="#21b6e6" stroke-width="2.2"/>
<circle cx="778.03" cy="1266.09" r="4.6" fill="none" stroke="#21b6e6" stroke-width="2.2"/>
<circle cx="826.73" cy="1303.65" r="4.6" fill="none" stroke="#21b6e6" stroke-width="2.2"/>
<circle cx="875.87" cy="1355.72" r="4.6" fill="none" stroke="#21b6e6" stroke-width="2.2"/>
<circle cx="909.65" cy="1406.29" r="4.6" fill="none" stroke="#21b6e6" stroke-width="2.2"/>
<circle cx="918.87" cy="1423.4" r="4.6" fill="none" stroke="#21b6e6" stroke-width="2.2"/>
<circle cx="931.59" cy="1458.73" r="4.6" fill="none" stroke="#21b6e6" stroke-width="2.2"/>
<circle cx="600.77" cy="1203.24" r="4.6" fill="none" stroke="#1c2fbf" stroke-width="2.2"/>
<circle cx="606.04" cy="1202.12" r="4.6" fill="none" stroke="#1c2fbf" stroke-width="2.2"/>
<circle cx="610.87" cy="1200.63" r="4.6" fill="none" stroke="#1c2fbf" stroke-width="2.2"/>
<circle cx="617.01" cy="1204.72" r="4.6" fill="none" stroke="#1c2fbf" stroke-width="2.2"/>
<circle cx="638.95" cy="1257.91" r="4.6" fill="none" stroke="#1c2fbf" stroke-width="2.2"/>
<circle cx="656.93" cy="1263.11" r="4.6" fill="none" stroke="#1c2fbf" stroke-width="2.2"/>
<circle cx="682.38" cy="1296.21" r="4.6" fill="none" stroke="#1c2fbf" stroke-width="2.2"/>
<circle cx="731.96" cy="1297.33" r="4.6" fill="none" stroke="#1c2fbf" stroke-width="2.2"/>
<circle cx="778.47" cy="1384.72" r="4.6" fill="none" stroke="#1c2fbf" stroke-width="2.2"/>
<circle cx="826.73" cy="1392.91" r="4.6" fill="none" stroke="#1c2fbf" stroke-width="2.2"/>
<circle cx="844.72" cy="1399.6" r="4.6" fill="none" stroke="#1c2fbf" stroke-width="2.2"/>
<circle cx="875.87" cy="1417.45" r="4.6" fill="none" stroke="#1c2fbf" stroke-width="2.2"/>
<circle cx="909.65" cy="1449.43" r="4.6" fill="none" stroke="#1c2fbf" stroke-width="2.2"/>
<circle cx="917.99" cy="1462.08" r="4.6" fill="none" stroke="#1c2fbf" stroke-width="2.2"/>
<circle cx="931.59" cy="1462.08" r="4.6" fill="none" stroke="#1c2fbf" stroke-width="2.2"/>
<circle cx="600.77" cy="1235.96" r="4.6" fill="none" stroke="#1e8a23" stroke-width="2.2"/>
<circle cx="618.32" cy="1233.73" r="4.6" fill="none" stroke="#1e8a23" stroke-width="2.2"/>
<circle cx="627.1" cy="1234.85" r="4.6" fill="none" stroke="#1e8a23" stroke-width="2.2"/>
<circle cx="639.82" cy="1233.73" r="4.6" fill="none" stroke="#1e8a23" stroke-width="2.2"/>
<circle cx="656.93" cy="1241.91" r="4.6" fill="none" stroke="#1e8a23" stroke-width="2.2"/>
<circle cx="684.14" cy="1250.47" r="4.6" fill="none" stroke="#1e8a23" stroke-width="2.2"/>
<circle cx="733.72" cy="1293.24" r="4.6" fill="none" stroke="#1e8a23" stroke-width="2.2"/>
<circle cx="755.65" cy="1318.71" r="4.6" fill="none" stroke="#1e8a23" stroke-width="2.2"/>
<circle cx="778.03" cy="1337.12" r="4.6" fill="none" stroke="#1e8a23" stroke-width="2.2"/>
<circle cx="821.9" cy="1427.49" r="4.6" fill="none" stroke="#1e8a23" stroke-width="2.2"/>
<circle cx="886.84" cy="1474.72" r="4.6" fill="none" stroke="#1e8a23" stroke-width="2.2"/>
<circle cx="909.65" cy="1492.57" r="4.6" fill="none" stroke="#1e8a23" stroke-width="2.2"/>
<circle cx="931.59" cy="1513.4" r="4.6" fill="none" stroke="#1e8a23" stroke-width="2.2"/>
<circle cx="600.77" cy="1247.86" r="4.6" fill="none" stroke="#111111" stroke-width="2.2"/>
<circle cx="622.71" cy="1267.57" r="4.6" fill="none" stroke="#111111" stroke-width="2.2"/>
<circle cx="644.65" cy="1302.91" r="4.6" fill="none" stroke="#111111" stroke-width="2.2"/>
<circle cx="666.59" cy="1336" r="4.6" fill="none" stroke="#111111" stroke-width="2.2"/>
<circle cx="688.52" cy="1365.38" r="4.6" fill="none" stroke="#111111" stroke-width="2.2"/>
<circle cx="710.46" cy="1388.44" r="4.6" fill="none" stroke="#111111" stroke-width="2.2"/>
<circle cx="732.4" cy="1442.74" r="4.6" fill="none" stroke="#111111" stroke-width="2.2"/>
<circle cx="754.34" cy="1451.29" r="4.6" fill="none" stroke="#111111" stroke-width="2.2"/>
<circle cx="776.27" cy="1470.63" r="4.6" fill="none" stroke="#111111" stroke-width="2.2"/>
<circle cx="798.21" cy="1491.83" r="4.6" fill="none" stroke="#111111" stroke-width="2.2"/>
<circle cx="820.15" cy="1505.96" r="4.6" fill="none" stroke="#111111" stroke-width="2.2"/>
<circle cx="842.09" cy="1516.75" r="4.6" fill="none" stroke="#111111" stroke-width="2.2"/>
<circle cx="864.02" cy="1523.07" r="4.6" fill="none" stroke="#111111" stroke-width="2.2"/>
<circle cx="885.96" cy="1526.42" r="4.6" fill="none" stroke="#111111" stroke-width="2.2"/>
<circle cx="907.9" cy="1527.16" r="4.6" fill="none" stroke="#111111" stroke-width="2.2"/>
<circle cx="929.84" cy="1527.16" r="4.6" fill="none" stroke="#111111" stroke-width="2.2"/>
<text x="843" y="1215.8" font-family="'Liberation Sans', Arial, Helvetica, sans-serif" font-size="18" text-anchor="middle" fill="#c9261c" font-weight="bold" font-style="normal"  textLength="84" lengthAdjust="spacingAndGlyphs">Our work</text>
<rect x="942.6" y="1190.5" width="118.2" height="59" fill="#fff" stroke="#d0392e" stroke-width="1.8" />
<text x="1001.7" y="1245.5" font-family="'Liberation Sans', Arial, Helvetica, sans-serif" font-size="14.4" text-anchor="middle" fill="#d0392e" font-weight="normal" font-style="normal" >Optimized design</text>
<rect x="942.6" y="1261.4" width="118.2" height="59" fill="#fff" stroke="#29b8e8" stroke-width="1.8" />
<text x="1001.7" y="1316.4" font-family="'Liberation Sans', Arial, Helvetica, sans-serif" font-size="14.4" text-anchor="middle" fill="#29b8e8" font-weight="normal" font-style="normal" >Effective medium</text>
<rect x="942.6" y="1332.25" width="118.2" height="59" fill="#fff" stroke="#2a2fb0" stroke-width="1.8" />
<text x="1001.7" y="1387.25" font-family="'Liberation Sans', Arial, Helvetica, sans-serif" font-size="14.4" text-anchor="middle" fill="#2a2fb0" font-weight="normal" font-style="normal" >Transmit array</text>
<rect x="942.6" y="1403.1" width="118.2" height="59" fill="#fff" stroke="#2b8a2f" stroke-width="1.8" />
<text x="1001.7" y="1458.1" font-family="'Liberation Sans', Arial, Helvetica, sans-serif" font-size="14.4" text-anchor="middle" fill="#2b8a2f" font-weight="normal" font-style="normal" >Geometric phase</text>
<rect x="942.6" y="1474" width="118.2" height="59" fill="#fff" stroke="#111111" stroke-width="1.8" />
<text x="1001.7" y="1529" font-family="'Liberation Sans', Arial, Helvetica, sans-serif" font-size="14.4" text-anchor="middle" fill="#111111" font-weight="normal" font-style="normal" >Echelle</text>
<path d="M970.5,1193.8 C972.26,1193.72 988.93,1194.13 991.6,1194.2 C994.27,1194.27 998.73,1194.57 1002.5,1194.6 C1006.27,1194.63 1034,1194.29 1036.9,1194.6 C1039.8,1194.91 1037.56,1197.6 1037.3,1198.3 C1037.04,1199 1034.69,1202.48 1033.75,1203 C1032.81,1203.52 1027.3,1204.38 1026,1204.5 C1024.7,1204.62 1019.41,1204.76 1018.1,1204.5 C1016.79,1204.24 1011.47,1201.92 1010.3,1201.4 C1009.12,1200.88 1005.3,1198.71 1004,1198.3 C1002.7,1197.89 997.49,1196.76 994.7,1196.5 C991.91,1196.24 972.52,1195.42 970.5,1195.2 C968.48,1194.98 968.74,1193.88 970.5,1193.8 Z" fill="#999"/>
<path d="M992.3,1207.7 C992.43,1207.53 995.79,1207.21 996.25,1207.3 C996.71,1207.39 995.98,1208.62 997.8,1208.8 C999.62,1208.97 1016.21,1209.15 1018.1,1209.4 C1019.99,1209.65 1020.5,1211.38 1020.5,1211.8 C1020.5,1212.22 1019.99,1214.21 1018.1,1214.5 C1016.21,1214.79 999.62,1215.09 997.8,1215.3 C995.98,1215.51 996.71,1216.89 996.25,1217 C995.79,1217.11 992.43,1216.79 992.3,1216.6 C992.17,1216.41 994.5,1215.3 994.7,1214.7 C994.9,1214.1 994.9,1209.98 994.7,1209.4 C994.5,1208.82 992.17,1207.88 992.3,1207.7 Z" fill="#999"/>
<path d="M968.1,1229.8 C970.83,1229.59 997.84,1228.98 1000.9,1228.5 C1003.96,1228.02 1003.88,1224.69 1004.8,1224 C1005.72,1223.31 1010.79,1220.72 1011.9,1220.2 C1013.01,1219.68 1016.93,1217.93 1018.1,1217.8 C1019.27,1217.67 1024.6,1218.27 1025.9,1218.6 C1027.2,1218.92 1032.8,1220.98 1033.75,1221.7 C1034.7,1222.42 1036.97,1226.5 1037.3,1227.2 C1037.63,1227.9 1040.6,1229.82 1037.7,1230.1 C1034.8,1230.38 1008.3,1230.52 1002.5,1230.6 C996.7,1230.67 970.97,1231.07 968.1,1231 C965.23,1230.93 965.37,1230.01 968.1,1229.8 Z" fill="#999"/>
<rect x="954.44" y="1277.57" width="15.19" height="14.17" fill="#a0a0a0" stroke="none" stroke-width="1" />
<rect x="983.13" y="1274.2" width="22.27" height="21.6" fill="#a0a0a0" stroke="none" stroke-width="1" />
<rect x="1017.56" y="1268.8" width="29.7" height="29.36" fill="#a0a0a0" stroke="none" stroke-width="1" />
<circle cx="965.24" cy="1354.86" r="8.77" fill="#a0a0a0"/>
<circle cx="996.29" cy="1354.86" r="12.49" fill="#a0a0a0"/>
<circle cx="1033.42" cy="1354.86" r="17.55" fill="#a0a0a0"/>
<path d="M973.34,1414.54 L952.77,1439.05 L947.02,1434.23 L967.59,1409.72 Z" fill="#a0a0a0" stroke="none" stroke-width="1" />
<path d="M1007.06,1430.83 L974.06,1430.83 L974.06,1423.33 L1007.06,1423.33 Z" fill="#a0a0a0" stroke="none" stroke-width="1" />
<path d="M1030.31,1437.54 L1006.53,1416.13 L1011.55,1410.55 L1035.33,1431.97 Z" fill="#a0a0a0" stroke="none" stroke-width="1" />
<path d="M1043.17,1440.55 L1043.17,1407.55 L1050.67,1407.55 L1050.67,1440.55 Z" fill="#a0a0a0" stroke="none" stroke-width="1" />
<path d="M950.06,1510.45 L950.06,1497.62 L982.12,1492.56 L984.82,1502.68 L1017.56,1492.56 L1019.24,1502.01 L1052.99,1491.88 L1052.99,1510.45 Z" fill="#a0a0a0" stroke="none" stroke-width="1" />
<rect x="999.2" y="1478" width="4" height="14" fill="#ee1c1c" stroke="none" stroke-width="1" />
<path d="M994.4,1491 L1006.8,1491 L1001.2,1501.5 Z" fill="#ee1c1c" stroke="none" stroke-width="1" />
<line x1="1143.7" y1="1179.3" x2="1143.7" y2="1542.8" stroke="#666" stroke-width="1" />
<line x1="1143.7" y1="1542.8" x2="1527.8" y2="1542.8" stroke="#666" stroke-width="1" />
<line x1="1143.7" y1="1542.8" x2="1147.7" y2="1542.8" stroke="#666" stroke-width="1" />
<text x="1137.7" y="1548.8" font-family="'Liberation Sans', Arial, Helvetica, sans-serif" font-size="17.5" text-anchor="end" fill="#222" font-weight="normal" font-style="normal" >0</text>
<line x1="1143.7" y1="1470.2" x2="1147.7" y2="1470.2" stroke="#666" stroke-width="1" />
<text x="1137.7" y="1476.2" font-family="'Liberation Sans', Arial, Helvetica, sans-serif" font-size="17.5" text-anchor="end" fill="#222" font-weight="normal" font-style="normal" >20</text>
<line x1="1143.7" y1="1397.6" x2="1147.7" y2="1397.6" stroke="#666" stroke-width="1" />
<text x="1137.7" y="1403.6" font-family="'Liberation Sans', Arial, Helvetica, sans-serif" font-size="17.5" text-anchor="end" fill="#222" font-weight="normal" font-style="normal" >40</text>
<line x1="1143.7" y1="1325" x2="1147.7" y2="1325" stroke="#666" stroke-width="1" />
<text x="1137.7" y="1331" font-family="'Liberation Sans', Arial, Helvetica, sans-serif" font-size="17.5" text-anchor="end" fill="#222" font-weight="normal" font-style="normal" >60</text>
<line x1="1143.7" y1="1252.4" x2="1147.7" y2="1252.4" stroke="#666" stroke-width="1" />
<text x="1137.7" y="1258.4" font-family="'Liberation Sans', Arial, Helvetica, sans-serif" font-size="17.5" text-anchor="end" fill="#222" font-weight="normal" font-style="normal" >80</text>
<line x1="1143.7" y1="1179.8" x2="1147.7" y2="1179.8" stroke="#666" stroke-width="1" />
<text x="1137.7" y="1185.8" font-family="'Liberation Sans', Arial, Helvetica, sans-serif" font-size="17.5" text-anchor="end" fill="#222" font-weight="normal" font-style="normal" >100</text>
<line x1="1143.7" y1="1542.8" x2="1143.7" y2="1538.8" stroke="#666" stroke-width="1" />
<text x="1146.7" y="1568.5" font-family="'Liberation Sans', Arial, Helvetica, sans-serif" font-size="17.5" text-anchor="middle" fill="#222" font-weight="normal" font-style="normal" >0</text>
<line x1="1253.05" y1="1542.8" x2="1253.05" y2="1538.8" stroke="#666" stroke-width="1" />
<text x="1249.7" y="1568.5" font-family="'Liberation Sans', Arial, Helvetica, sans-serif" font-size="17.5" text-anchor="middle" fill="#222" font-weight="normal" font-style="normal" >100</text>
<line x1="1362.4" y1="1542.8" x2="1362.4" y2="1538.8" stroke="#666" stroke-width="1" />
<text x="1356.8" y="1568.5" font-family="'Liberation Sans', Arial, Helvetica, sans-serif" font-size="17.5" text-anchor="middle" fill="#222" font-weight="normal" font-style="normal" >200</text>
<line x1="1471.75" y1="1542.8" x2="1471.75" y2="1538.8" stroke="#666" stroke-width="1" />
<text x="1463.2" y="1568.5" font-family="'Liberation Sans', Arial, Helvetica, sans-serif" font-size="17.5" text-anchor="middle" fill="#222" font-weight="normal" font-style="normal" >300</text>
<text x="0" y="0" font-family="'Liberation Sans', Arial, Helvetica, sans-serif" font-size="18" text-anchor="middle" fill="#222" font-weight="normal" font-style="normal" transform="translate(1106,1356) rotate(-90)">Absolute efficiency (%)</text>
<text x="1326.8" y="1588.8" font-family="'Liberation Sans', Arial, Helvetica, sans-serif" font-size="17.5" text-anchor="middle" fill="#222" font-weight="normal" font-style="normal"  textLength="71.5" lengthAdjust="spacingAndGlyphs">Iterations</text>
<path d="M1144.6,1499.24 L1145.57,1473.74 L1146.54,1448.25 L1147.51,1422.75 L1148.45,1430.27 L1149.39,1437.78 L1150.22,1439.45 L1151.06,1441.12 L1151.89,1442.79 L1152.52,1407.73 L1153.46,1396.75 L1154.4,1390.2 L1155.65,1416.49 L1156.59,1408.99 L1157.53,1395.21 L1158.78,1410.23 L1159.61,1402.2 L1160.45,1402.7 L1161.28,1393.96 L1162.22,1394.83 L1163.16,1388.95 L1164.1,1395.66 L1165.04,1398.97 L1165.84,1398.36 L1166.65,1390.66 L1167.45,1394.81 L1168.26,1388.18 L1169.06,1392.72 L1169.87,1383.18 L1170.67,1383.94 L1171.61,1386.82 L1172.55,1397.72 L1173.39,1392.7 L1174.22,1396.96 L1175.05,1391.46 L1175.89,1396.33 L1176.72,1393.89 L1177.56,1400.22 L1178.44,1395.99 L1179.31,1403.04 L1180.19,1396.12 L1181.06,1403.23 L1181.94,1397.9 L1182.82,1403.24 L1183.69,1396.07 L1184.57,1401.62 L1185.45,1397.5 L1186.32,1398.97 L1187.26,1419.62 L1188.2,1440.28 L1189.14,1419 L1190.08,1397.72 L1190.91,1395.63 L1191.75,1393.54 L1192.58,1391.46 L1193.42,1387.7 L1194.25,1383.94 L1195.09,1380.19 L1196.03,1381.75 L1196.96,1378.94 L1197.9,1403.97 L1198.84,1429.01 L1199.68,1410.23 L1200.51,1391.46 L1201.35,1372.68 L1202.18,1371.01 L1203.02,1367.66 L1203.85,1367.67 L1204.48,1345.13 L1205.41,1353.69 L1206.35,1357.65 L1207.29,1363.48 L1208.23,1363.91 L1209.27,1356.18 L1210.32,1341.08 L1211.36,1333.87 L1212.2,1341.14 L1213.03,1353.9 L1213.87,1360.16 L1215.12,1336.37 L1216.06,1341.64 L1217,1350.14 L1218.04,1339.37 L1219.08,1336.98 L1220.13,1326.35 L1221.38,1350.14 L1222.42,1339.38 L1223.46,1330.95 L1224.51,1320.09 L1225.45,1334.28 L1226.38,1346.38 L1227.22,1338.45 L1228.05,1323.09 L1228.89,1313.83 L1229.83,1323.66 L1230.77,1337.62 L1231.6,1342.21 L1232.44,1351.07 L1233.27,1355.15 L1234.21,1407.94 L1235.15,1457.81 L1236.4,1357.65 L1237.24,1352.52 L1238.07,1352.1 L1238.9,1346.38 L1239.74,1343.76 L1240.57,1334.44 L1241.41,1332.61 L1242.24,1332.08 L1243.08,1338.77 L1243.91,1337.62 L1244.75,1336.09 L1245.58,1326.3 L1246.42,1325.1 L1247.36,1340.45 L1248.29,1360.16 L1249.23,1342.97 L1250.17,1327.61 L1251.11,1336.85 L1252.05,1351.39 L1252.99,1330.33 L1253.93,1315.09 L1254.87,1308.57 L1255.81,1307.57 L1257.06,1331.36 L1258,1311.96 L1258.94,1292.55 L1259.87,1287.54 L1260.81,1282.54 L1261.75,1291.3 L1262.69,1300.06 L1263.53,1292.97 L1264.36,1285.87 L1265.2,1278.78 L1266.13,1277.99 L1267.07,1277.37 L1268.01,1275.33 L1268.95,1275.02 L1269.89,1278.78 L1270.83,1282.54 L1271.87,1278.78 L1272.92,1275.02 L1273.96,1271.27 L1275.21,1272.52 L1276.21,1396.46 L1277.72,1345.13 L1278.65,1347.11 L1279.59,1347.64 L1280.53,1340.75 L1281.47,1333.87 L1282.41,1324.79 L1283.35,1315.71 L1284.29,1306.64 L1285.23,1297.56 L1286.06,1295.47 L1286.9,1293.39 L1287.73,1291.3 L1288.57,1289.21 L1289.4,1287.13 L1290.23,1285.04 L1291.07,1282.12 L1291.9,1279.2 L1292.74,1276.28 L1293.57,1273.35 L1294.41,1270.43 L1295.24,1267.51 L1294.37,1271.36 L1293.5,1275.22 L1292.62,1279.07 L1291.75,1282.92 L1290.87,1286.77 L1290,1290.62 L1290.94,1285 L1291.88,1279.38 L1292.81,1273.75 L1293.75,1268.12 L1294.69,1262.5 L1295.58,1260.94 L1296.47,1259.38 L1297.37,1257.81 L1298.26,1256.25 L1299.15,1254.69 L1300.04,1253.12 L1300.94,1251.56 L1301.81,1250.68 L1302.67,1249.01 L1303.54,1247.48 L1304.41,1248.17 L1305.28,1247.43 L1306.15,1244.41 L1307.01,1244.93 L1307.88,1243.03 L1308.75,1242.19 L1309.63,1240.34 L1310.51,1239.59 L1311.39,1239.56 L1312.27,1238.71 L1313.14,1235.81 L1314.02,1235.99 L1314.9,1233.67 L1315.78,1233.59 L1316.82,1232.77 L1317.86,1230.62 L1318.91,1229.69 L1319.69,1306.25 L1320.86,1287.5 L1322.03,1268.75 L1323.07,1263.02 L1324.11,1257.29 L1325.16,1251.56 L1326.09,1248.44 L1327.03,1245.31 L1327.97,1242.19 L1328.91,1239.06 L1329.84,1235.94 L1331.41,1246.88 L1332.58,1243.75 L1333.75,1240.62 L1334.62,1240.68 L1335.49,1240.12 L1336.35,1238.29 L1337.22,1238.6 L1338.09,1236.3 L1338.96,1235.01 L1339.83,1235.38 L1340.69,1233.34 L1341.56,1233.59 L1342.43,1232.84 L1343.3,1233.22 L1344.17,1233.58 L1345.03,1232.49 L1345.9,1232.15 L1346.77,1233.88 L1347.64,1232.58 L1348.51,1233.91 L1349.38,1232.81 L1350.27,1234.02 L1351.16,1233.21 L1352.05,1233.73 L1352.95,1234.2 L1353.84,1234.8 L1354.73,1235.03 L1355.62,1235.16 L1356.52,1235.06 L1357.41,1234.97 L1358.3,1235.46 L1359.2,1234.28 L1360.09,1233.89 L1360.98,1234.3 L1361.88,1233.59 L1362.66,1235.94 L1364.22,1373.44 L1365,1293.75 L1366.04,1283.33 L1367.08,1272.92 L1368.12,1262.5 L1369.02,1260.04 L1369.91,1257.59 L1370.8,1255.13 L1371.7,1252.68 L1372.59,1250.22 L1373.48,1247.77 L1374.38,1245.31 L1375.23,1244.31 L1376.08,1244.02 L1376.93,1245.09 L1377.78,1243.65 L1378.64,1243.29 L1379.49,1241.68 L1380.34,1242.14 L1381.19,1242.08 L1382.05,1240.42 L1382.9,1241.31 L1383.75,1240.62 L1384.6,1240.77 L1385.45,1239.37 L1386.31,1240.48 L1387.16,1239.98 L1388.01,1240.31 L1388.86,1239.45 L1389.72,1240.09 L1390.57,1240.01 L1391.42,1238.3 L1392.27,1238.24 L1393.12,1239.06 L1393.98,1239.38 L1394.83,1239.94 L1395.68,1238.3 L1396.53,1238.68 L1397.39,1238.91 L1398.24,1238.24 L1399.09,1238.27 L1399.94,1238.08 L1400.8,1238.14 L1401.65,1238.56 L1402.5,1238.28 L1403.48,1237.65 L1404.45,1237.62 L1405.43,1238.29 L1406.41,1237.5 L1407.19,1345.31 L1408.75,1301.56 L1409.92,1313.28 L1411.09,1325 L1411.88,1282.81 L1413.05,1264.84 L1414.22,1246.88 L1415.26,1251.04 L1416.3,1255.21 L1417.34,1259.38 L1418.26,1257.03 L1419.17,1256.92 L1420.08,1255.99 L1420.99,1253.75 L1421.9,1252.25 L1422.81,1251.56 L1423.68,1251.71 L1424.55,1249.95 L1425.42,1249.31 L1426.28,1249.34 L1427.15,1249.39 L1428.02,1247.56 L1428.89,1247.52 L1429.76,1247.03 L1430.62,1246.88 L1431.48,1247.25 L1432.33,1246.03 L1433.18,1246.59 L1434.03,1244.73 L1434.89,1244.74 L1435.74,1245.07 L1436.59,1245.24 L1437.44,1243.93 L1438.3,1243.07 L1439.15,1242.49 L1440,1242.97 L1440.89,1242.92 L1441.79,1242.07 L1442.68,1243.31 L1443.57,1243.27 L1444.46,1241.71 L1445.36,1241.81 L1446.25,1242.19 L1447.23,1243.25 L1448.2,1243.28 L1449.18,1244.03 L1450.16,1243.75 L1451.72,1373.44 L1453.28,1293.75 L1454.45,1300 L1455.62,1306.25 L1456.41,1273.44 L1457.19,1340.62 L1458.75,1259.38 L1459.79,1254.17 L1460.83,1248.96 L1461.88,1243.75 L1463.05,1242.63 L1464.22,1242.19 L1465.39,1245.31 L1466.56,1248.44 L1467.4,1248.38 L1468.25,1248.32 L1469.09,1248.26 L1469.93,1248.2 L1470.77,1248.14 L1471.61,1248.08 L1472.45,1248.02 L1473.29,1247.96 L1474.13,1247.9 L1474.98,1247.84 L1475.82,1247.78 L1476.66,1247.72 L1477.5,1247.66 L1478.32,1247.62 L1479.14,1247.57 L1479.97,1247.53 L1480.79,1247.49 L1481.61,1247.45 L1482.43,1247.41 L1483.26,1247.37 L1484.08,1247.33 L1484.9,1247.29 L1485.72,1247.25 L1486.55,1247.2 L1487.37,1247.16 L1488.19,1247.12 L1489.01,1247.08 L1489.84,1247.04 L1490.66,1247 L1491.48,1246.96 L1492.3,1246.92 L1493.12,1246.88 L1493.94,1246.84 L1494.76,1246.81 L1495.58,1246.78 L1496.4,1246.75 L1497.22,1246.72 L1498.04,1246.69 L1498.86,1246.66 L1499.68,1246.63 L1500.5,1246.6 L1501.32,1246.57 L1502.14,1246.54 L1502.96,1246.51 L1503.78,1246.48 L1504.6,1246.45 L1505.42,1246.42 L1506.23,1246.39 L1507.05,1246.36 L1507.87,1246.33 L1508.69,1246.3 L1509.51,1246.27 L1510.33,1246.23 L1511.15,1246.2 L1511.97,1246.17 L1512.79,1246.14 L1513.61,1246.11 L1514.43,1246.08 L1515.25,1246.05 L1516.07,1246.02 L1516.89,1245.99 L1517.71,1245.96 L1518.53,1245.93 L1519.34,1245.9 L1520.16,1245.87 L1520.98,1245.84 L1521.8,1245.81 L1522.62,1245.78 L1523.44,1245.75 L1524.26,1245.72 L1525.08,1245.69 L1525.9,1245.66 L1526.72,1245.62" fill="none" stroke="#000" stroke-width="2.6" stroke-linejoin="round"/>
<text x="1156.4" y="1345" font-family="'Liberation Sans', Arial, Helvetica, sans-serif" font-size="18.5" text-anchor="middle" fill="#2b2bd8" font-weight="normal" font-style="normal" >1</text>
<line x1="1158.5" y1="1353" x2="1153.5" y2="1368" stroke="#2b2bd8" stroke-width="4.5"/>
<path d="M1150.8,1376.5 L1148.69,1365.28 L1159.14,1368.71 Z" fill="#2b2bd8" stroke="none" stroke-width="1" />
<text x="1241" y="1285.8" font-family="'Liberation Sans', Arial, Helvetica, sans-serif" font-size="18.5" text-anchor="middle" fill="#1f8a1f" font-weight="normal" font-style="normal" >100</text>
<line x1="1242.5" y1="1299.5" x2="1242.5" y2="1313" stroke="#1f8a1f" stroke-width="4.5"/>
<path d="M1242.5,1322.5 L1237,1311.5 L1248,1311.5 Z" fill="#1f8a1f" stroke="none" stroke-width="1" />
<text x="1519" y="1202" font-family="'Liberation Sans', Arial, Helvetica, sans-serif" font-size="18.5" text-anchor="middle" fill="#d03020" font-weight="normal" font-style="normal" >350</text>
<line x1="1521.3" y1="1213.4" x2="1521.3" y2="1227" stroke="#d03020" stroke-width="4.5"/>
<path d="M1521.3,1236.5 L1515.8,1225.5 L1526.8,1225.5 Z" fill="#d03020" stroke="none" stroke-width="1" />
<g clip-path="url(#cbl)"><rect x="1157.3" y="1459.4" width="154.1" height="74.7" fill="#b2b2b2"/><g filter="url(#blur4)"><ellipse cx="1179" cy="1496" rx="17" ry="19" fill="#fafafa"/><ellipse cx="1179" cy="1496" rx="9" ry="10" fill="#fff"/><rect x="1219" y="1455" width="13" height="84" fill="#8a8a8a"/><ellipse cx="1226" cy="1465" rx="8" ry="9" fill="#5a5a5a"/><ellipse cx="1226" cy="1527" rx="8" ry="9" fill="#5a5a5a"/><ellipse cx="1250" cy="1473" rx="12" ry="9" fill="#e0e0e0"/><ellipse cx="1250" cy="1521" rx="12" ry="9" fill="#e0e0e0"/><ellipse cx="1254" cy="1496" rx="14" ry="7" fill="#0a0a0a"/><ellipse cx="1300" cy="1473" rx="10" ry="10" fill="#d8d8d8"/><ellipse cx="1300" cy="1521" rx="10" ry="10" fill="#d8d8d8"/><ellipse cx="1296" cy="1497" rx="8" ry="6" fill="#8a8a8a"/></g></g>
<rect x="1157.3" y="1459.4" width="154.1" height="74.7" fill="none" stroke="#2323d8" stroke-width="2" />
<g clip-path="url(#cgr)"><rect x="1321.1" y="1374.25" width="154.4" height="74" fill="#f8f8f8"/><g filter="url(#blur3)"><path d="M1362,1410 C1380,1404 1395,1398 1405,1392 L1440,1386 L1440,1436 L1405,1430 C1395,1424 1380,1417 1362,1410 Z" fill="#8a8a8a"/><ellipse cx="1420" cy="1410" rx="17" ry="17" fill="#111"/><rect x="1434" y="1370" width="15" height="82" fill="#1a1a1a"/><ellipse cx="1379" cy="1376" rx="9" ry="5" fill="#8a8a8a"/><ellipse cx="1379" cy="1444" rx="9" ry="5" fill="#8a8a8a"/></g></g>
<rect x="1321.1" y="1374.25" width="154.4" height="74" fill="none" stroke="#2a8a2a" stroke-width="2" />
<g clip-path="url(#crd)"><rect x="1321.1" y="1459.4" width="154.4" height="74.7" fill="#fff"/><path d="M1350,1489.5 C1356,1491 1362,1492 1370,1491.5 C1375,1488 1380,1487.5 1384,1488 C1389,1488.5 1392,1491 1397,1492 C1412,1486 1428,1474 1438.6,1459 C1450,1472 1454,1488 1453,1496 C1454,1504 1450,1520 1438.6,1533.5 C1428,1518 1412,1506 1397,1500 C1392,1501 1389,1503.5 1384,1504 C1380,1504.5 1375,1504 1370,1500.5 C1362,1500 1356,1501 1350,1502.5 C1342,1503 1342,1489 1350,1489.5 Z" fill="#000"/><ellipse cx="1381.6" cy="1464" rx="6" ry="9" fill="#000"/><ellipse cx="1381.6" cy="1528" rx="6" ry="9" fill="#000"/></g>
<rect x="1321.1" y="1459.4" width="154.4" height="74.7" fill="none" stroke="#d22b2b" stroke-width="2" />
<text x="1327" y="1521.75" font-family="'Liberation Sans', Arial, Helvetica, sans-serif" font-size="12.8" text-anchor="start" fill="#111" font-weight="normal" font-style="normal"  textLength="40.5" lengthAdjust="spacingAndGlyphs">200nm</text>
<rect x="1327.6" y="1526.4" width="28.6" height="2.8" fill="#000" stroke="none" stroke-width="1" />
<rect x="1499.9" y="1382.4" width="14.9" height="129" fill="url(#gsi)" stroke="#777" stroke-width="0.8" />
<text x="1507.3" y="1369.4" font-family="'Liberation Sans', Arial, Helvetica, sans-serif" font-size="17.5" text-anchor="middle" fill="#222" font-weight="normal" font-style="normal" >Si</text>
<text x="1508.5" y="1534.1" font-family="'Liberation Sans', Arial, Helvetica, sans-serif" font-size="17.5" text-anchor="middle" fill="#222" font-weight="normal" font-style="normal" >Air</text>
<line x1="22" y1="566.3" x2="1571" y2="566.3" stroke="#2ca4dd" stroke-width="6" stroke-dasharray="52 26.75"/>
<line x1="22" y1="1130.4" x2="1571" y2="1130.4" stroke="#2ca4dd" stroke-width="6" stroke-dasharray="52 26.75"/>
<line x1="1227.2" y1="584.5" x2="1227.2" y2="1109" stroke="#2ca4dd" stroke-width="6.2" stroke-dasharray="52 26.75"/>
<text x="4.5" y="62" font-family="'Liberation Sans', Arial, Helvetica, sans-serif" font-size="55.5" text-anchor="start" fill="#000" font-weight="bold" font-style="normal" >(a)</text>
<text x="2.5" y="645" font-family="'Liberation Sans', Arial, Helvetica, sans-serif" font-size="55.5" text-anchor="start" fill="#000" font-weight="bold" font-style="normal" >(b)</text>
<text x="1250.5" y="645.5" font-family="'Liberation Sans', Arial, Helvetica, sans-serif" font-size="55.5" text-anchor="start" fill="#000" font-weight="bold" font-style="normal" >(d)</text>
<text x="-3" y="1210.5" font-family="'Liberation Sans', Arial, Helvetica, sans-serif" font-size="55.5" text-anchor="start" fill="#000" font-weight="bold" font-style="normal" >(c)</text>
</svg></body></html>
